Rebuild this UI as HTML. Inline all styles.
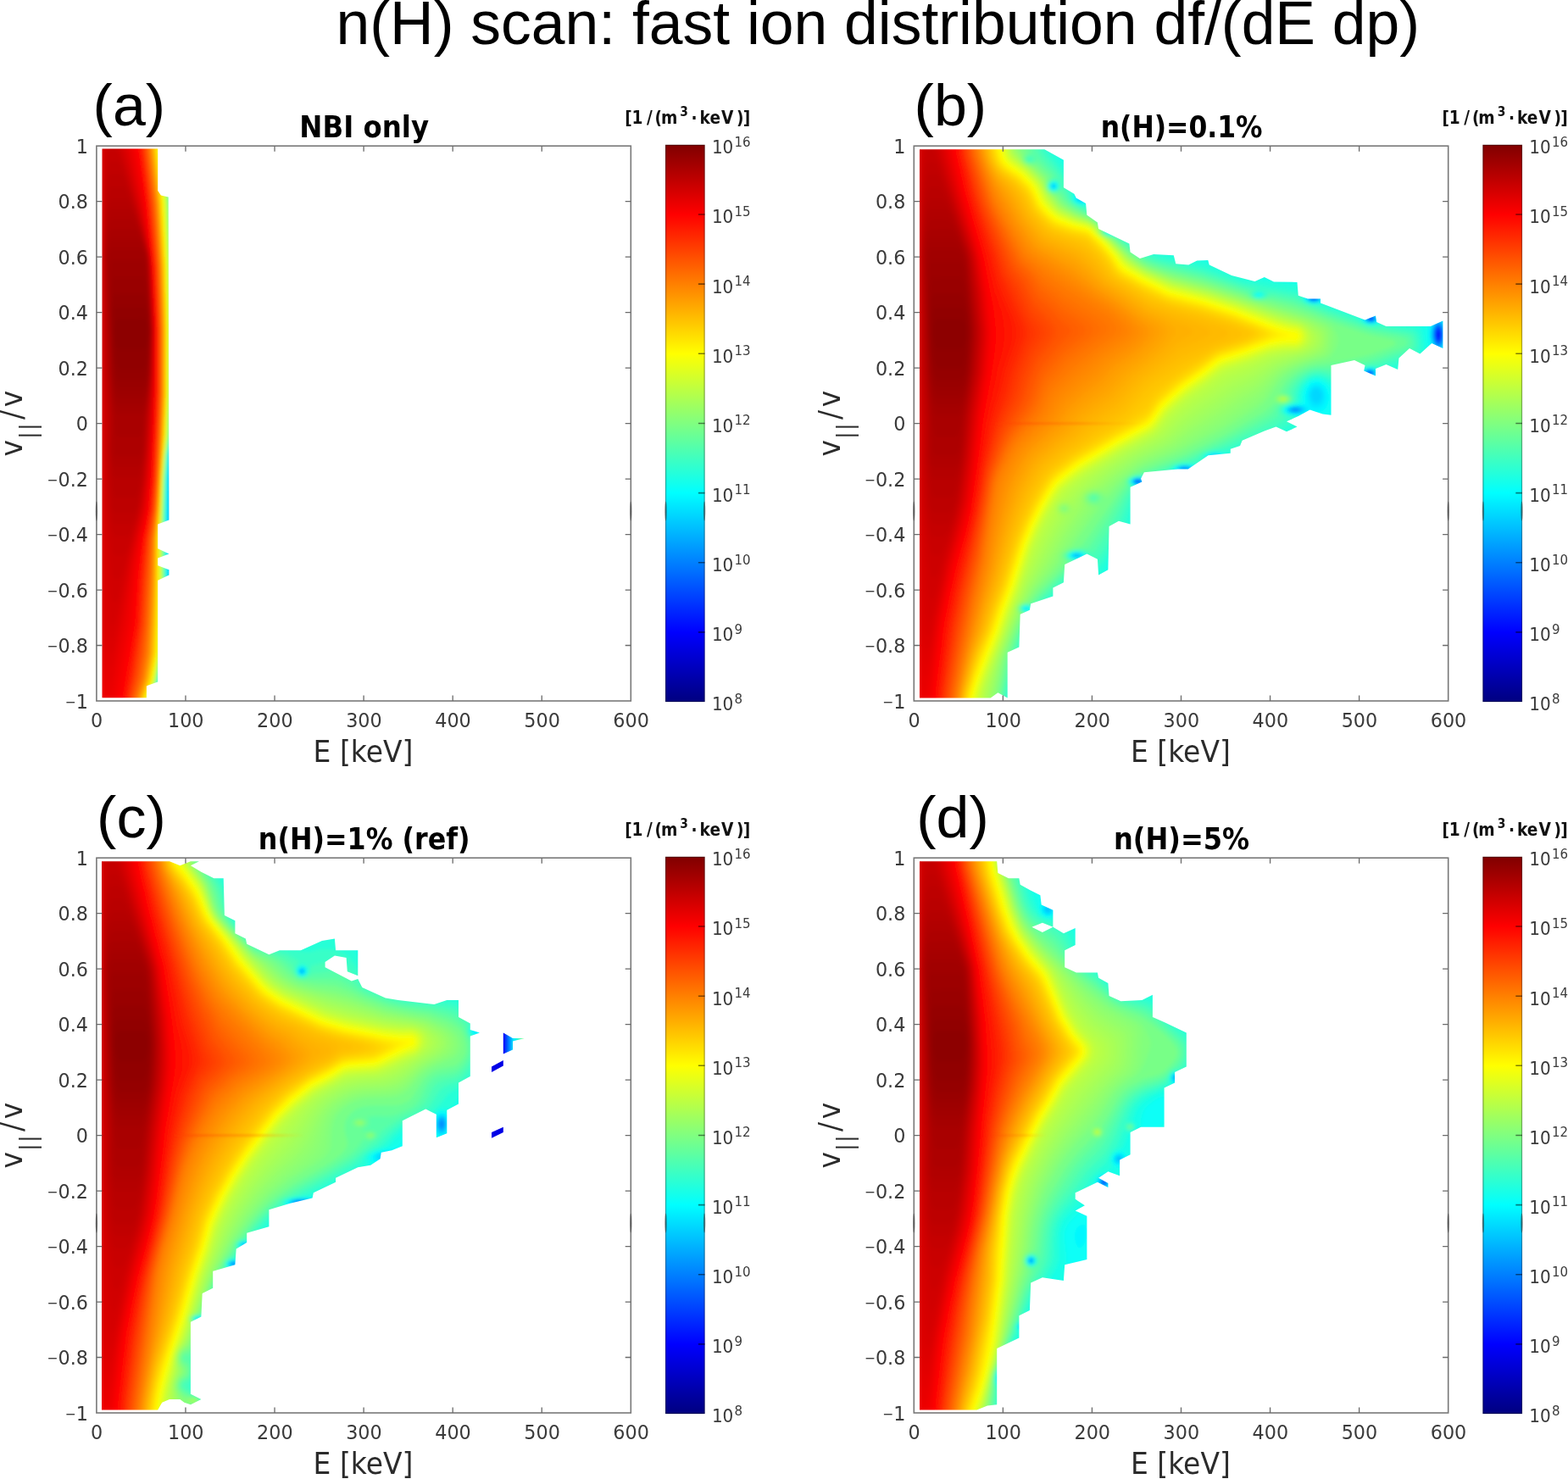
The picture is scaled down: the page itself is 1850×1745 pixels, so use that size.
<!DOCTYPE html>
<html lang="en"><head><meta charset="utf-8"><title>n(H) scan: fast ion distribution df/(dE dp)</title>
<style>
html,body{margin:0;padding:0;background:#fff}
svg{display:block}
.t{font-family:"Liberation Sans",sans-serif;fill:#000}
.d{font-family:"DejaVu Sans","Liberation Sans",sans-serif;fill:#3a3a3a}
.tk{font-size:22.3px}
.mn{font-size:15.5px}
.cb{font-size:20px}
.ex{font-size:15px}
.lb{font-size:33px;fill:#2b2b2b}
.sb{font-size:24.5px}
.ti{font-size:32.4px;font-weight:bold;fill:#000}
.cu{font-size:18.6px;font-weight:bold;fill:#111}
.su{font-size:13.8px}
.ax{fill:none;stroke:#787878;stroke-width:1.6}
.tc{fill:none;stroke:#6a6a6a;stroke-width:1.3}
</style></head><body>
<svg width="1850" height="1745" viewBox="0 0 1850 1745">
<defs>
<filter id="bl" x="-5%" y="-5%" width="110%" height="110%"><feGaussianBlur stdDeviation="2"/></filter>
<filter id="b1" x="-5%" y="-200%" width="110%" height="500%"><feGaussianBlur stdDeviation="1.2"/></filter>
<linearGradient id="rg" x1="0" y1="0" x2="1" y2="0"><stop offset="0" stop-color="#ff3000" stop-opacity="0"/><stop offset="0.12" stop-color="#ff4800"/><stop offset="0.6" stop-color="#ff8a00"/><stop offset="1" stop-color="#ffc000" stop-opacity="0"/></linearGradient>
<linearGradient id="jet" x1="0" y1="1" x2="0" y2="0">
<stop offset="0" stop-color="#000080"/><stop offset="0.03125" stop-color="#00009f"/><stop offset="0.0625" stop-color="#0000bf"/><stop offset="0.09375" stop-color="#0000df"/><stop offset="0.125" stop-color="#0000ff"/><stop offset="0.15625" stop-color="#0020ff"/><stop offset="0.1875" stop-color="#0040ff"/><stop offset="0.21875" stop-color="#0060ff"/><stop offset="0.25" stop-color="#0080ff"/><stop offset="0.28125" stop-color="#009fff"/><stop offset="0.3125" stop-color="#00bfff"/><stop offset="0.34375" stop-color="#00dfff"/><stop offset="0.375" stop-color="#00ffff"/><stop offset="0.40625" stop-color="#20ffdf"/><stop offset="0.4375" stop-color="#40ffbf"/><stop offset="0.46875" stop-color="#60ff9f"/><stop offset="0.5" stop-color="#80ff80"/><stop offset="0.53125" stop-color="#9fff60"/><stop offset="0.5625" stop-color="#bfff40"/><stop offset="0.59375" stop-color="#dfff20"/><stop offset="0.625" stop-color="#ffff00"/><stop offset="0.65625" stop-color="#ffdf00"/><stop offset="0.6875" stop-color="#ffbf00"/><stop offset="0.71875" stop-color="#ff9f00"/><stop offset="0.75" stop-color="#ff8000"/><stop offset="0.78125" stop-color="#ff6000"/><stop offset="0.8125" stop-color="#ff4000"/><stop offset="0.84375" stop-color="#ff2000"/><stop offset="0.875" stop-color="#ff0000"/><stop offset="0.90625" stop-color="#df0000"/><stop offset="0.9375" stop-color="#bf0000"/><stop offset="0.96875" stop-color="#9f0000"/><stop offset="1" stop-color="#800000"/></linearGradient>
</defs>
<rect width="1850" height="1745" fill="#fff"/>
<text class="t" x="396.6" y="51.9" font-size="71.45">n(H) scan: fast ion distribution df/(dE dp)</text>
<g id="panel-a">
<clipPath id="ca"><path clip-rule="evenodd" d="M120.5 175.5l65.7 0 0 49.4 3.7 5.5 8.8 2 0.7 381.2-13.2 4.9 0 28.8 13.2 6.2-13.2 5 0 8.7 13.2 5 0 6.3-13.2 6.2 0 119.9-11.3 3.8-2 1.2 0 13.7-52.4 0z"/></clipPath>
<g clip-path="url(#ca)"><g filter="url(#bl)">
<rect x="110.5" y="165.5" width="99.9" height="669.3" fill="#00b7ff"/>
<path fill="#00c7ff" d="M201.3 165.5l0.3 14 5.9 61.9 1.8 121.9-0.4 99.9-2.2 46-1.2 9.9-3.4 14-1.7 27.2-1.4 72.7 1.4 22-0.3 30-0.7 49.9-1.8 36-6.1 32-7.1 19.9-0.5 12-73.4 0 0-669.3z"/>
<path fill="#00d7ff" d="M200 165.5l0.4 16 5.7 59.9 1.6 75.9 0.3 72-0.4 75.9-2.3 48-4.9 23.6-1.3 28.3-1.4 67.9 1.5 22-0.3 28-1 55.9-1.8 34-6.4 32-5.3 14.2-1.5 5.7-0.2 10-72.2 0 0-669.3z"/>
<path fill="#00e7ff" d="M199.1 165.5l0.4 14 5.9 61.9 1.3 73.9 0.5 68-0.5 79.9-2.4 50-4.3 21.9-1.7 28-1.5 69.9 1.4 22-0.2 30-0.8 49.9-1.7 36-6.1 32-7 19.9-0.5 12-71.4 0 0-669.3z"/>
<path fill="#00f7ff" d="M198.3 165.5l0.3 12 6.1 65.9 1.4 95.9 0.3 52-0.4 73.9-2.3 48-4.3 21.9-1.8 30-0.5 36-1 31.9 1.4 22-0.1 30-0.9 47.9-1.7 38-6.1 32-6.9 19.9-0.4 12-70.9 0 0-669.3z"/>
<path fill="#08fff7" d="M197.8 165.5l0.3 14 5.9 61.9 1.4 72 0.3 51.9-0.3 99.9-2.3 48-4.5 23.9-1.6 28-1.5 69.9 1.3 20-0.1 30-0.8 49.9-1.7 36-6.6 34-6.3 17.9-0.5 12-70.3 0 0-669.3z"/>
<path fill="#18ffe7" d="M197.2 165.5l0.2 12 6.1 65.9 1.3 71.9 0.5 70-0.5 79.9-2.2 48-4.2 21.9-2 30-1.5 69.9 1.2 20 0 32-0.8 47.9-1.6 36-6.1 32-6.9 19.9-0.4 12-69.8 0 0-669.3z"/>
<path fill="#28ffd7" d="M196.6 165.5l0.2 12 6.1 65.9 1.4 71.9 0.5 72-0.6 77.9-2.1 48-4.1 21.9-2 30-1.6 69.9 1.1 20 0.1 32-0.8 47.9-1.6 36-6.1 32-6.9 19.9-0.4 12-69.3 0 0-669.3z"/>
<path fill="#38ffc7" d="M196.1 165.5l0.2 12 6.1 65.9 1.3 71.9 0.6 72-0.6 77.9-2.1 48-4 21.9-2.1 30-1.6 69.9 1 20 0.2 32-0.9 47.9-1.5 36-6.1 32-6.8 19.9-0.5 12-68.8 0 0-669.3z"/>
<path fill="#48ffb7" d="M195.5 165.5l0.2 12 6.1 65.9 1.4 71.9 0.6 72-0.6 77.9-2.1 48-4.1 23.9-1.9 28-1.7 69.9 0.9 20 0.3 32-0.9 47.9-1.5 36-6 32-6.9 19.9-0.4 12-68.4 0 0-669.3z"/>
<path fill="#58ffa7" d="M194.9 165.5l0.3 12 6 65.9 1.5 71.9 0.6 72-0.5 77.9-2.2 48-4.2 25.5-1.8 26.4-1.7 69.9 0.8 20 0.4 32-0.9 47.9-1.5 36-6 32-6.8 19.9-0.5 12-67.9 0 0-669.3z"/>
<path fill="#68ff97" d="M194.4 165.5l0.2 12 6.1 65.9 1.5 71.9 0.6 72-0.5 77.9-2.2 48-3.9 23.9-2 28-1.8 69.9 1.2 52-0.9 47.9-1.5 36-5.9 32-6.9 19.9-0.5 12-67.4 0 0-669.3z"/>
<path fill="#78ff87" d="M193.7 165.5l0.3 12 6.1 67.9 1.5 69.9 0.7 72-0.5 77.9-2.1 48-3.8 23.9-2 28-2 69.9 1.2 54-0.9 45.9-1.4 36-6 32-6.9 19.9-0.4 12-67 0 0-669.3z"/>
<path fill="#82ff7d" d="M193.1 165.5l0.2 12 6.1 65.9 1.7 71.9 0.7 72-0.5 77.9-2.1 48-3.7 23.9-2 28-2.1 69.9 1.2 52-0.9 47.9-1.4 36-6 32-6.9 19.9-0.4 12-66.5 0 0-669.3z"/>
<path fill="#87ff78" d="M192.9 165.5l0.2 12 6.1 65.9 1.7 71.9 0.7 72-0.5 77.9-2.1 48-3.8 25.9-1.9 28-2.1 67.9 1.2 52-0.9 47.9-1.4 36-5.9 32-7 19.9-0.4 12-66.3 0 0-669.3z"/>
<path fill="#8cff73" d="M192.7 165.5l0.2 12 6 65.9 1.8 71.9 0.8 72-0.5 77.9-2.2 48-3.7 25.9-1.9 28-2.1 67.9 1.1 52-0.8 47.9-1.5 36-5.9 32-6.9 19.9-0.4 12-66.2 0 0-669.3z"/>
<path fill="#91ff6e" d="M192.5 165.5l0.2 12 6 65.9 1.8 71.9 0.8 72-0.5 77.9-2.1 48-3.7 25.9-1.9 28-2.2 67.9 1.2 52-0.9 47.9-1.4 36-6 32-6.9 19.9-0.4 12-66 0 0-669.3z"/>
<path fill="#96ff69" d="M192.2 165.5l0.3 12 6 65.9 1.9 71.9 0.8 72-0.5 77.9-2.2 48-3.6 25.9-1.9 28-2.2 67.9 1.1 52-0.9 47.9-1.4 36-5.9 32-7 19.9-0.4 12-65.8 0 0-669.3z"/>
<path fill="#9cff63" d="M192 165.5l0.2 12 5.7 59.9 0.5 10.9 1.8 67 0.8 72-0.5 77.9-2.1 48-3.6 25.9-2 28-2.2 67.9 1.1 52-0.9 47.9-1.4 36-5.9 32-6.9 19.9-0.4 12-65.7 0 0-669.3z"/>
<path fill="#a1ff5e" d="M191.7 165.5l0.3 12 5.8 61.9 0.6 17.5 1.6 58.4 0.8 72-0.5 77.9-2.1 48-3.6 25.9-1.9 28-2.3 67.9 1.1 52-0.8 47.9-1.4 36-6 32-6.9 19.9-0.4 12-65.5 0 0-669.3z"/>
<path fill="#a6ff59" d="M191.5 165.5l0.2 12 5.8 61.9 0.9 25.7 1.4 50.2 0.9 72-0.5 77.9-2.2 48-3.5 25.9-1.9 28-2.3 67.9 1 52-0.8 47.9-1.4 36-5.9 32-7 19.9-0.4 12-65.3 0 0-669.3z"/>
<path fill="#abff54" d="M191.3 165.5l0.2 12 5.8 61.9 1.1 34.1 1.2 41.8 0.9 72-0.5 77.9-2.1 48-3.5 25.9-1.9 28-2.4 67.9 1 52-0.7 45.9-1.5 38-5.9 32-7 19.9-0.4 12-65.1 0 0-669.3z"/>
<path fill="#b0ff4f" d="M191 165.5l0.2 12 5.8 61.9 1.4 42 1 33.9 1 74-0.6 75.9-2.1 48-3.4 25.9-1.9 28-2.5 67.9 1 52-0.7 45.9-1.4 38-6 32-7 19.9-0.4 12-64.9 0 0-669.3z"/>
<path fill="#b5ff4a" d="M190.8 165.5l0.1 12 5.9 63.9 2.3 70 1.1 77.9-0.5 75.9-2.2 48-3.3 25.9-1.8 24.9-2.6 69 1 54-0.9 47.9-1.3 36-5.9 32-7.1 19.9-0.4 12-64.7 0 0-669.3z"/>
<path fill="#baff45" d="M190.5 165.5l0.2 12 5.8 61.9 2.4 72 1.1 77.9-0.5 75.9-2.1 48-3.3 25.9-1.8 24-2.6 69.9 0.9 54-0.9 47.9-1.3 36-5.9 32-7.1 19.9-0.4 12-64.5 0 0-669.3z"/>
<path fill="#bfff40" d="M190.2 165.5l0.2 12 5.9 63.9 2.4 72 1.2 75.9-0.6 75.9-2.1 48-3.2 25.9-1.8 24-2.7 69.9 0.9 54-2 81.9-0.7 6-5.4 28-7 19.9-0.4 12-64.4 0 0-669.3z"/>
<path fill="#c4ff3b" d="M190 165.5l0.2 12 5.8 63.9 2.5 72 1.2 75.9-0.5 75.9-2.2 48-3.2 25.9-1.7 24-2.8 69.9 0.9 54-0.8 47.9-1.4 36-5.9 32-7 19.9-0.4 12-64.2 0 0-669.3z"/>
<path fill="#c9ff36" d="M189.7 165.5l0.2 12 5.8 63.9 2.6 72 1.2 75.9-0.5 75.9-2.2 48-3.1 25.9-1.7 24-2.8 69.9 0.7 54-0.7 47.9-1.4 36-5.9 32-7 19.9-0.4 12-64 0 0-669.3z"/>
<path fill="#cfff30" d="M189.4 165.5l0.2 12 5.8 63.9 2.7 72 1.2 75.9-0.5 75.9-2.1 48-3.1 25.9-1.7 24-2.9 69.9 0.7 54-0.7 47.9-1.4 36-5.9 32-7 19.9-0.4 12-63.8 0 0-669.3z"/>
<path fill="#d4ff2b" d="M189.1 165.5l0.2 12 5.8 63.9 2.8 72 1.3 75.9-0.5 75.9-2.2 48-3 25.9-1.7 24-3 69.9 0.7 54-0.7 47.9-1.4 36-5.9 32-7 19.9-0.5 12-63.5 0 0-669.3z"/>
<path fill="#d9ff26" d="M188.8 165.5l0.2 12 5.8 63.9 2.9 72 1.3 75.9-0.5 75.9-2.2 48-2.9 25.9-1.7 24-3 69.9 0.6 54-0.7 47.9-1.4 36-5.9 32-7.1 19.9-0.4 12-63.3 0 0-669.3z"/>
<path fill="#deff21" d="M188.6 165.5l0.1 12 5.8 63.9 3 72 1.3 75.9-0.4 73.9-2.3 50-2.8 25.9-1.7 24-3.1 69.9 0.6 54-0.7 46.4-1.4 37.5-5.9 32-7.1 19.9-0.4 12-63.1 0 0-669.3z"/>
<path fill="#e3ff1c" d="M188.3 165.5l0.2 12 5.8 63.9 2.9 72 1.4 75.9-0.4 73.9-2.2 50-2.8 25.9-1.7 24-3.2 71.9 0.6 52-0.7 45.9-1.4 38-5.9 32-7.1 19.9-0.4 12-62.9 0 0-669.3z"/>
<path fill="#e8ff17" d="M188 165.5l0.2 12 5.8 63.9 3 72 1.5 75.9-0.5 73.9-2.2 50-2.8 25.9-1.7 24-3.2 71.9 0.6 52-0.8 45.9-1.3 38-5.9 32-7.2 19.9-0.4 12-62.6 0 0-669.3z"/>
<path fill="#edff12" d="M187.7 165.5l0.2 12 5.8 63.9 3.1 72 1.5 75.9-0.5 73.9-2.2 50-2.7 25.9-1.7 24-3.3 71.9 0.5 52-0.8 47.9-1.2 35.9-6 32.1-7.1 19.9-0.4 12-62.4 0 0-669.3z"/>
<path fill="#f2ff0d" d="M187.4 165.5l0.1 12 5.9 63.9 3.2 72 1.5 75.9-0.5 73.9-2.2 50-2.6 25.9-1.7 24-3.4 71.9 0.5 52-1.9 81.9-5.9 33-7.4 20.9-0.3 12-62.2 0 0-669.3z"/>
<path fill="#f7ff08" d="M187 165.5l0.2 12 5.9 63.9 3.3 73.6 1.5 74.3-0.5 73.9-2.2 50-4.2 49.9-3.5 71.9 0.4 52-0.8 47.9-1.1 34-1.6 11.1-4 20.9-7.6 21.9-0.4 12-61.9 0 0-669.3z"/>
<path fill="#fcff03" d="M186.7 165.5l0.2 12 5.9 63.9 3.4 73.9 1.5 74-0.5 75.9-2.2 48-4 47.9-3.7 73.9 0.4 52-0.8 47.9-1.2 34-1.3 9.7-4.8 24.3-7.1 19.9-0.4 12-61.6 0 0-669.3z"/>
<path fill="#fffc00" d="M186.4 165.5l0.2 12 5.9 63.9 3.4 73.9 1.6 74-0.5 75.9-2.2 48-3.9 47.9-1.8 42-2 31.9 0.3 52-0.7 47.9-1.4 36-6 32-7.1 19.9-0.4 12-61.3 0 0-669.3z"/>
<path fill="#fff700" d="M186.1 165.5l0.2 12 5.9 63.9 3.5 73.9 1.5 74-0.4 75.9-2.1 48-3.9 47.9-1.8 42-2.1 31.9 0.3 52-0.8 47.8-1.4 36.1-6 32-7.1 19.9-0.4 12-61 0 0-669.3z"/>
<path fill="#fff200" d="M185.8 165.5l0.2 12 5.9 63.9 3.5 73.9 1.6 74-0.4 75.9-2.1 48-3.8 47.9-1.9 42-2.1 31.9 0.2 52-0.8 45.9-1.4 38-5.9 32-7.2 19.9-0.4 12-60.7 0 0-669.3z"/>
<path fill="#ffed00" d="M185.4 165.5l0.2 12 6 63.9 3.6 73.9 1.6 74-0.4 75.9-2.1 48-3.7 47.9-1.9 42-2.1 31.9 0.1 52-0.9 45.9-1.4 38-5.9 32-7.2 19.9-0.4 12-60.4 0 0-669.3z"/>
<path fill="#ffe800" d="M185.1 165.5l0.2 12 6 63.9 3.6 73.9 1.7 74-0.3 73.9-2.2 50-3.8 49.9-1.7 40-2.2 31.9 0 52-2.2 81.9-5.8 32.8-7.4 21.1-0.4 12-60.1 0 0-669.3z"/>
<path fill="#ffe300" d="M184.7 165.5l0.2 12 6.1 63.9 3.7 73.9 1.7 74-0.3 73.9-2.2 50-3.7 49.9-1.8 39.9-2.3 32 0 52-1 47.9-1.3 34-1.4 10.2-4.1 21.8-7.6 21.9-0.4 12-59.8 0 0-669.3z"/>
<path fill="#ffde00" d="M184.4 165.5l0.2 12 6.1 63.9 3.8 73.9 1.7 74-0.4 73.9-2.1 50-3.6 49.9-1.7 38-2.5 33.9-0.1 52-1 47.9-1.5 36-5.9 32-7.1 19.9-0.4 12-59.4 0 0-669.3z"/>
<path fill="#ffd900" d="M184 165.5l0.3 12 6.1 63.9 3.8 73.9 1.8 74-0.4 75.9-2.2 49.9-3.5 48-1.7 38-2.5 33.9-0.2 52-1 47.9-1.6 36-5.9 32-7.1 19.9-0.4 12-59 0 0-669.3z"/>
<path fill="#ffd400" d="M183.7 165.5l0.2 12 6.2 63.9 3.8 73.9 1.8 74-0.3 75.9-2.2 49.9-3.4 48-1.8 38-2.5 33.9-0.3 52-1 45.9-1.7 38-5.8 32-7.1 19.9-0.4 12-58.7 0 0-669.3z"/>
<path fill="#ffcf00" d="M183.3 165.5l0.2 12 6.1 61.9 4.1 75.9 1.7 70-0.3 81.9-2.1 47.9-3.3 48-1.8 38-2.6 33.9-0.4 54-1.2 45.9-1.6 36-5.8 32-7.1 19.9-0.4 12-58.3 0 0-669.3z"/>
<path fill="#ffc900" d="M182.9 165.5l0.3 12 6.1 61.9 4 74 1.1 39.9 0.9 38-0.4 75.9-2.1 47.9-3.3 48-1.8 38-2.6 33.9-0.7 60.1-1.1 39.8-1.6 36-5.8 32-7.1 19.9-0.4 12-57.9 0 0-669.3z"/>
<path fill="#ffc400" d="M182.6 165.5l0.2 12 6.2 61.9 4.1 74 1.3 49.8 0.6 28.1-0.3 75.9-2.2 49.9-3.1 46-1.9 38-2.7 33.9-0.5 52-1.3 47.9-1.8 36-5.8 32-7 19.9-0.4 12-57.5 0 0-669.3z"/>
<path fill="#ffbf00" d="M182.2 165.5l0.2 12 6.3 61.9 4.1 74 1.6 59.5 0.4 18.4-0.3 75.9-2.1 47.7-3.2 48.2-1.8 38-2.8 33.9-0.6 52-1.4 47.9-1.8 36-5.8 32-7 19.9-0.4 12-57.1 0 0-669.3z"/>
<path fill="#ffba00" d="M181.8 165.5l0.3 12 6.3 61.9 4.2 75.9 1.8 67.1-0.2 84.8-1.9 46-5.1 87.9-2.8 33.9-0.8 54-1.4 45.9-1.8 36-5.8 32-7 19.9-0.4 12-56.7 0 0-669.3z"/>
<path fill="#ffb500" d="M181.5 165.5l0.2 12 6.4 61.9 4.2 75.9 2 72-0.3 79.9-1.9 46-5 87.9-3 33.9-1.6 80-2.6 55.9-5.5 31-7.2 20.9-0.4 12-56.3 0 0-669.3z"/>
<path fill="#ffb000" d="M181.1 165.5l0.2 12 6.5 61.9 4.3 75.9 1.9 70-0.2 81.9-2 46-4.9 87.9-3 33.9-1.5 69.9-2.9 66-5.3 30-7.4 21.9-0.4 12-55.9 0 0-669.3z"/>
<path fill="#ffab00" d="M180.7 165.5l0.3 12 6.5 61.9 4.3 75.9 1.9 70-0.2 81.9-2 47.9-4.8 86-3.1 33.9-1.2 59.5-1.4 40.4-2 36-5.2 30-7.4 21.9-0.4 12-55.5 0 0-669.3z"/>
<path fill="#ffa600" d="M180.3 165.5l0.3 12 6.6 61.9 4.3 75.9 2 70-0.2 81.9-2 47.9-4.7 86-3.2 33.9-1.1 52-1.7 47.9-2.1 36-5.1 30-7.4 21.9-0.4 12-55.1 0 0-669.3z"/>
<path fill="#ffa100" d="M180 165.5l0.2 12 6.6 61.9 4.3 74 1.3 43.1 0.9 34.8-0.3 75.9-1.9 47.9-4.7 85.6-3.3 34.3-2.2 80-2.8 55.9-5.2 30-7.3 21.9-0.4 12-54.7 0 0-669.3z"/>
<path fill="#ff9c00" d="M179.6 165.5l0.2 12 6.7 61.9 4.4 75.9 2 70-0.1 81.9-1.9 47.9-4.5 82.6-3.6 37.3-2.2 80-3 55.9-5.1 30-7.4 21.9-0.3 12-54.3 0 0-669.3z"/>
<path fill="#ff9600" d="M179.2 165.5l0.2 12 6.9 63.9 4.3 73.9 2.1 70-0.2 83.9-1.9 47.9-4.2 77.4-3.8 40.5-2.2 73.2-3.3 62.7-5.1 30-7.3 21.9-0.3 12-53.9 0 0-669.3z"/>
<path fill="#ff9100" d="M178.8 165.5l0.2 12 7 63.9 4.3 73.9 2.1 70-0.1 81.9-1.9 48.7-4 75.4-4.2 45.7-1.8 61-3.8 72.9-5.1 30-7.2 21.9-0.4 12-53.4 0 0-669.3z"/>
<path fill="#ff8c00" d="M178.4 165.5l0.2 12 7 63.9 4.4 73.9 2.2 72-0.2 79.9-1.7 46-3.9 74.5-4.5 49.3-1.5 51.5-2 46-2.1 34.4-5.3 32-7.2 21.9-0.4 12-52.9 0 0-669.3z"/>
<path fill="#ff8700" d="M177.9 165.5l0.3 12 7.1 63.9 4.4 73.9 2.3 74-0.1 73.9-1.5 41.4-4.3 84.5-1.7 21.6-2.9 26.3-3.1 87.5-2.9 46.4-5 30-7.2 21.9-0.3 12-52.5 0 0-669.3z"/>
<path fill="#ff8200" d="M177.5 165.5l0.2 12 7.1 61.9 4.6 75.9 2.3 74-0.1 73.9-1.2 34.9-5.2 101-4 37.9-2.8 77.6-3.4 56.3-5.1 30-7.1 21.9-0.3 12-52 0 0-669.3z"/>
<path fill="#ff7d00" d="M177 165.5l0.3 12 7.1 62.1 4.7 75.7 2.2 72 0 75.9-0.9 27.6-2 46.5-3.6 63.8-3.9 35.9-2.9 76-3.6 57.7-5.1 30.2-7 21.9-0.3 12-51.5 0 0-669.3z"/>
<path fill="#ff7800" d="M176.6 165.5l0.2 12 7.3 63.9 4.7 73.9 2.3 74 0 73.9-1.3 36-5.2 101.9-4 33.9-4.2 98.7-2.5 35.2-5.2 32-7 21.9-0.3 12-50.9 0 0-669.3z"/>
<path fill="#ff7300" d="M176.1 165.5l0.3 12 7.3 63.9 4.7 73.1 2.4 74.8 0 73.9-1.3 38-5.1 99.4-4.3 36.4-4.2 95.9-2.9 38-4.6 28.1-7.3 23.8-0.3 12-50.3 0 0-669.3z"/>
<path fill="#ff6e00" d="M175.6 165.5l0.3 12 7.4 63.9 4.8 73.9 2.4 74 0 73.9-1.8 50-4.3 83.5-4.7 40.3-4.5 95.9-2.8 36-5.2 32-6.7 21.9-0.3 12-49.7 0 0-669.3z"/>
<path fill="#ff6900" d="M175.1 165.5l0.3 12 7.5 63.9 4.9 73.9 2.4 74 0 73.9-1.8 51.9-4 77.6-0.8 10.4-4.3 33.9-4.8 97.9-2.9 34-5.2 32-6.5 21.9-0.3 12-49.1 0 0-669.3z"/>
<path fill="#ff6300" d="M174.6 165.5l0.3 12 7.5 63.9 5 73.9 2.5 74 0 73.9-1.5 44.7-4 81.2-1.1 14-4.5 33.9-5.3 101.9-3.2 34-4.7 28-6.4 21.9-0.3 12-48.4 0 0-669.3z"/>
<path fill="#ff5e00" d="M174.1 165.5l0.3 12 7.6 63.9 4.4 63.8 3.2 84.1 0 69.9-3.4 93.9-3 48-4.8 35.9-5.2 97.9-3.3 34-4.8 30-6.6 23.9-0.3 12-47.7 0 0-669.3z"/>
<path fill="#ff5900" d="M173.6 165.5l0.2 12 7.7 63.9 4.9 69.2 2.9 78.7 0 71.9-4 101.9-2.6 40-4.8 33.9-5.8 101.9-3.3 32-4.2 26-6.8 25.9-0.3 12-47 0 0-669.3z"/>
<path fill="#ff5400" d="M173 165.5l0.3 12 7.7 63.9 5.2 72 2.8 75.9 0 73.9-4.1 101.9-2.5 37.3-5 34.6-6 101.9-3.5 32-4.2 26-6.6 25.9-0.3 12-46.3 0 0-669.3z"/>
<path fill="#ff4f00" d="M172.5 165.5l0.2 12 7.8 63.9 5.4 72 2.8 75.9 0 73.9-4.2 103.9-2.3 34-5.3 35.9-3.4 50-2.6 49.9-3.9 34-4.1 26-6.5 25.9-0.3 12-45.6 0 0-669.3z"/>
<path fill="#ff4a00" d="M171.9 165.5l0.3 12 7.8 63.9 5.5 72 2.9 75.9 0 71.9-4 103.3-2.6 36.6-5.4 35.9-3.4 48-2.8 51.9-4.1 34-4.1 26-6.3 25.9-0.3 12-44.9 0 0-669.3z"/>
<path fill="#ff4500" d="M171.4 165.5l0.3 12 7.8 63.9 5.6 72 3 75.9 0 71.9-3.9 101.9-2.7 38-5.7 35.9-3.5 48-2.8 51.9-4.2 34-4.2 26-6.2 25.9-0.2 12-44.2 0 0-669.3z"/>
<path fill="#ff4000" d="M170.8 165.5l0.3 12 7.9 63.9 5.7 72 3.1 75.9 0 71.9-4.1 103.9-2.8 38-5.6 33.9-3.7 48-2.8 51.9-4.4 34-4.2 26-5.8 24.6-0.4 13.3-43.5 0 0-669.3z"/>
<path fill="#ff3b00" d="M170.3 165.5l0.3 12 7.9 63.9 6 73.9 3 74 0 71.9-4.1 103.9-2.9 38-5.7 33.9-3.9 48-2.8 51.9-4.6 34-4.2 26-5.5 23.9-0.5 14-42.8 0 0-669.3z"/>
<path fill="#ff3600" d="M169.7 165.5l0.3 12 8 63.9 6.1 73.9 3 74 0 71.9-4.1 103.9-2.6 36-6.3 37.9-3.9 46-2.9 51.9-8.8 60-5.4 23.9-0.5 14-42.1 0 0-669.3z"/>
<path fill="#ff3000" d="M169.2 165.5l0.3 12 8 63.9 6.2 73.9 3.1 74 0 71.9-4.1 103.9-2.7 36-6.5 37.9-4 46-2.9 51.9-9 60-5.2 23.9-0.5 14-41.4 0 0-669.3z"/>
<path fill="#ff2b00" d="M168.6 165.5l0.3 12 8.1 63.9 6.4 73.9 3.1 74 0 71.9-4.1 103-2.8 36.9-6.6 37.9-4.2 46-2.9 51.9-9.2 60-5 23.9-0.5 14-40.7 0 0-669.3z"/>
<path fill="#ff2600" d="M168.1 165.5l0.3 12 8.1 63.9 6.5 73.9 3.2 74 0 71.9-1.8 52.9-2.4 51-2.8 36-6 31.9-0.9 8-4.2 44-2.7 49.9-9.6 62-4.8 23.9-0.5 14-40 0 0-669.3z"/>
<path fill="#ff2100" d="M167.5 165.5l0.3 12 8 61.9 6.8 75.9 3.3 74-0.1 71.9-1.7 52-2.5 51.9-2.8 36-6.4 33.9-4.5 44-3.2 55.9-9.7 62-4.7 23.9-0.5 14-39.3 0 0-669.3z"/>
<path fill="#ff1c00" d="M166.9 165.5l0.3 12 8.1 61.9 7 75.9 3.2 74 0 71.9-1.8 52-2.5 51.9-2.8 36-6.6 33.9-4.6 44-3.2 55.9-9.9 62-4.6 23.9-0.4 14-38.6 0 0-669.3z"/>
<path fill="#ff1700" d="M166.3 165.5l0.3 12 8.2 61.9 7.1 75.9 3.3 74-0.1 71.9-1.8 52-2.5 51.9-2.9 36-6.6 33.9-5.2 48-2.8 51.9-14.5 85.9-0.4 14-37.9 0 0-669.3z"/>
<path fill="#ff1200" d="M165.7 165.5l0.3 12 8.4 63.7 7.3 76.1 3.2 72-0.1 71.9-1.9 53.9-2.5 50-2.9 36-6.8 33.9-5.1 46-3.1 53.9-14.5 85.9-0.4 14-37.1 0 0-669.3z"/>
<path fill="#ff0d00" d="M165 165.5l0.3 12 8.5 63.9 7.5 75.9 3.3 72-0.1 51.9-0.2 26-4.2 95.9-3.1 38-6.9 33.9-5.1 44-3.3 55.9-14.5 85.9-0.4 14-36.3 0 0-669.3z"/>
<path fill="#ff0800" d="M164.3 165.5l0.3 12 8.4 61.9 8 77.9 3.3 72-0.1 49.9-0.3 26-1.5 42.4-2.9 57.5-3 36-7.1 33.9-5.4 46-3.2 53.9-7.2 40-7 43.9-0.6 6-0.1 10-35.4 0 0-669.3z"/>
<path fill="#ff0300" d="M163.4 165.5l0.3 12 8.7 62.3 7.1 63.6 1.2 15.9 3.3 70-0.2 51.9-1.5 58-3.9 74-2.5 27.9-7.2 33.9-5.4 44-3.5 55.9-6.4 34-7.9 49.9-0.6 16-34.4 0 0-669.3z"/>
<path fill="#fd0000" d="M162.4 165.5l0.3 12 9.1 63.9 7.6 64 4.1 79.9-0.5 81.9-3.3 75.9-3.3 45.9-1.5 14.1-6.2 27.9-1.6 10-5.5 44-3.1 49.9-7.2 38-7.6 47.9-0.3 14-32.9 0 0-669.3z"/>
<path fill="#f90000" d="M161.2 165.5l0.4 12 9.3 61.9 8 64 1.1 13.9 3.3 70-0.6 79.9-3.4 75.9-2.9 40.2-2 19.6-6.8 30.1-2.1 14-4.7 36-3.8 51.9-7.7 40-7.3 45.9-0.5 14-31 0 0-669.3z"/>
<path fill="#f50000" d="M159.9 165.5l0.2 10 10.3 65 8.3 62.9 1.1 13.9 3.3 70-0.7 79.5-4 84.3-4 47.8-7.6 34.1-1.6 10-6 42-4.2 49.9-7.5 38-8.2 47.9-0.5 14-28.3 0 0-669.3z"/>
<path fill="#f10000" d="M158.2 165.5l0.5 12 11.1 63.9 8.6 62 1.1 13.9 3.4 72-0.8 75.9-3.7 78.2-4.3 51.7-1.7 10.8-6.8 29.1-4.3 26-3.7 26-4.6 45.9-16.7 87.9-0.6 14-25.2 0 0-669.3z"/>
<path fill="#ed0000" d="M156.4 165.5l0.2 10 12 63.9 9.6 64 1.1 13.9 3.4 72-1.1 77.9-3.3 69.9-1.9 27.5-3.2 32.5-0.9 6-7.3 29.9-5 28-3.7 24-5.7 47.9-17.4 87.9-0.5 4-0.1 10-13.1 0-0.2-10-0.8-3-2-1.8-6-0.3 0-654.2z"/>
<path fill="#e90000" d="M154.6 165.5l0.2 10 13.3 65.9 9.6 60 1.3 15.9 3.4 72-0.4 49.9-0.8 28-3.9 75.9-1.6 22-3.3 32-1.4 8-7.4 29.9-5 26-3.9 24-6.8 49.9-13.4 66.7-4 15.4-2 3.9-2-1-6-16.2-2-3.9-2-1.6-6-0.4 0-632.3z"/>
<path fill="#e50000" d="M152.7 165.5l0.3 10 14.2 65.9 10.3 60 1.3 15.9 3.4 72-0.7 59.9-3.1 66.1-3.2 47.8-3.6 34-1.2 6.6-7.4 29.3-5.8 28-11.3 71.9-9.4 46.2-4 17.6-2 6.1-2 1.8-2-3.2-6-19-2-4.2-2-1.8-6-0.4 0-610.5z"/>
<path fill="#e10000" d="M150.9 165.5l0.1 8 0.6 4 14.8 64.7 10.8 59.2 1.3 15.9 3.4 72-0.5 49.9-0.9 28-4.1 72.7-2 24.8-3.4 30.4-1.3 8-7.7 29.9-6.1 28-11.2 65.9-6.2 30.6-4 18.3-2 7.3-2 4-2-0.4-2-4.7-6-20.9-2-4.5-2-1.9-6-0.5 0-588.7z"/>
<path fill="#dd0000" d="M149.1 165.5l0.1 8 0.6 4 16.4 67.9 10.8 56 1.3 15.9 3.4 72-0.5 49.9-1 26-4.1 71.9-2.2 26-3.7 32-1.4 8-7.8 29.9-6.5 28-10.9 59.9-7.1 34-4 13.8-2 2.1-2-2.5-2-5.9-6-23.5-4-72.7-2-9-2-1-2 0 0-490.7z"/>
<path fill="#d90000" d="M147.2 165.5l0.2 8 0.6 4 7.5 28 9.9 39.9 11.3 56 1.2 13.9 3.5 74-0.5 49.9-1.1 26-4.3 71.9-2.5 28-3.6 30-1.5 8-14.8 57.9-14.6 73.1-4 15.7-2 3.8-2-0.1-2-4-2.4-8.6-1.2-8-2-35.9-3.4-103.9-0.8-54-1.5-237.7 1.6-135.9z"/>
<path fill="#d50000" d="M145.4 165.5l0.1 8 0.7 4 7.9 28 10.3 39.6 6 26.1 6.1 30.2 1.2 13.9 3.5 74-0.8 53.9-5.1 87.9-2.8 32-3.9 32-1.6 8-15.4 57.9-9.1 44.7-4 16.6-4 12.6-2 2.4-2-1.9-1.4-6.5-2.7-29.9-4.6-99.9-0.9-48-2-249.7 2.1-135.9z"/>
<path fill="#d10000" d="M143.6 165.5l0.1 8 0.7 4 8 26.9 12 44.2 6 24.9 5.8 27.9 1.2 13.9 3.5 74-0.8 53.9-5.4 87.9-2.9 32-4.1 32-1.6 8-16 57.9-9.6 41-2 5.6-2 3.4-2 0.8-2-2-2-8.1-2-20.2-5-82.4-1.4-60 0.1-47.9-1-50-1.4-139.8 2.8-135.9z"/>
<path fill="#cd0000" d="M141.7 165.5l0.1 8 0.7 4 9.9 31.8 14 50 6 25.2 4 20.2 4.3 84.6-0.8 51.9-5.7 89.9-3.2 32-4.1 32-4.5 17.8-17.9 61.7-2 5.5-2 2.4-2 0.7-2 0-2-0.8-2-4.2-2-13.7-5-59.4-1.8-54-0.3-59.9-1.2-52-1.6-137.8 1.6-80 1.9-55.9z"/>
<path fill="#c90000" d="M139.6 165.5l0.2 8 1.3 6 11.3 34.3 11.2 37.6 6.8 26.3 4 17.3 2 12.4 4 81.9-0.9 51.9-3.7 50-2.2 39.9-3.2 31-4 30.1-1.7 8.9-4.3 14.9-10 30.2-1.9 4.6-2 3.1-2 1.3-2 0.2-6-0.1-2-1.1-2.1-5.2-1.9-12.6-3.4-31.3-2.2-54-0.5-20 0.3-39.9-1.5-50-2-139.8 2.3-87.9 2.2-38 0.1-10z"/>
<path fill="#c50000" d="M135.2 165.5l0.3 8 7 15.6 7.9 22.7 14 45.4 10 39.2 2.1 15 3.6 75.9-1.4 61.9-3.5 42-2.4 41.9-3.8 34-4.3 30-4.3 14.6-6 15.8-2 3.1-2 1.6-1.9 0.3-12-0.2-2-1.1-2-3.8-2-9-2.2-19.3-2.1-48-0.6-20 0.3-39.9-1.9-52-2.2-137.8 1.2-50 1.9-43.9 1.6-20.4 3.2-13.6 0-8z"/>
<path fill="#c10000" d="M130.5 190.5l6-0.4 2 0.6 2 1.8 2 3.3 4 9.4 13.9 41.6 8 27.1 6.3 25.5 1.7 15.9 3.5 80-1 45.9-4.2 50-2.3 39.9-4 34.4-5 31.6-3 9.8-4 8.8-2 1.9-2 0.4-15.9 0-2-0.8-2-3.8-2-10.4-1.5-19.9-2.2-50 0.3-41.9-2.2-52-2.5-137.8 1.4-50 2.3-41.9 0.4-5.2 2-11.1z"/>
<path fill="#bd0000" d="M132.5 205.1l8 0.1 2 0.7 2 2 4 8.1 11.9 33.6 8 26.3 6.1 23.5 1.7 17.9 3.5 74-1 45.9-1.1 18-3.5 36-2.6 41.9-5.1 38.8-4 22.8-2 5.7-2 3.1-2 1.1-2 0.2-17.9-0.1-2-0.9-2-4.4-0.9-6.3-2.9-42-0.8-20 0.4-39.9-2.5-52-2.9-137.8 1.6-48.7 2-31.1 2-12.8 2-3.2z"/>
<path fill="#b90000" d="M130.5 220.7l2-0.5 12 0 2 0.9 2 2.3 1.9 3.8 8 19.7 8 24.1 8 29.6 0.8 6.8 4.2 81.9-1.2 51.9-1.8 22.8-2.9 27.2-3.1 45.9-4 27-4 18.2-2 3.9-2 1.1-19.9 0.1-2-0.2-2-1.9-2-9-2.2-21.2-1.2-22 0.4-41.9-2.9-52-3.1-135.8 1-33.5 2-32.2 2-13.4z"/>
<path fill="#b50000" d="M130.5 235.2l4-0.5 14 0.1 1.9 0.9 2 2.3 6 12.3 6 16.8 8 26.9 2.4 11.4 4.3 83.9-1.2 49.9-1.5 19.9-3.6 32.1-2.4 37.4-2 16.6-2 9.8-2 6.5-2 2.1-2 0.3-21.9 0-2-0.1-2-1.3-2-5.7-1.4-11.7-0.8-14 0.4-39.9-3.2-52-3.5-135.8 2.5-52.3 2-12.6z"/>
<path fill="#b10000" d="M130.5 247.1l2-0.5 17.9 0 2 0.2 2 1.2 4 6.5 6 15.2 6 18.9 4 15.9 4.4 84.8-1.2 49.9-3.2 34.3-2.3 17.7-3.7 46.3-2 8.8-2 3.8-2 1-25.9 0-2-1.5-2-8.2-0.8-10.3 0.2-39.9-3.5-52-3.8-135.8 1.9-38.8 2-14z"/>
<path fill="#ad0000" d="M130.5 258.9l2-0.6 21.9 0 2 0.4 2 1.7 4 7.5 6 16.3 4 13.1 2 11.3 4.2 80.7-1.4 49.9-2.8 29.2-3.3 22.8-2.7 33.2-2 11.8-2 2.4-2 0.2-25.9-0.4-2-2.7-0.5-2.6-0.7-41.9-2.4-26-1.7-28-3.9-133.8 1.2-25.4 2-15.3z"/>
<path fill="#a90000" d="M130.5 270.6l2-0.6 23.9 0 4 0.8 2 2.2 4 8.5 6 17.9 1 6 1 9.7 3.8 74.2-1.3 47.9-2.5 26.1-2 15-2.9 14.9-1.1 12.6-2 7.5-2 2.1-23.9 0.2-2-0.3-2-3.3-1.3-20.8-2.7-20.2-2.3-29.8-4.2-135.8 0.5-14 1.6-14 0.4-2.6z"/>
<path fill="#a50000" d="M130.5 282.4l4-0.7 27.9 0.2 2 1.2 2 2.9 4 9.6 2 6.4 2 23.2 3.5 64.1-1.4 47.9-2.1 21.2-2 14.2-2 9-2 4.9-2 1.5-23.9 0.2-4-0.6-2-2.9-2-8.5-2-17.3-1.6-21.7-4.1-133.8 1.7-16.5z"/>
<path fill="#a10000" d="M130.5 294.2l4-0.8 31.9 0.4 2 1.9 2 3.7 2 7.6 5 80.3-1 40.6-1.9 25.3-2.1 12.7-2 8.7-2 3-2 0.5-23.9 0-4-0.6-2-3-2-9.1-2-18.5-0.9-15.7-3.4-107.9 0-21.9 0.3-2.4z"/>
<path fill="#9d0000" d="M132.5 307.3l33.9-0.3 2 0.2 2 1.7 2 10.9 4 54 0.7 17.5-0.7 24.5-2 32.5-2 11-2 6.6-2 2.1-27.9 0.2-2-0.6-2-3.2-2-9.7-1.6-15.5-2.3-51.9-0.9-66 0.8-11.3z"/>
<path fill="#990000" d="M134.5 327.6l33.9-0.1 2 1 2 8.3 2 19.1 2 24.7 0.3 12.7-2.3 48.4-2 11.2-2 4.2-2 1.1-27.9 0.1-2-0.7-2-3.4-2-10.3-0.6-6.7-2-37.9-0.8-30 0.1-24 0.6-10 0.7-5.8z"/>
<path fill="#950000" d="M136.5 347.2l31.9-0.1 2 0.5 2 4.1 2 13.5 1.9 26.1-2.7 45.9-1.2 7.7-2 3.2-29.9 0.3-2-0.7-2-3.6-2-16.1-1.5-24.7-0.9-34 0.4-11.6 1-6.4 1-3.4z"/>
<path fill="#910000" d="M136.5 362l31.9-0.3 2 0.3 2 2.6 2 10 1 18.7-1 19.8-2 17.8-2 5.2-2 0.5-25.9 0.1-2-0.2-2-1.5-2-7.4-2-18.2-1-18.1 0.6-24 0.4-2.8z"/>
<path fill="#8d0000" d="M138.5 376.4l29.9-0.1 2 0.1 2 1.2 2 7.7 0 12-2 12.1-2 2.7-27.9 0.3-2-0.1-2-0.8-2-4.9-1.8-17.3 1.8-11.6z"/>
</g></g>
<rect class="ax" x="113.9" y="172.2" width="630.4" height="654.8"/>
<path class="tc" d="M218.97 827v-6.6M218.97 172.2v6.6M324.03 827v-6.6M324.03 172.2v6.6M429.1 827v-6.6M429.1 172.2v6.6M534.17 827v-6.6M534.17 172.2v6.6M639.23 827v-6.6M639.23 172.2v6.6M113.9 237.68h6.6M744.3 237.68h-6.6M113.9 303.16h6.6M744.3 303.16h-6.6M113.9 368.64h6.6M744.3 368.64h-6.6M113.9 434.12h6.6M744.3 434.12h-6.6M113.9 499.6h6.6M744.3 499.6h-6.6M113.9 565.08h6.6M744.3 565.08h-6.6M113.9 630.56h6.6M744.3 630.56h-6.6M113.9 696.04h6.6M744.3 696.04h-6.6M113.9 761.52h6.6M744.3 761.52h-6.6"/>
<text class="d tk" text-anchor="middle" transform="translate(114.2 857.9) scale(1 1.05)">0</text>
<text class="d tk" text-anchor="middle" transform="translate(219.27 857.9) scale(1 1.05)">100</text>
<text class="d tk" text-anchor="middle" transform="translate(324.33 857.9) scale(1 1.05)">200</text>
<text class="d tk" text-anchor="middle" transform="translate(429.4 857.9) scale(1 1.05)">300</text>
<text class="d tk" text-anchor="middle" transform="translate(534.47 857.9) scale(1 1.05)">400</text>
<text class="d tk" text-anchor="middle" transform="translate(639.53 857.9) scale(1 1.05)">500</text>
<text class="d tk" text-anchor="middle" transform="translate(744.6 857.9) scale(1 1.05)">600</text>
<text class="d tk" text-anchor="end" transform="translate(104 180.7) scale(1 1.05)">1</text>
<text class="d tk" text-anchor="end" transform="translate(104 246.18) scale(1 1.05)">0.8</text>
<text class="d tk" text-anchor="end" transform="translate(104 311.66) scale(1 1.05)">0.6</text>
<text class="d tk" text-anchor="end" transform="translate(104 377.14) scale(1 1.05)">0.4</text>
<text class="d tk" text-anchor="end" transform="translate(104 442.62) scale(1 1.05)">0.2</text>
<text class="d tk" text-anchor="end" transform="translate(104 508.1) scale(1 1.05)">0</text>
<text class="d tk" text-anchor="end" transform="translate(104 573.58) scale(1 1.05)"><tspan class="mn" dy="-1.7">−</tspan><tspan dy="1.7">0.2</tspan></text>
<text class="d tk" text-anchor="end" transform="translate(104 639.06) scale(1 1.05)"><tspan class="mn" dy="-1.7">−</tspan><tspan dy="1.7">0.4</tspan></text>
<text class="d tk" text-anchor="end" transform="translate(104 704.54) scale(1 1.05)"><tspan class="mn" dy="-1.7">−</tspan><tspan dy="1.7">0.6</tspan></text>
<text class="d tk" text-anchor="end" transform="translate(104 770.02) scale(1 1.05)"><tspan class="mn" dy="-1.7">−</tspan><tspan dy="1.7">0.8</tspan></text>
<text class="d tk" text-anchor="end" transform="translate(104 835.5) scale(1 1.05)"><tspan class="mn" dy="-1.7">−</tspan><tspan dy="1.7">1</tspan></text>
<text class="d lb" text-anchor="middle" transform="translate(428.5 898.8) scale(1 1.1)">E [keV]</text>
<text class="d lb" transform="translate(26.1 538.4) rotate(-90) scale(1 1.1)">v<tspan class="sb" dx="1.2 1.7" dy="14.2">||</tspan><tspan dx="4.5 3.6" dy="-14.2">/v</tspan></text>
<text class="d ti" text-anchor="middle" transform="translate(429.7 161.8) scale(1 1.1)">NBI only</text>
<text class="t" transform="translate(109.6 148.1) scale(1 0.98)" font-size="70">(a)</text>
<rect x="785.1" y="170.9" width="46.4" height="657.1" fill="url(#jet)"/>
<rect x="785.5" y="171.3" width="45.6" height="656.3" fill="none" stroke="#000" stroke-opacity=".32" stroke-width="1.3"/>
<path d="M831.5 253.04h-7.6M831.5 335.17h-7.6M831.5 417.31h-7.6M831.5 499.45h-7.6M831.5 581.59h-7.6M831.5 663.73h-7.6M831.5 745.86h-7.6" fill="none" stroke="#000" stroke-opacity=".5" stroke-width="1.6"/>
<text class="d cb" transform="translate(839.9 181.3) scale(1 1.07)">10<tspan class="ex" dx="1.2" dy="-8">16</tspan></text>
<text class="d cb" transform="translate(839.9 263.44) scale(1 1.07)">10<tspan class="ex" dx="1.2" dy="-8">15</tspan></text>
<text class="d cb" transform="translate(839.9 345.57) scale(1 1.07)">10<tspan class="ex" dx="1.2" dy="-8">14</tspan></text>
<text class="d cb" transform="translate(839.9 427.71) scale(1 1.07)">10<tspan class="ex" dx="1.2" dy="-8">13</tspan></text>
<text class="d cb" transform="translate(839.9 509.85) scale(1 1.07)">10<tspan class="ex" dx="1.2" dy="-8">12</tspan></text>
<text class="d cb" transform="translate(839.9 591.99) scale(1 1.07)">10<tspan class="ex" dx="1.2" dy="-8">11</tspan></text>
<text class="d cb" transform="translate(839.9 674.12) scale(1 1.07)">10<tspan class="ex" dx="1.2" dy="-8">10</tspan></text>
<text class="d cb" transform="translate(839.9 756.26) scale(1 1.07)">10<tspan class="ex" dx="1.2" dy="-8">9</tspan></text>
<text class="d cb" transform="translate(839.9 838.4) scale(1 1.07)">10<tspan class="ex" dx="1.2" dy="-8">8</tspan></text>
<text class="d cu" transform="translate(737.2 146.2) scale(1 1.1)" dx="0 -0.3 4.6 2.8 -1.1">[1/(m<tspan class="su" dx="3" dy="-8.2">3</tspan><tspan dx="3.6 3 0 1 3.6 -0.8" dy="8.2">·keV)]</tspan></text>
<ellipse cx="113.9" cy="603" rx="1.2" ry="11.5" fill="#333" fill-opacity=".5"/>
<ellipse cx="744.3" cy="603" rx="1.2" ry="11.5" fill="#333" fill-opacity=".5"/>
<ellipse cx="785.5" cy="603" rx="1.2" ry="11.5" fill="#333" fill-opacity=".5"/>
<ellipse cx="831.1" cy="603" rx="1.2" ry="11.5" fill="#333" fill-opacity=".5"/>
</g>
<g id="panel-b">
<clipPath id="cb"><path clip-rule="evenodd" d="M1085 176.2l147.4 0 22.5 12.5 0 32.5 12.5 7.5 2.5 5 11.2 6.3 1.3 13.7 12.5 8.8 1.2 7.4 36.3 17.5 1.2 10 11.3 7.5 16.2-5 23.7 1.3 2.5 10 15 1.2 10-5 13-0.5 1.5 5.5 26.3 12.5 27.4 7 11.3-5 11.2 5.5 27.5 0.5 1.3 15.8 11.2 3.7 15 0 0 5 52.5 20 12.5-5 1.2 7.5 11.3 5 52.4 0 14.5-6.3 0 32.5-13.2-6.2-13.8 12.5-12.4-6.3-12.5 11.3-1.3 13.7-13.7-6.2-12.5 5 0 8.7-13.8-6.2 1.3-6.3-12.5-6.2-27.5 6.2 0 58.7-10-1.2-15-5-13.7 7.5-13.8 6.2 12.5 6.3-12.5 5.7-12.5-5.7-13.7 5-26.2 11.2-2.5 6.3-11.3 3.7 0 5-26.2 2.5-23.8 16.3-12 0-39.9 3.7-3.8 7.5 1.3 3.7-13.8 6.3 0 43.7-13.7-3.7-11.3 6.2-1.2 51.2-11.3 6.3-1.2-18.7-12.5-6.3-26.2 12.5-1.3 21.2-12.5 6.3 0 10-26.2 8.7-1.3 7.5-11.2 5-1.3 38.8-13.7 6.2 0 53.7-11.3-6.2-8.7 6.2-83.7 0z"/></clipPath>
<g clip-path="url(#cb)"><g filter="url(#bl)">
<rect x="1075" y="166.2" width="637.7" height="667.7" fill="#0000f7"/>
<path fill="#0008ff" d="M1712.7 166.2l0 667.7-637.7 0 0-667.7zM1696.3 394.1l0.4 3.2 1-1.2 0.2-2-1.2-1.7z"/>
<path fill="#0018ff" d="M1712.7 166.2l0 667.7-637.7 0 0-667.7zM1695.8 392.1l-0.4 4 1.3 3.2 2-1.3 0.4-3.9-0.4-2.3-2-1.3z"/>
<path fill="#0028ff" d="M1712.7 166.2l0 667.7-637.7 0 0-667.7zM1615.7 376.1l1 0.7 2.3-0.7-2.3-0.7zM1694.7 393l-0.1 3.1 0.5 2 1.6 2.6 2-0.9 1-5.7-1-4.1-2-0.9z"/>
<path fill="#0038ff" d="M1712.7 166.2l0 667.7-637.7 0 0-667.7zM1614.8 376.1l1.9 1.3 2-0.4 1-0.9-1-1-2-0.4zM1696.4 388.1l-1.7 2.4-0.6 5.6 0.6 3.1 2 2.7 2-0.8 0.5-1 1.1-6-1.6-5.4zM1614.3 440.1l2.4 0.6 1-0.6-1-0.8zM1340.8 568l2.1 0.5 1.5-0.5-1.5-0.6z"/>
<path fill="#0048ff" d="M1712.7 166.2l0 667.7-637.7 0 0-667.7zM1547.7 352.2l1.1 0.7 2 0.1 1.4-0.8-1.4-0.7-2 0.1zM1616.5 374.1l-2.2 2 2.4 1.8 2-0.3 1.6-1.5-1.6-1.7zM1695.3 388.1l-1.5 4-0.2 4 1.1 4.7 2 2.2 2-0.7 1.2-2.2 0.9-6-0.7-4-1.4-2.6-2-0.7zM1613.7 440.1l1 0.9 2 0.3 1.8-1.2-1.8-1.5-2 0.3zM1340.2 568l2.7 1 2.4-1-2.4-1.1z"/>
<path fill="#0058ff" d="M1712.7 166.2l0 667.7-637.7 0 0-667.7zM1546.7 352.2l2.1 1.4 2 0.1 2.3-1.5-2.3-1.2-2 0zM1615.4 374.1l-1.6 2 2.3 2 2.7 0 2.1-2-2.2-2.2zM1694.7 387.6l-1 2.5-0.6 6 1.6 6 2 1.9 2-0.6 1.8-3.3 0.8-6-0.6-4-0.8-2-1.2-1.8-2-0.5zM1615.2 438.1l-2.1 2 1.6 1.5 2 0.3 2.4-1.8-2-2zM1339.6 568l1.3 1 2 0.4 3-1.4-1-0.9-2-0.7-2 0.5z"/>
<path fill="#0068ff" d="M1712.7 166.2l0 667.7-637.7 0 0-667.7zM1546.2 352.2l2.4 2 2.2 0 2-0.9 0.9-1.1-2.9-1.7-2 0zM1614.5 374.1l-1.2 2 1.7 2 3.7 0.4 2.6-2.4-1.3-2-1.3-0.5-2-0.2zM1695 386.1l-1.8 4-0.5 6 1.4 6 0.6 1.3 2 1.6 2-0.5 2-3.1 1-5.3-0.1-4-0.9-3.7-2-3.1-2-0.5zM1614.1 438.1l-1.6 2 2.2 2.1 2.7-0.1 2.2-2-1.5-2-1.4-0.4zM1340.9 566.3l-2 1.7 2 1.5 2 0.4 2-0.5 1.6-1.4-1.6-1.5z"/>
<path fill="#0078ff" d="M1712.7 166.2l0 667.7-637.7 0 0-667.7zM1548.5 350.2l-2.9 2 1.9 2 3.3 0.3 1.8-0.3 1.8-2-3.1-2zM1613.9 374.1l-1.1 2 1.5 2 2.4 0.8 3.7-0.8 1.4-2-1-2-2.1-0.8-2-0.2zM1694.7 385.3l-1.4 2.8-1 4-0.1 4 1.3 6 1.2 2.4 2 1.5 2-0.5 2-2.7 1.3-4.7 0.2-4-1.5-7.1-2-2.7-2-0.5zM1613.3 438.1l-1.2 2 2.6 2.4 3.8-0.4 1.6-2-1.4-2.1-2-0.6zM1340.5 566l-2 2 2.4 1.9 4 0 2.2-1.9-2.2-2z"/>
<path fill="#0087ff" d="M1712.7 166.2l0 667.7-637.7 0 0-667.7zM1547.2 350.2l-2.2 2 1.5 2 2.3 0.6 4.6-0.6 1.6-2-2.2-2.1-2-0.4zM1613.3 374.1l-0.9 2 0.3 0.7 1 1.3 3 1.1 4-0.9 1.6-2.2-1-2-2.6-1.2-2-0.1zM1694.7 384.1l-2.5 6-0.3 8 1.8 6 1 1.5 2 1.3 2-0.4 2-2.4 0.8-2 0.9-4 0.1-6-1.6-6-2.2-2.9-2-0.4zM1612.6 438.1l-1 2 1.4 2 1.7 0.7 4-0.4 1.9-2.3-1.1-2-2.8-1-2 0.1zM1394.7 552.1l1 2 1.1 0.1 2.8-0.1 1-2zM1339.8 566l-1.8 2 2.9 2.3 4 0 2.7-2.3-1.8-2-0.9-0.3-2-0.2z"/>
<path fill="#0097ff" d="M1712.7 166.2l0 667.7-637.7 0 0-667.7zM1546.2 350.2l-1.8 2 1.5 2 2.9 0.9 2 0 3.4-0.9 1.4-2-2.8-2.4-4-0.4zM1612.7 374.1l-0.8 2 1.2 2 3.6 1.4 4-0.8 2-2.6-0.8-2-3.2-1.5-4 0.3zM1696.1 382.1l-1.4 0.9-2 3.5-1 3.6-0.4 6 0.5 4 1.3 4 1.6 2.7 2 1.1 2-0.3 2.6-3.5 1.3-4 0.5-6-0.9-6-1.5-3.7-2-2.2zM1612.1 438.1l-0.9 2 1.1 2 2.4 1.1 4-0.4 1.2-0.7 1.2-2-1-2-3.4-1.3-2 0.1zM1527.2 482.1l-2.6 2 4.2 0.8 2.9-0.8-2.4-2zM1393.5 552.1l0.5 2 2.8 0.5 4.6-0.5 0.6-2-5.2-0.7zM1339 566l-1.4 2 1.3 1.6 2 0.9 4 0.1 2-1 1.2-1.6-1.5-2-1.7-0.6-4 0z"/>
<path fill="#00a7ff" d="M1712.7 166.2l0 667.7-637.7 0 0-667.7zM1545.5 350.2l-1.6 2 0.9 1.4 2 1.3 2 0.5 4-0.3 2-0.8 1.4-2.1-1.6-2-1.8-0.8-4-0.3zM1612.2 374.1l-0.7 2 1 2 4.2 1.7 4-0.7 1.5-1 1-2-0.7-2-3.8-1.8-4 0.2zM1694.5 382.1l-1.8 2.8-1.1 3.2-0.7 4 0.1 6 1.7 6.8 2 3 2 1.1 2.6-0.9 1.4-1.4 1.3-2.6 1.4-6 0.1-6-1.3-6-1.5-3-2-2-2-0.3zM1611.6 438.1l-0.9 2 1 2 3 1.4 4-0.3 1.8-1.1 1.1-2-0.9-2-4-1.6-2 0.1zM1524.4 482.1l-1.3 2 3.7 1.5 4-0.2 2.7-1.3-1.2-2-1.5-0.4-4-0.1zM1392.4 552.1l0.3 2 4.1 0.8 5.9-0.8 0.4-2-2.3-0.8-4-0.3zM1338.4 566l-1.3 2 1.6 2 2.2 0.8 4 0.1 2-0.7 1.8-2.2-1.4-2-2.4-0.8-4 0z"/>
<path fill="#00b7ff" d="M1712.7 166.2l0 667.7-637.7 0 0-667.7zM1544.7 350.2l-1.4 2 1.2 2 4.3 1.4 4-0.2 2-0.7 0.9-0.5 1.1-2-1.4-2-2.6-1.2-4-0.2zM1614.9 372.1l-3.3 2-0.6 2 1.7 2.6 2 1 4 0.3 4.1-1.9 0.9-2-1-2.3-4-1.9zM1693.5 382.1l-1.9 4-1.2 6-0.1 4 0.8 6 1.5 4 2.1 3 2 1 2-0.3 2-1.8 1.1-1.9 1.9-6 0.4-6-0.7-6-2.5-6-2.2-2.1-2-0.3zM1611.1 438.1l-0.9 2 1 2 3.5 1.7 4-0.3 2.5-1.4 0.9-2-1.4-2.4-4-1.5-4 0.7zM1522.9 482.1l-1 2 2.9 1.8 2 0.4 4.4-0.2 3.8-2-0.8-2-3.4-1-4-0.1zM1391.5 552.1l0.2 2 5.1 1.2 4-0.2 3.1-1 0.3-2-3.4-1.2-4-0.2zM1337.9 566l-1.2 2 1.4 2 2.8 1.1 4 0.1 2-0.6 2.3-2.6-1.3-2-3-1.1-4 0zM1268.3 656l4.3 0-1.7-1.4-2 0.5z"/>
<path fill="#00c7ff" d="M1712.7 166.2l0 667.7-637.7 0 0-667.7zM1242 220.2l0.9 0.6 0.8-0.6-0.8-1.4zM1273.7 234.2l1.2 1.5 2-0.7 0.4-0.8-2.4-0.6zM1543.9 350.2l-1.1 2 1 2 5 1.7 6-0.8 1.6-0.9 1.1-2-1.3-2-3.4-1.5-6 0.1zM1613.7 372.1l-2.7 2-0.5 2 0.9 2 1.3 1 2 0.9 4 0.3 2-0.5 2.7-1.7 0.9-2-0.6-2-1-0.9-4-1.8-2-0.1zM1694 380.1l-2.4 4-1.2 4-0.6 4 0.1 6 1.2 6 1.6 3.8 2 2.5 2 0.9 2-0.3 2-1.6 2-3.6 1.5-5.7 0.3-8-1-6-2.8-5.7-2-1.6-2-0.3zM1614.3 436.1l-3.8 2-0.8 2 1 2.2 2 1.3 4 0.7 2-0.4 3.1-1.8 0.8-2-0.8-2-1.1-0.9-4-1.3zM1521.6 482.1l-0.8 2 2.5 2 3.5 0.7 6-0.4 3.7-2.3-0.6-2-5.1-1.7-4 0zM1430.3 538.1l2.5 0.5 2.7-0.5-2.7-0.6zM1390.5 552.1l0.3 2 2 0.9 4 0.7 4-0.2 4-1.4 0.4-2-2.4-1.1-4-0.7-4 0.2zM1337.4 566l-1.2 2 0.7 1.2 2 1.6 2 0.6 4 0.1 2-0.5 1.7-1 1.2-2-1.3-2-3.6-1.4-4 0.1zM1267.9 654l-1.2 2 2.2 0.8 2 0.1 3.3-0.9-1.3-2.1z"/>
<path fill="#00d7ff" d="M1712.7 166.2l0 667.7-637.7 0 0-667.7zM1241.6 218.2l-0.7 2.4 2 1.2 2-1.4-0.8-2.2-1.2-0.5zM1274.2 232.2l-1.3 0.7-1 1.3 0.8 2 2.2 0.8 2-0.1 1.6-0.7 0.7-2-0.3-0.4-2-1.6zM1548.6 348.2l-3.8 0.9-1.6 1.1-1 2 1 2 3.6 1.7 4 0.4 4-0.7 2.4-1.4 1-2-1.4-2.3-4-1.6zM1612.7 372.1l-2.3 2-0.5 2 1 2 1.8 1.5 2 0.8 4 0.3 2.2-0.6 3.1-2 0.8-2-0.5-2-2.3-2-3.3-1.1-2-0.1zM1694.6 378.1l-3 4-1.4 4-1 6 0.1 6 1 6 1.6 4 2.8 3.7 2 0.8 2-0.3 2-1.4 2.7-4.8 1.7-8 0-6-1.5-8-2.9-5.2-2-1.5-2-0.3zM1613.1 436.1l-3.1 2-0.7 2 1.4 2.8 2 1.1 4 0.8 4-1.2 1.7-1.5 0.8-2-0.8-2-1.7-1.4-4-1.2zM1525.5 480.1l-5 2-0.8 2 2.1 2 5 1.3 4-0.1 4.9-1.2 2.4-2-0.4-2-2.9-1.5-4-0.8zM1428.3 538.1l2.5 1.1 2 0.3 2-0.2 2.9-1.2-2.9-1.4-2-0.2-2 0.3zM1395.9 550.1l-3.1 0.5-3.1 1.5 0 2 3.1 1.4 6 0.5 4-0.5 3.3-1.4 0.2-2-1.5-0.8-4-1.2zM1336.8 566l-1 2 1.1 1.9 4 1.8 6-0.3 2.4-1.4 1.1-2-1.2-2-4.3-1.6-4 0zM1266.4 654l-0.8 2 3.3 1.4 4-0.2 2.6-1.2-0.8-2-1.8-0.6-4-0.1z"/>
<path fill="#00e7ff" d="M1712.7 166.2l0 667.7-637.7 0 0-667.7zM1240.5 218.2l-0.3 2 0.7 1.4 2 1 2-1 0.8-1.4-0.8-2.4-2-0.8zM1271.8 232.2l-1.2 2 0.7 2 1.6 1.1 4 0.7 3.3-1.8 0.5-2-1.8-2.3-4-0.9zM1546.3 348.2l-3.5 1.7-1.3 2.3 1.3 2.1 4 1.9 4 0.5 4-0.7 3.3-1.8 0.8-2-0.9-2-3.2-1.9-4-0.8zM1611.7 372.1l-2 2-0.3 2 1.3 2.5 4 2.2 4 0.3 2-0.4 3.9-2.6 0.9-2-0.8-2.3-1.7-1.7-2.3-1.1-6-0.2zM1692.7 378.4l-2.8 5.7-1.1 6-0.3 6 0.6 6 1.8 6 2.5 4 1.3 1.3 2 0.7 2-0.2 2-1.4 2.8-4.4 1.8-6 0.6-8-1-8-2.2-6.1-2-2.8-2-1.3-2-0.3zM1612.1 436.1l-2.7 2-0.6 2 0.6 2 3.3 2.5 2 0.5 4-0.2 2-0.8 2.5-2 0.6-2-0.7-2-2.4-1.8-4-1.1zM1551.6 458.1l-2.8 1.7-1.5 2.3-0.7 2-0.1 4 1.3 4 1.6 2 3.4 1.6 2-0.3 2-1.1 2-2.7 0.9-3.5-0.3-4-0.7-2-1.9-2.6-2-1.3zM1523.2 480.1l-3.8 2-0.7 2 1.7 2 4.4 1.5 6 0.3 4-0.7 3-1.1 2.3-2-0.1-2-5.2-2.4-6-0.5zM1430.2 536.1l-3.5 2 2.1 1.4 4 0.8 4-0.6 2.7-1.6-3.5-2zM1393.5 550.1l-4.7 2 0 2 4 1.8 6 0.7 6-1.2 2.5-1.3 0.1-2-4.6-2-4-0.5zM1342.2 564.1l-3.3 0.5-2.6 1.4-1 2 1.1 2 2.5 1.5 4 0.8 4-0.5 3.2-1.8 0.9-2-1.1-2-3-1.5zM1265.2 654l-0.7 2 4.4 2 4-0.1 3.7-1.9-0.7-2-3-1.1-4-0.1zM1208.9 718l2 0.5 1.2-0.5-1.2-0.7z"/>
<path fill="#00f7ff" d="M1712.7 166.2l0 667.7-637.7 0 0-667.7zM1239.9 218.2l-0.3 2 1 2 2.3 0.9 2.4-0.9 1-2-0.3-2-1.1-1.2-2-0.7-2 0.7zM1273.8 230.2l-3.5 2-0.8 2 1.4 2.8 2 1.3 4 0.5 2.5-0.6 2.4-2 0.4-2-1.3-2.3-4-1.8zM1544.6 348.2l-3 2-0.7 2 0.9 2 1 0.7 4 1.8 4 0.4 4-0.6 4.3-2.3 0.9-2-1.2-2.3-4-2.2-6-0.7zM1616.2 370.1l-3.5 0.7-2.1 1.3-1.6 2-0.2 2 0.8 2 1.1 1.1 4 2 4 0.3 4-1.2 2.8-2.2 0.8-2-0.4-2-1.7-2-3.5-1.7zM1695.7 374.1l-3 2.2-3.2 5.8-1.7 8-0.2 6 0.6 6 2.4 8 2.1 3.4 2 1.8 2 0.7 2-0.2 2-1.3 3.1-4.4 2.4-8 0.5-8-0.8-8-2.9-8-2.3-2.9-2-1.2zM1608.9 438.1l-0.8 2 0.6 2 2 2 2 1.1 6 0.3 3.2-1.4 2.1-2 0.5-2-0.7-2-3.1-2.4-4-0.9-4 0.6zM1552.4 454.1l-3.6 1.2-2.9 2.8-2 4-0.8 6 0.7 4 3 7.1 2 1.3 4 0.6 4-0.8 4-3.4 2-4.1 0.7-4.7-0.9-6-2.2-4-3.6-3.1zM1521.4 480.1l-3.2 2-0.6 2 1.5 2 1.7 0.9 6 1.5 6-0.2 6-1.5 4.3-2.7 0.8-2-2.9-2-6.2-1.3-8 0zM1427.9 536.1l-2.5 2 2.4 2 3 0.7 6-0.2 2-0.5 2.4-2-2.5-2-1.9-0.5-4-0.3zM1391.8 550.1l-4 2-0.1 2 5.1 2.4 4 0.6 6-0.5 4-1.3 1.9-1.2-0.1-2-5.8-2.5-6-0.4zM1340.1 564.1l-4.3 1.9-0.9 2 0.9 2 1.1 0.9 4 1.6 4 0.2 4-1.1 2-1.6 0.9-2-1.2-2-1.7-1.1-4-1.1zM1264.2 654l-0.6 2 3.1 2 2.2 0.5 5.8-0.5 3-2-0.6-2-4.2-1.6-4 0zM1318.9 660l-2.3 4 0.2 4 2.1 2.7 2 0.2 2-1.7 0.6-1.2 0.5-4-0.5-2-1.5-2-1.1-0.6zM1208 718l0.9 0.8 2 0.5 2.6-1.3-2.6-1.6-2 0.5z"/>
<path fill="#08fff7" d="M1712.7 166.2l0 667.7-637.7 0 0-667.7zM1241 216.2l-1.7 2-0.3 2 1 2 2.9 1.5 2-0.5 1.2-1 0.9-2-0.2-2-1.9-2.1-2-0.5zM1270.7 230.2l-1.8 2-0.5 2 0.6 2 1.9 1.9 2 1 2 0.5 4-0.2 3-1.2 1.8-2 0.3-2-0.8-2-2.2-2-2.1-1-4-0.5-2 0.4zM1308.3 274.2l2.6 0.8 3.5-0.8-3.5-0.9zM1483.7 348.2l1.1 0.4 2.1-0.4-2.1-0.5zM1543.1 348.2l-2.4 2-0.7 2 1 2 1.8 1.3 4 1.6 6 0.3 4-1 3.6-2.2 0.8-2-0.8-2-1.6-1.6-4-1.8-8-0.1zM1610.7 371l-2.6 3.1-0.2 2 1 2 2.2 2 3.6 1.5 6 0 3.6-1.5 2.2-2 0.8-2-0.3-2-2.3-2.7-6-2.2-4 0.2zM1692.7 373.5l-1.9 2.6-2.6 6-1.2 6-0.4 8 0.7 8 2.6 8 2.8 4.2 2 1.5 2 0.7 2-0.3 2-1 2.7-3.1 2-4 2-8 0.5-10-1.7-10-2.5-6-3-3.5-2-1.1-2-0.3zM1610.3 436.1l-2.2 2-0.6 2 0.4 2 2.8 2.9 4 1.1 4-0.1 4-1.4 2.3-2.5 0.4-2-0.8-2-3.9-2.9-6-0.7zM1548.5 452.1l-4.6 4-2.9 6-0.8 6 0.6 8-2 1.4-12 0.8-6 1.4-3.7 2.4-0.6 2 1.3 2 3 1.7 4 1.1 8 0.3 14-2.8 10-0.3 4-1.7 2.6-2.3 2.4-4 1.6-6-0.1-6-1.8-6-2.7-4.3-4.8-3.7-5.2-1.1zM1426.1 536.1l-2.1 2 0.8 1.1 2 1.4 4 0.9 8-0.4 2.7-1 1.7-2-2.2-2-4.2-1.1-6-0.1zM1390.3 550.1l-3.5 2-0.1 2 2.1 1.6 4 1.5 10 0.1 4-1 3.6-2.2-0.2-2-5.4-2.6-8-0.6zM1338.8 564.1l-3.6 1.9-0.9 2 0.9 2 3.7 2.3 4 1 4-0.3 4-1.8 1.2-1.2 0.5-2-1.1-2-2.6-1.6-6-1.1zM1268.3 652l-5.1 2-0.5 2 2.5 2 5.7 1.1 5.6-1.1 2.3-2-0.5-2-3.4-1.6zM1320.8 654l-1.9 0.7-3.4 3.3-1.8 4-0.8 4 0.2 4 1.6 4 2.2 2.2 2 0.8 2 0 2-0.7 2-1.7 2.5-4.6 0.8-4-0.2-4-1.2-4-1.9-2.6-2-1.2zM1208.9 716l-1.8 2 1.8 1.6 2.8 0.4 1.2-0.4 1.6-1.6-2.2-2z"/>
<path fill="#18ffe7" d="M1712.7 166.2l0 667.7-637.7 0 0-667.7zM1240.1 216.2l-1.4 2-0.2 2 0.9 2 1.5 1.4 2 0.6 2-0.4 2-1.6 0.9-2-0.2-2-1.4-2-1.3-0.8-2-0.4zM1268.6 230.2l-1.1 2-0.2 2 0.6 2 3 2.9 4 1.3 4 0.1 4-1.1 2-1.2 1.6-2 0.2-2-0.4-2-3.4-3.5-4-1.7-2-0.2-4 0.4zM1308.8 272.2l-2.5 2 3.6 2 4.3 0 4.3-2-1.6-1.8-2-0.7-4 0zM1542.8 347l-2 1.6-1.3 1.6-0.4 2 0.9 2 4.8 2.9 6 0.8 6-0.6 2.7-1.1 2.8-2 0.9-2-0.5-2-3.9-3.4-6-1.5-4 0zM1481.6 348.2l3.2 1.9 2-0.3 2.2-1.6-2.2-1.7-2-0.2-2 0.7zM1616.5 368.1l-3.8 0.5-2 0.8-3 2.7-0.7 2 0 2 0.9 2 2.1 2 2.7 1.5 6 0.8 6-1.6 3.2-2.7 0.8-2-0.1-2-1.9-3-4-2.4zM1693.6 368.1l-3.8 4-2.1 4-1.9 6-1 8 0.1 10 1.2 8 2.9 8 3.7 5 4 1.8 2-0.2 2-0.9 2-1.8 3.7-5.9 1.5-4 1.6-8 0.4-10-1.9-12-3.5-8-1.8-2.4-4-2.7-2-0.1zM1616.5 434.1l-3.8 0.4-3.4 1.6-1.9 2-0.6 2 0.2 2 1.7 2.4 4 2.3 4 0.6 4-0.6 4.4-2.7 1.3-2 0.2-2-0.7-2-3.2-2.6-2-0.9zM1546.6 450.1l-4.5 4-3.3 6-1.4 6-0.1 8-1.6 2-14.9 2.9-4 2.2-0.9 0.9-0.6 2 1.5 2.3 6 2.9 6 0.7 14.8 0.1 7.2 3.7 4 1.2 6 0 4-1.1 4-2.6 2.8-3.2 2.4-4 1.4-4 0.5-6-2.5-8-3.1-6-2.8-4-4-4-2.7-1.9-4-1.6-4-0.4-4 0.8zM1424.5 536.1l-1.9 2 1.2 2 3 1.4 6 1.1 4-0.1 6-1.3 1.9-1.1 1.1-2-2.1-2-6.9-1.7-8 0.3zM1388.9 550.1l-3.2 2-0.3 2 3.4 2.6 4 1.1 6 0.5 8-0.7 3.8-1.5 2.2-2-0.4-2-1.6-1.1-6-2.1-10-0.3zM1337.9 564.1l-3.3 1.9-0.9 2 1.2 2.4 4 2.5 4 0.9 6-0.5 2.4-1.3 2.1-2 0.4-2-1.3-2-3.6-2-6-1zM1318.8 650l-3.9 3.5-2.8 4.5-2 6-0.7 8 0.6 4 2.9 5 4 2.7 4 0.4 4-1.4 2-1.5 2.6-3.2 2.6-6 0.9-8-1.4-8-2.7-5-2-1.7-2-0.7-4 0.4zM1266.1 652l-3.8 2-0.5 2 2.1 2 3 1.1 4 0.4 4-0.3 3.2-1.2 2-2-0.6-2-3.9-2-4.7-0.7zM1207.9 716l-1.5 2 2.5 2.3 4 0.1 1.1-0.4 1.5-2-2.6-2.4-2-0.3z"/>
<path fill="#28ffd7" d="M1238.7 166.2l0.5 4 1.7 5.3 2 3.4 14.6 19.3 3.9 8 6.4 16 0.7 2-0.1 2-2.4 6 0 2 0.7 2 2.2 2.6 4 2 4 0.8 8 0 4 1 4 3 14 13.9 7.7 6.7 0.9 2-8.6 3.7-2 2.3 2.2 2 5.8 0.8 12-1 4 0.9 14.8 9.3 12 6 9.7 4 14.7 4 40.7 9.1 48 17.7 58 9.6 4 1 8 3.6 3.4 3-3.4 4.5-0.8 1.5-0.1 2 1.1 2 3.8 2.7 4 1.1 6 0.6 14-2 31.9 10.7 4 1.6 1.6 1.2 1.2 6 3.2 3.9 2 1.4 4 1.4 4 0.3 4-0.6 4-1.5 6-4 2-0.3 34 4.6 4 1.9 2.7 2.9 1.9 4 1.8 8 1.1 10-0.2 8-2.2 6-3.1 3.2-8 3.9-34 13.3-2-0.1-2.9-4.3-5.1-3.5-6-1.2-6 1.2-2.4 1.5-1.8 2-0.8 2 0.1 2 2.9 4.2 4.9 3.8-4.9 2.9-14 4.5-6 0.8-6 0-4-0.5-4-1.6-9.9-7.1-6-2.9-4-0.7-4 0.2-6 2.5-4.4 3.9-3.8 6-2.1 6-1.2 10-3.6 2-10.9 2.9-4.2 3.1-0.6 2 0.9 2 3.9 2.8 8 2.2 8.7 1 2.8 2 0.4 4-1.9 4.4-4 4-8 5-12 5.4-56 20.2-4 0.4-8-2.6-8-1.3-6 0.2-6 1.3-2 1-1.7 2 0.7 2 5 3 5.4 1 2.9 2-6.3 3.1-8 2.7-4-0.4-6-2.1-6-1.1-10-0.1-6 1.2-4.4 2.7-0.5 2 2.9 3 6 2.5 3.9 0.5 0.2 2-34 11.2-8 2-4 1.5-4 2.8-2 2.3-2 4.2-9.3 35.9-3.7 10-3.8 6-9.2 8-5.1 6-3.1 6-4.6 12-3.2 5.6-4 3.5-4 2.1-24.3 8.8-9.7 4.7-4.1 3.3-21.9 20.9-8 8.5-4 5.2-6 13.4-12 34.3-10 38-1.6 15.6-116.3 0 0-667.7zM1239.3 216.2l-1.1 2-0.1 2 0.6 2 2.2 2 2 0.6 2-0.3 2.9-2.3 0.7-2-0.1-2-1.5-2.3-2-1.3-2-0.2-2 0.5zM1481.7 346.2l-1.6 2 2.7 2.2 2 0.4 3.9-0.6 1.9-2-1.4-2-2.4-0.9-2-0.1zM1336.9 564.1l-2.9 1.9-0.8 2 0.6 2 3.1 2.6 6 2.2 4 0.7 4 0.1 4-3.4 0.9-2.2-0.3-2-1.5-2-5.1-2.7-6-0.7zM1264.5 652l-3.1 2-0.5 2 2 2.1 4 1.5 6 0.4 4-0.6 2.9-1.4 1.6-2-0.6-2-3.2-2-2.7-0.8-6-0.2zM1206.9 716l-1.1 2 1.4 2 1.7 0.8 4 0.2 2-0.6 0.8-0.4 0.9-2-1.5-2-2.2-0.9-4 0z"/>
<path fill="#38ffc7" d="M1232.3 166.2l1.4 8 2.6 6 15.6 20 4.6 8 7.3 18 0.8 8 0.7 2 1.6 2.1 4 2.8 11.6 3.1 2.4 1.2 6 4.3 6 5.5 11 11 1 2-1.3 2-2.7 1.9-1.1 2.1 1.8 2 5.3 1.3 8 0.5 4 0.8 4 2.2 12 8.8 7.4 4.4 12 6 10.6 3.9 49.9 11.7 45.3 16.4 6.7 2 52 9.2 8 2 4 2.3 2.6 6.5 2.4 2 3 1.5 6 1.6 11.5 0.9 10.4 4.3 28 9.4 4 2.1 6 5.3 4 1.8 6 0.8 10-1.3 4 0.1 32 4.9 4 1.6 3 2.9 1.9 4 1 4 0.7 8-0.6 4.7-2 4-4 3.3-6 2.8-32 12.3-2 0.1-10-2.5-4 0-4 1.1-3.7 2.2-1.8 2-2.2 8-2.3 1.2-10 2.9-8 0.9-8-1.3-11.9-5.3-6-1.6-6 0.2-4 1.2-3.4 1.8-6.5 6-3.8 6-2.1 6-0.8 8-1 2-4 2-8.4 2.9-3.7 3.1-0.6 2 0.7 2 1.6 1.7 2 1.5 7 2.8 3.3 2-0.1 2-3.8 4-10.4 6.5-63.1 25.5-4.9 0.7-14 0.2-8 2-1.9 1.1-1.7 2 0.1 2 1.4 2 0.4 2-2.3 1.5-6 1.8-16 0-10 2-3.9 2.7-0.8 2 1.4 4-0.7 0.8-2 1.2-13.9 4.8-6 1.8-2 0-8-3.4-4-0.9-4-0.1-6 1.2-3.6 2.5-0.8 2 0.6 2 3.8 3.5 4.4 2.5-0.3 2-4.2 10-9 28-4 10-4.3 8-10.1 14-8.5 15-4 4.3-4 3-25.2 11.7-10.8 6.3-22.9 21.7-9.7 10-3.4 4.2-4 6.8-8 19.3-10 28.9-10 40.4-1.1 14.3-112.8 0 0-667.7zM1241 214.2l-2.1 1.6-1.2 2.4-0.1 2 0.6 2 2.7 2.6 2 0.5 2-0.2 2-1 1.7-1.9 0.8-2 0-2-0.9-2-2.5-2-3.1-0.6zM1479.7 346.2l-0.9 2 1.5 2 2.5 0.9 6-0.2 1.8-0.7 1.7-2-0.6-2-2.9-1.7-6 0zM1263.1 652l-2.7 2-0.5 2 3 2.9 6 1.8 6 0 4-1.1 3.1-1.6 1.2-2-0.7-2-2.8-2-2.8-1-8-0.5zM1206.1 716l-0.9 2 1.1 2 2.6 1.3 6 0.1 2.9-1.4 0.5-2-1.8-2-1.6-0.8-4-0.8-2 0.2z"/>
<path fill="#48ffb7" d="M1226.4 166.2l1.5 8 3.8 8 16.5 20 3.9 6 8.8 20.4 2.7 7.6 1.5 2 3.8 3.1 11.8 4.9 6.2 3.8 4 2.9 6 5.5 7.8 7.8 1.2 2-0.5 2-1.8 2-0.8 2 1.5 2 4.6 1.5 8 1.3 4 1.2 16 12.1 6 3.9 10.5 6 9.7 4 13.4 4 40.3 9.5 48 16.7 15 3.8 2.9 2-1.9 0.8-2 1.8-1 1.4-0.3 2 1.4 2 1.9 1 4 0.8 6-1 1.8-0.8 1.8-2 0.5-2 1.9-2.1 8 0.9 22 4.4 4 1.4 6.6 5.4 5.4 2.7 12.9 3.3 14 5.9 31 10.5 10 5 6 1.5 14 1.2 24 3.7 8 1.7 4 2.1 2 2.3 2.1 6 0.3 4-0.7 4-2.5 4-3.2 2.4-38 15-10 0.2-6 1-5.8 3.4-4.2 4.4-4 1.8-8 2-8 0.7-6-0.6-11.9-3.3-6-1.1-6 0.4-6 1.9-4 2.3-4.2 3.5-6.4 8-3.5 8 0.7 6-0.2 2-1.3 2-11.1 4.8-3.6 3.2-0.5 2 0.3 2 1.8 2.7 3.3 3.3 0.1 2-1.7 2-5.6 4-14.1 6.8-52 22.9-16 2.9-6 2-2.2 1.4-1.9 2-2.2 4-3.7 2-6.8 2-11.2 0.9-8 2.3-4.1 2.8-3 4-4.1 2-14.7 4.9-4 0.1-10-1.4-6 0.7-4 1.7-2 1.6-1.2 2.3 0.5 2 5.3 6-0.5 2-5 10-9.1 22.7-6 13.1-16 27.2-4 5.4-8.8 7.6-21.2 12.3-10 6.7-34 33.1-2 0.8-6-2.5-4-0.4-4 0.9-1.5 1.1-0.9 2 1 2 1.4 1.1 4 1.3 4 0.5 2 1.1-12 29.1-9.2 26.8-8.8 37.2-1.1 8.8-0.3 8-110.5 0 0-667.7zM1212.8 188.2l2.1 1.2 2.2-1.2-2.2-1.5zM1237.9 216.2l-0.7 2 0.5 4 1.2 1.7 2 1.5 2 0.5 2-0.1 3.3-1.6 1.8-2 0.7-2-0.3-4-1.9-2-3.6-1.5-4 0.6zM1269.9 650l-5 0.7-4 1.8-1.6 1.5-0.4 2 1.3 2 2.7 1.7 4 1.4 6 0.6 8-0.9 4.5-2.8 0.7-2-1.1-2-2.8-2-5.3-1.7z"/>
<path fill="#58ffa7" d="M1220.2 166.2l1.7 8 3.8 8 4.6 6 14.5 16 2.4 4 0.1 2-6.4 2.1-2 1.4-1.7 2.5-0.7 4 2 4 2.4 1.7 4 0.6 4-1.5 4-2.5 2 1.8 6.5 11.9 3.6 4 3.9 2.7 12 6.1 8 4.8 4 3.2 9.4 9.2 1.4 2-0.1 2-1.8 4 1.5 2 3.6 1.6 10 2.3 2 0.9 18 14.4 14 8.9 8 3.7 10 3.4 49.9 12.7 54.4 18.1 2.6 2 0.1 4 1.5 2 3.4 1.7 4 0.8 4-0.2 4-1.1 4-2.1 4-0.8 24 4.9 6 2 8 3.8 28 11.3 43.9 15.1 10 2.5 38 6.7 3.3 1.3 2.4 2 1.9 4 0.1 4-1.7 4-2.1 2-3.4 2-36.3 14-12.2 2.8-12 4.9-10 2.4-8 1-8-0.3-11.9-1.7-6-0.2-6 0.9-6 2.3-6 3.7-5 4.2-3.6 4-4.1 6-1.8 4-0.2 2 3.1 6-0.4 2.3-2 2.1-9.4 3.6-3.2 2-2.2 4 0.1 6-1.3 2.2-5.3 3.8-15.4 8-43.3 20.9-11.8 5.1-12.2 3.9-9.3 6.1-8.7 3.9-14 3.2-6 2.5-8 4.5-16.1 5.9-3.8 0.7-12 0.5-4 1.1-4 2.4-1.3 1.2-0.7 2 0.3 2 2.4 4 0.3 2-6.9 12-17.4 34-16.7 26.8-2 1.8-2 0.8-16-2.4-6 0.6-4 1.1-2.7 1.3-2.1 2-0.4 2 1.2 2 4 2.8 9.7 3.2-0.5 2-17.2 13.8-34 34.1-2 0.4-8-1-4 1-2.3 1.7-0.7 2 0.8 2 4.2 2.6 4.3 1.4 0.5 2-11 26-9.8 27.9-7.9 36-1.2 8-0.4 10-108.4 0 0-667.7zM1211.9 186.2l-0.8 2 1.8 2.3 4 0.3 1.3-0.6 1.8-2-0.5-2-2.6-1.4-2-0.1z"/>
<path fill="#68ff97" d="M1214 166.2l1.1 6 2.7 8-1.7 2-3.2 1.2-2 1.6-0.8 1.2-0.3 2 1.1 2.2 4 1.7 4-0.5 4-1.4 2 0 4 3 12 12.6 1.2 2.4-0.9 2-3.8 4-1.5 4 0.6 4 1.2 2 3.2 2.5 2 0.6 8-0.5 2 1.5 5.2 7.9 4.8 4.6 6 4.2 18 9.6 8 6.3 6.9 7.3 0.3 2-1.2 4 1.3 2 4.7 2.1 7.2 1.9 3.9 2 18.9 16 14 9.2 6 2.8 12 4.2 15.9 4.6 34 8.5 50.3 16.7 3.7 2.1 2.8 3.9 5.2 2.6 6 0.7 10-1.5 4 0 24 5.7 8 2.7 43.9 17.3 36 11.7 8 2.2 25.8 4.5 7.8 2 4.4 2.3 1.4 1.7 0.5 2-0.5 2-1.5 2-5.9 3.5-28 10.7-12 3.8-26 6.5-10 1-21.9 0.2-8 1.5-6 2.4-7.4 4.4-7.4 6-5.2 6-3.5 6-0.7 2 0.6 2 3.6 2.4 2.8 3.6-0.2 2-0.6 0.8-1.2 1.2-2.8 1.4-10.2 2.6-2.5 2-5.3 7.7-6 4.4-47.8 25.9-46.8 22-48.2 18-13.1 2.8-6.5 3.2-1.9 1.9-0.9 2 0.9 6-0.8 2-5.7 8-21.1 34.9-16.4 25.1-1.8 2-3.8 1.6-14 1.1-6 1.9-2.3 1.4-1.8 2-0.5 2 0.9 2 1.7 1.7 5.3 4.3-0.7 2-35.5 36-8.7 10-2.4 0.7-8 0.3-2 0.7-3.1 2.3-0.6 2 0.6 2 3.1 2.6 3.2 1.4 1 2-11 26-9.9 27.9-7.4 36-1.1 8-0.4 10-106.3 0 0-667.7zM1286.8 586l-0.5 2 1.5 2 1.1 0.6 4-0.1 2.2-2.5-0.7-2-3.5-1.5-2 0.3z"/>
<path fill="#78ff87" d="M1207.8 166.2l0.5 4 3.5 10-3.2 6-0.1 2 1 2 3.4 2.4 8 0.8 2.9 0.8 3.1 2.5 9.5 9.5 1.4 2 0.2 2-2.4 6-0.3 4 1.6 3.9 2 2.1 2 1.3 8 1.9 7.2 8.8 4.9 4 9.9 6.4 18 9.1 6 5.1 5.1 5.4 0.6 2-0.7 4 1.4 2 3.6 2 6.5 2 4.1 2 19.4 17.1 16 10.8 10 4.3 17.9 6 40 10.4 47.3 15.4 4.7 2 4 2.9 4 2.1 6 1.1 10 0.3 4 0.5 28 7.5 22 7.9 19.2 7.6 10.7 4.9 38 12 23.9 5.1 4.9 2 1.9 2-0.6 2-2.4 2-3.9 2-21.3 8-30.5 7.3-37.9 5.4-8 2.3-6.7 3-7.3 4.2-8 6.1-5.2 5.7-4.8 8-0.8 2 0.4 2 8.4 2.7 2 1.4 1.4 1.9-0.2 2-2.2 2-5 1.6-10 0.1-2 0.5-8 7.4-6.2 4.4-44.8 26-47 22.6-45.9 17.7-16 6.9-4.2 2.8-2.8 3.9-0.8 4-1.2 2-7.8 10-35.2 51.2-5.2 6.8-1.9 2-3.2 2-9.7 2.6-6.3 3.4-1.6 2-0.4 2 0.6 2 2.7 4 0.2 2-2.9 4-10.3 12-20 20.5-7.2 9.5-2.8 1.4-8 1.6-3.8 3-0.7 2 0.6 2 4.5 4 1 2-10.3 24-10.2 27.9-2.4 10-5.2 28-1 8-0.4 10-104 0 0-667.7zM1286.2 584l-1.9 2-0.4 2 0.7 2 2.3 2 2 0.8 4 0.2 2.6-1 2.3-2 0.5-2-0.6-2-2.8-2.4-4-0.9z"/>
<path fill="#82ff7d" d="M1201.8 166.2l1.1 6 4.2 8 0.4 2-0.2 6 0.9 2 2.1 2 2.6 1.4 8.4 2.6 12.4 12 1.2 2 0.3 2-0.6 8 1.5 4 1.7 2 9.1 5.2 6 7.7 6.8 5.1 9.7 6 15.5 6.9 6 3.9 7.4 7.2 0.9 2-0.2 4 1.3 2 4.6 2.6 8.4 3.4 19.6 18 14 10.1 10 5.1 23.9 8.5 42 11.2 42 13.6 16 6.3 16 3.2 30 8.7 20 6.9 16 6.5 6.9 3.8 3.9 4 2.5 4 1.9 4 0.9 4-0.8 6-2.5 6-2.4 4-3.5 4-4.9 2.8-16 4.2-12 4.2-10 4.7-8 5-6 5-3.6 4.1-5.4 8-5.7 10-7.3 8-8 6.1-28.4 17.9-13.6 8-47.1 24-42.8 17.4-8 3.9-15.4 10.7-16.6 19.3-4 3.7-2 0.5-6-4.6-6-2-6 0.7-3.6 2.3-1.3 2-0.4 2 1.3 3.5 4 3.2 10 2.6 0.6 0.7-1.8 4-30.2 42-2.4 2-6.2 3.4-3.2 2.6-1.4 2-0.5 2 0.5 6-2.4 4-6 8-21 23.1-9.3 12.9-8.7 3.2-2.8 2.8-0.6 2 0.4 2 3.1 4 0.5 2-9.4 22-11 29.9-7.3 36-1.2 10-0.4 10-101.2 0 0-667.7zM1510.8 466.5l6 0.6 2.1 1 1.9 1.8 0 2.2-2 1.6-4 1.2-4 0-3.4-0.8-3.3-2-0.8-2 1.8-2z"/>
<path fill="#87ff78" d="M1200.3 166.2l0.9 6 5.2 10 0.1 4 1.3 4 3.1 2.8 10 4.1 11.5 11.1 1.4 2 0.7 2-0.2 8 1.5 4 1.6 2 9.1 6 4.4 6.1 6 5 12 7.4 16 6.9 6 4 6.9 6.6 0.9 2 0 4 1.3 2 2.9 1.8 9.7 4.2 20.3 18.9 15.7 11.1 8.3 4 25.9 9.3 40 10.6 42 13.5 14 5.4 14 3.2 34 10 17.4 5.9 18.6 7.8 3.9 2.2 3.9 4 1 2 0.9 4-0.1 8-1 8-1.1 4-2.4 4-2.5 2-2.6 1.3-20 6.2-10 3.8-8 3.9-8.1 4.8-5 4-3.7 4-16.1 22-5.1 4.8-7.2 5.2-37.9 24-45.1 24-12.6 6-33.1 13.4-8 3.9-17.2 12.7-18.8 19.2-2 0.6-2-0.3-6-2.6-6-0.7-4 0.8-4.5 2.9-1.2 2 0 4 1.7 2.9 2 1.8 6.4 3.3 1.1 2-0.8 2-29.6 42-9.6 8-1.8 4-0.8 6-6.9 10.2-20.9 23.8-7.9 12-2 2-7.2 2.9-3.2 3.1-0.5 2 0.3 2 2.7 4 0.3 2-8.6 20-11.8 31.9-7.7 38-1 8-0.3 10-100.1 0 0-667.7zM1253.5 600l1.4 1.5 2-0.5 0.6-1-0.6-0.9-2-0.5zM1508.8 467.3l4-0.5 4 0.6 2 1 1.7 1.7-0.1 2-3.1 2-2.5 0.6-6.1-0.6-3.4-2-0.4-2 1.9-1.9z"/>
<path fill="#8cff73" d="M1199 166.2l1.4 8 4.8 8 1.2 6 1 2 3.5 3.2 7.3 2.8 2.7 1.9 10.3 10.1 2.5 4 0.3 8 1.5 4 1.6 2 8.3 6 5.5 7.4 4 3.3 14 8.5 16 6.8 6 3.9 6.3 6.1 1 2 0.2 4 1.3 2 3.2 2 9 4 21 19.7 14.4 10.3 9.6 4.7 25.9 9.5 40 10.6 40 12.8 14 5.2 12.3 3.2 35.7 10.7 18 6.1 16.6 7.1 5.4 3 3 3 1.1 2 0.9 4 0 8-1.1 8-1.4 4-2.5 3.4-4.4 2.6-29.6 10.4-7.6 3.6-8.4 4.9-4.2 3.1-4 4-17.8 21.8-10 7.8-37.8 24.4-50.1 28-12.7 6-31.3 13-6 3.3-16 12.1-8.6 7.5-7.8 8-3.6 2.7-2 0.4-8-1.4-4-0.1-6 1.7-3.4 2.7-1.1 2-0.2 4 2.7 4.5 3.9 3.5 0.8 2-0.6 2-28.7 42-7.5 8-1.3 2-2.6 8-6.7 10-19.3 23-8.2 13-2 2-5.8 2.5-3.5 3.5-0.5 2 0.3 2 2.1 4 0.1 2-7.7 18-9.3 23.9-3.3 10-7.6 36-1.4 10-0.3 10-98.8 0 0-667.7zM1253.7 598l-1.3 2 1.2 2 1.3 0.6 2.8-0.6 1.1-2-1.3-2-2.6-0.5zM1508.8 467.9l4-0.8 4 0.6 3.3 2.4-0.1 2-3.2 1.9-2 0.5-4-0.2-2-0.6-2.5-1.6-0.4-2z"/>
<path fill="#91ff6e" d="M1197.9 166.2l1.2 8 1.8 3.9 3.1 4.1 2.9 8 4 3.5 5.9 2.5 3 2 10.2 10 2.9 4.2 0.8 7.8 1.5 4 3.7 4.1 5.5 3.9 6.5 8.5 4.5 3.5 13.5 7.9 14 5.7 6 3.3 7.8 7.1 1.1 2 0.3 4 1.2 2 3.6 2.3 8.3 3.7 4.8 4 16.9 16.5 14 9.9 10 5 25.9 9.7 42 11.3 52 17.1 62 19.1 8.4 3.3 15.6 7.9 3.5 4.1 1.1 4 0 8-1.2 8-1.9 4-3.5 3.3-5.9 2.7-26.1 9.4-14 7-5.4 3.6-4.4 4-14.2 16.1-6.2 5.9-43.8 28.7-32 18.5-23.9 14.8-38 16.6-6 3.1-21.8 16.3-15.7 13.9-2.5 0.8-12 0.3-4 1.4-4 3.1-1.5 2.4-0.3 4 0.6 2 3.4 6 0.1 2-1 2-15.3 22.3-13.9 21.7-4.6 6-4.9 10-6.5 10-18.1 23-7.6 13-2 2-6.4 3.6-1.8 2.4-0.7 2 0.3 2 1.7 4-0.1 2-6.1 14-10.8 27.9-4.9 16-7.1 34-1 16-97.4 0 0-667.7zM1252.4 598l-0.8 2 1.3 2.6 2 0.8 2 0 2.3-1.4 0.7-2-1-2-2-1.1-2-0.1zM1510.8 467.7l4-0.1 2.1 0.5 2.9 2-0.2 2-2.8 1.7-2 0.4-3.4-0.1-2.6-0.9-1.7-1.1-0.3-2 2-1.7z"/>
<path fill="#96ff69" d="M1196.8 166.2l0.6 6 1.2 4 5.3 8 2.5 6 2.5 2.6 9.7 5.4 12 12 2.1 4 0.7 6 1.6 4 1.9 2.8 6.4 5.2 7.6 9.7 4 2.9 14 8 14 5.5 6 3.3 7.2 6.6 1.2 2 0.5 4 1.2 2 3.9 2.5 7.7 3.5 6.8 6 15.5 15.4 14 9.8 10 5 25.9 9.9 42 11.2 54 17.6 56 17.5 12 4.9 12.5 6.6 4.2 4 1.5 4 0.3 6-1.1 8-1.6 4-4.3 4-8.4 4-25.1 9.2-13.8 6.8-7.7 6-14.5 14.7-6 5.2-20 12.2-24 16.2-32 19.2-24.4 16.5-37.5 17-6 3.2-21.7 15.8-16.3 13.9-4 1.1-10 1.7-4 1.9-2 1.7-1.5 1.6-1.5 4 0.3 4 1.2 4 0 2-0.7 2-21.2 32-22.4 38-18.2 25.1-7.1 12.9-1.9 2-5 3.1-2.3 2.9-0.6 2 1.4 6-0.3 2-5.2 12-11.5 29.9-5 16-7.6 34-0.7 6-0.2 10-95.9 0 0-667.7zM1251.5 598l-0.7 2 0.6 2 1.5 1.5 2 0.8 2 0 2-0.7 1.7-1.6 0.5-2-0.9-2-1.3-1-2-0.8-2-0.1-2 0.7zM1510.8 468.1l4-0.2 2 0.5 2.6 1.7-0.2 2-4.4 1.9-4-0.3-2-0.9-1.1-0.7-0.3-2z"/>
<path fill="#9cff63" d="M1195.8 166.2l0.6 6 1 4 1.5 3 4 5.2 3 5.8 3 3.1 8.6 4.9 12 12 2.4 4 1.7 8 2.2 4 6.5 6 7.8 10 4.8 3.5 14 7.8 14 5.4 6 3.3 6.7 6 1.2 2 0.7 4 1.2 2 4.2 2.7 7 3.3 2.6 2 20.4 20.2 14 9.7 8 4.2 27.9 10.9 42 11.2 76 24.9 34 10.5 10.2 4.3 13.5 8 3.3 4 1.1 4 0 6-1.2 6-2.4 4-2.5 2.2-10 5.2-22 7.7-16 7.4-7.4 5.5-14.6 13.2-6 4.7-20 11.6-24.3 16.5-31.7 19.7-21.9 16.3-10.1 5.5-33.9 15.7-24 16.9-16.7 13.8-4.7 2-8.6 2.6-5.1 3.4-1.6 2-1.6 4-0.3 6-1.1 4-20.3 31.3-20.7 36.7-17.3 25.9-8.6 16.1-1.7 2-3.7 2.6-2.8 3.4-0.5 2 0.7 6-0.5 2-17.2 43.9-4.8 16-7.6 32-0.7 6-0.1 10-94.4 0 0-667.7zM1253 596l-2.4 2-0.6 2 0.5 2 2.4 2.5 2 0.7 4-0.2 1.7-1 1.7-2 0.2-2-0.9-2-2.6-2-2.1-0.6zM1512.8 468.1l4 0.6 2 1.2 0 2.2-2 1.1-4 0.6-4.4-1.7-0.3-2 2.7-1.6z"/>
<path fill="#a1ff5e" d="M1194.9 166.2l0.5 6 1.5 5.6 6 8.2 2.5 4.2 3.5 3.5 7.5 4.5 12 12 2.8 4 2.1 8 2.1 4 5.9 6 7.7 10 5.3 4 14.6 8 14 5.2 6 3.3 6.1 5.5 1.4 2 0.7 4 1.3 2 4.5 2.9 6.4 3.1 2.5 2 19.9 20 15.2 10.7 10 4.9 25.9 10.3 42 11.2 76 25.1 34 10.6 11 5.1 9 6 4.1 4 1.5 4 0.2 6-1.7 6-2.1 3-3.9 3-8.1 4.2-22.9 7.8-15.1 6.7-5 3.3-23 18-20 10.8-24 16.5-32 20.5-24 18.9-9.5 5.3-28.4 13.2-8 4.7-22.8 16.1-14.5 11.9-3.1 2-7.6 3.2-6 4.1-3.4 4.7-2.5 8-1.2 2-2.9 3.7-2 1.6-2-1.1-1.3-2.2-2.5-2-2.2-1-4-0.3-2 0.6-2 1.4-1.1 1.3-0.5 2 0.3 2 1.3 1.9 2 1.6 2 0.7 6 0.4 2 1.4-1.8 4-14.2 23.8-16.1 30.2-15.9 25.7-8.1 16.3-7.2 8-0.5 2-0.2 6.9-17.3 45-6.1 20-7 28-0.7 6 0.1 10-92.9 0 0-667.7zM1508.8 470.1l2-1.3 4-0.4 3.7 1.7-0.1 2-1.6 0.9-4 0.5-3.8-1.4z"/>
<path fill="#a6ff59" d="M1194 166.2l0.8 8 2.3 6 9.5 12 8.7 6 12.1 12 3.5 5.1 2.1 6.9 2 4 13.9 17 4 3.1 14.7 7.9 15.3 5.7 6 3.3 6 5.5 3.1 7.5 2.9 2.1 7.7 3.9 2.6 2 19.7 20.1 14 10 10 5.4 27.9 11.2 42 11.3 34 10.9 44 15.2 30 9.1 10.2 4.7 8.4 6 4.4 4 1.3 2 1.1 4-0.5 6-1.9 4-3 3.2-4 2.8-8.6 4-29.7 10-7.7 3.8-24 16.9-22 11.5-24 16.5-20 12.9-16 11.3-14.7 13.1-7.3 5.5-8.1 4.5-29.8 14.4-23.5 15.6-23.2 17.9-12.2 8-3.5 4-5.6 9.3-2 1.9-2 0.5-8-1.8-4 0.7-2.3 1.4-1.6 2-0.5 2 0.2 2 2.2 3.3 4.4 2.7 1.6 2-0.5 2-11.5 20-17.4 34-14.6 25.7-7.6 16.3-6.2 8-1.1 8-18.2 47.9-8.4 28-4.8 20-0.2 14-91.4 0 0-667.7zM1512.8 468.7l4 0.6 1.3 0.8-0.2 2-3.1 1.1-4-0.5-1.2-0.6-0.2-2z"/>
<path fill="#abff54" d="M1193.1 166.2l1.2 10 2.6 5.5 9 10.5 10.7 8 10.3 10.6 3.6 5.4 2 6 2 4 14.4 18 4 2.9 16 8.4 14 4.9 6 3.3 6 5.8 1.6 4.7 1.2 2 3.2 2.3 7.1 3.7 2.5 2 20.4 21 14 9.9 10 5.3 27.9 11.4 42 11.2 34 11 46.3 16.1 27.7 8.3 7.6 3.7 5.9 4 6.3 6 2.2 3.5 0.7 2.5-0.1 4-1.5 4-3.1 3.7-3 2.3-5 2.9-6 2.5-18 5.2-15.2 5.4-26.8 16.8-24 11.9-20 14.2-20 13-16 11.6-6 5-11.7 11.5-6.3 5-8.5 5-29.4 14.5-29.5 19.5-28.5 22.1-12.5 13.8-1.5 0.6-8 0.4-4 1.8-1.4 1.2-1.4 2-0.3 4 1.1 2.7 2.7 3.3 0.8 2-0.4 2-15.1 27.8-12.6 26.2-12.5 24-8 18-5.3 8-1.7 8-18.7 49.9-9.9 32-3.3 14 0.1 14-90 0 0-667.7zM1512.8 469l4 0.6 0.8 0.5-0.2 2-2.6 0.9-4-0.6-0.6-0.3-0.2-2z"/>
<path fill="#b0ff4f" d="M1192.3 166.2l1.1 10 2.7 6 9.2 10 10.3 8 11.3 11.8 2.8 4.2 4.2 10 10.4 14 3.5 4 5.1 3.8 14 7.2 16 5.8 6 3.3 6 5.9 1.2 4 1.3 2 12.5 8 21 21.9 12 8.4 10 5.7 29.9 12.5 42 11.2 34 11 48.9 17.2 25.1 7.4 8.6 4.6 4.8 4 4.9 6 1.6 4-0.1 4-1.9 4-3.9 4-4 2.8-10 4.3-14 3.2-16 5-28 15.6-18 7.9-8 4.5-17.6 12.7-20.4 13.6-16 12-7.2 6.4-12.8 13.2-5.9 4.8-8 4.7-26.4 13.3-25.3 16-14.3 10-14 10.7-10.4 9.2-9.5 10-8.1 2.6-4 2.8-1.7 2.6-0.5 2 0.5 4 1.4 4-0.1 2-0.8 2-14.8 28.2-22 47.4-8.5 20.4-4.7 8-2.2 8-19.8 53.9-10.2 32-2.4 12 0.4 12-88.5 0 0-667.7zM1510.8 470l2-0.7 4 0.6 0.1 2.2-2.1 0.6-3.9-0.6z"/>
<path fill="#b5ff4a" d="M1191.4 166.2l1.1 10 2.5 6 9.6 10 10 8 11.6 12 2.8 4 3.3 8 2.6 4.5 12 15.6 5 3.9 15 7.7 16 5.6 6 3.3 5.4 5.4 1.4 4 1.3 2 12.3 8 20.7 22 11.2 8 11.7 6.7 29.9 12.7 42 11.1 34 11 45.6 16.4 14.4 4.7 14 3.7 6.5 3.6 4.9 4 4.2 6 1.4 4-0.2 4-2.1 4-4 4-4.7 2.9-8 3.2-12 2.1-18 5-28 13.9-20 8.3-8 4.6-16 11.8-20.8 14.2-15.2 11.9-6.8 6.1-12.5 14-6.7 6-7.9 5-29 15-31.4 20-19.6 13.9-12 10.5-8.9 9.5-9.1 6-1.7 2-1.7 4 0 6-1 4-9.6 18.1-8 17.2-16 37.8-9 22.9-5.7 12-10.3 30-11.3 29.9-10.6 32-1.6 6-0.8 6 0.5 12-87.1 0 0-667.7zM1512.8 469.6l3.7 0.5-0.3 2-1.4 0.4-3.1-0.4-0.3-2z"/>
<path fill="#baff45" d="M1190.6 166.2l1 10 1.3 4 2 3.5 8.9 8.5 9.8 8 11.6 12 3.7 5.4 2.8 6.6 3.2 5.7 5.9 8.3 6.1 7.2 4 3.1 16 8.1 16 5.4 6 3.4 4.9 4.8 2.9 6 11.9 8 11.7 12 8.6 9.8 8 6.2 14 8.4 31.9 13.8 42 11.2 34 11 48.4 17.5 12.6 4 13 3.3 4.7 2.7 4.8 4 3.1 4 2 6-0.5 4-2.1 4-4 3.8-6 3.4-4 1.5-14 2.1-18 4.6-26 11.8-22 8.3-8 4.3-18 13.5-18.3 12.7-15.7 12.6-8 7.4-13.2 16-4.7 4.5-6 4-33 17.5-43.7 28-17.5 13.9-17.5 18-2.4 4-2.3 8-11.6 22.8-10 23.2-18.8 50-6.1 14-11.7 34-11.4 29.7-7.9 22.8-4.1 13.4-0.8 8 0.7 10-85.8 0 0-667.7zM1515.6 470.1l-0.4 2-2.6 0-0.4-2z"/>
<path fill="#bfff40" d="M1189.8 166.2l0.9 10 1.2 4 2.3 4 4 4 14.4 12 11.7 12 4.1 6 3.7 8 4.8 8 9.9 12 4.1 3.1 16 7.9 16 5.4 6 3.3 4.4 4.3 3 6 11.7 8 11.6 12 9.3 10.7 6.8 5.3 15.2 9.1 31.9 14 42 11.1 34 11.1 45.3 16.6 14.7 4.8 14 3.5 5.7 3.7 3.9 4 2.2 4 0.9 4-0.7 4-2.2 4-3.8 3.4-6 3.3-4 1.1-14 1.6-16 3.7-28 11.8-20.3 7.1-8.4 4-17.3 13.2-21 14.8-14.4 12-10.4 10-10.6 14-6.1 6-5.4 3.4-31.2 16.6-41.7 26-13.8 9.9-9.5 8-6 6-10.6 14-15.2 30.7-10 23.8-16.5 47.5-8.1 20-10.3 30-13.1 34.4-9.6 27.5-2.5 10 0.6 14-84.4 0 0-667.7z"/>
<path fill="#c4ff3b" d="M1189 166.2l0.9 10 1.1 4 2.1 4 3.8 4 14.8 12 11.7 12 4.2 6 4.8 10 3.5 6 9.8 12 5.2 4 16 7.7 16 5.2 6 3.4 3.8 3.7 3.2 6 11.4 8 11.6 12 10 11.6 6 4.6 16 9.6 31.9 14.1 42 11.1 34 11.2 48.2 17.7 12.8 4 11 2.4 4 1.9 4.4 3.7 3 4 1.5 4 0 4-1.6 4-3.8 4-5.5 3.5-4 1.1-15.1 1.4-16.9 3.9-26 10.6-22.2 7.5-7.8 3.7-18 13.9-20.3 14.4-14.2 12-10.4 10-11.8 16-5.2 5-6 3.7-32.3 17.3-42.1 26-13.5 9.9-14.1 12.6-9.3 13.4-8.7 16-10 20.7-8 20-15 45.3-11 28.3-8.5 25.7-21.4 57.1-3.4 12.8-0.2 4 0.7 10-83.1 0 0-667.7z"/>
<path fill="#c9ff36" d="M1188.2 166.2l0.3 6 1 6 1.4 4 2 3.3 2.6 2.7 15.2 12 11.7 12 4.4 6 8.1 16.1 10 12.1 4 3.4 4 2.2 16 7.4 14 4.2 6 3.5 3.2 3.1 3.4 6 11.2 8 11.5 12 10.1 12 6.6 5.1 16 9.5 31.9 14.2 42 11.1 34 11.1 46 17.2 14 4.4 12 2.5 4 2.1 3.1 2.7 3 4 1.4 4-0.1 4-1.8 4-3.6 3.7-4 2.6-4 1.2-14 0.9-17.4 3.6-26.6 10.6-22.5 7.4-8.6 4-16.9 13.3-23.3 16.7-13.8 12-8.9 8.6-11 15.4-6.1 6-36.5 20-45.6 28-15.7 11.9-10.9 10-10.1 15.7-8 14.8-8 16.4-8 19.6-16.7 51.5-9.3 23.6-9.4 28.4-16.5 42.9-6 16.9-2 7.1-0.8 5 0.6 12-81.8 0 0-667.7z"/>
<path fill="#cfff30" d="M1187.4 166.2l1.3 12 1.3 4 2.4 4 2.5 2.6 14.8 11.4 11.8 12 4.4 6 9 17.5 8.8 10.5 3.2 3 4.8 3 17.2 7.8 14 4.2 6 3.5 2.6 2.5 3.6 6 10.9 8 11.4 12 9.5 11.5 6 5.1 18 10.7 29.9 13.6 44 11.8 34 11.2 48.3 18 11.7 3.7 12 2.4 4 2.3 3.5 3.6 1.4 2 1.3 4-0.2 4-2 4-4 3.8-4 2.2-4 0.6-10 0.3-18 3.3-28 10.8-26 8.6-5 2.4-17 13.4-23.3 16.6-13.8 12-8.9 8.4-12.6 17.6-5.3 5-38.2 21-42.6 26-13.5 9.9-13.7 12-8 11.8-10 17.8-10 20.8-8 20.1-15 47.5-11 28.6-9 27.4-16.9 43.6-5.7 16.3-2.2 10 0.4 12-80.5 0 0-667.7z"/>
<path fill="#d4ff2b" d="M1186.6 166.2l1.3 12 1.3 4 2.1 4 3.6 3.7 13.7 10.3 12.3 12.4 5.3 7.6 8.1 16 8.6 10.2 4 3.7 4 2.6 18 8 14 4 5.9 3.5 2.1 2 3.8 6 10.7 8 11.3 12 10.2 12.5 6 4.9 16 9.6 31.9 14.7 44 11.8 34 11.2 46 17.4 14 4.4 12 2.4 4 2.4 2.4 2.6 2.2 4 0.5 2-0.3 4-2.3 4-2.5 2.6-4 2.3-16 1.1-18 3.5-24 9.3-28 9.2-4.4 2-19.6 15.2-20.8 14.8-13.9 12-11.3 10.9-10.5 15.1-5.4 5.6-6 3.7-31.1 16.7-42.9 26-11.3 8-16.7 14-6 8.3-12 20.8-10 20.5-8 19.8-16.7 52.5-9.3 24.1-9.1 27.9-16.8 43.1-6.1 16.8-2.8 12 0.2 12-79.3 0 0-667.7z"/>
<path fill="#d9ff26" d="M1185.9 166.2l1.2 12 1.2 4 2 4 3.7 4 13.6 10 13.3 13.5 4.5 6.5 7.9 16 9.6 11.3 4 3.6 4 2.4 18 7.8 14 4 5.1 2.9 2.9 2.7 3.4 5.3 10.4 8 11.3 12 10.9 13.5 6 4.8 18 10.4 29.9 13.9 42.8 11.4 35.2 11.6 48 18.1 12 3.7 12 2.4 3.5 2.1 1.8 2 1.3 2 1.3 4-0.4 4-0.9 2-3.4 4-3.2 1.9-4 0.6-12 0.4-18 3.4-28 10.6-24 7.8-6 2.8-18 14.2-22 15.7-16.6 14.6-8 8-9.7 14-5.6 6.2-6 3.8-33.2 18-43 26-15.9 11.9-11.3 10-6.6 9.6-10 17.4-10 20.3-8 19.5-16.8 53.2-10 26-9.1 28-16 40.8-6.9 19.1-3 12 0 12-78.1 0 0-667.7z"/>
<path fill="#deff21" d="M1185.1 166.2l1.2 12 3.1 8 3.5 4.3 14 10.1 13.5 13.6 4.2 6 7.8 16 2.9 4 7.3 8 4.3 3.8 4 2.3 16 6.9 16 4.7 4.3 2.3 3.7 3.5 2.9 4.5 8 6 8 8 7.1 8 10 12.5 6 4.6 16 9.4 31.9 14.9 44 11.8 34 11.3 48 18.2 12 3.6 12 2.4 2 1.1 2.3 2.1 1.3 2 1.3 4-0.5 4-1 2-3.4 3.8-2 1.1-4 0.6-8 0-5.7 0.5-16.3 3.2-26 9.8-26 8.4-6 2.8-18 14.2-22 15.6-16 14-8.3 8-11.6 16.6-5.5 5.4-36.4 20-46.1 27.8-18.3 14.1-7.7 7.2-6 8.6-12 21.1-10 20.7-8 20.1-15.7 50.3-9.9 26-9.1 28-17.2 43.7-6 16.9-2.8 11.3-0.2 12-77 0 0-667.7z"/>
<path fill="#e3ff1c" d="M1184.3 166.2l1.2 12 1.9 6 2.3 4 4.2 4 13 9.4 12.6 12.6 4.2 6 7.8 16 3.4 4.8 6.7 7.2 5.3 4.7 4 2.2 16 6.8 15.3 4.3 4.7 2.4 2 1.6 6 7.5 6.2 4.5 6.1 6 9 10 8.7 11.4 6 5.3 18 10.5 31.9 15.1 43.8 11.7 34.2 11.3 46 17.6 14 4.3 12 2.4 2 1.2 2 2.2 1.9 4.9-0.6 4-1 2-2.3 2.6-2 1.3-4 0.6-8 0-6 0.6-16 3.1-28 10.4-24 7.7-6 2.7-18 14.1-23.6 16.9-15.9 14-8 8-11.1 16-5.3 5.2-37.8 20.8-43.1 26-11 8-16.1 13.6-6 8.4-12 20.9-10 20.5-8 19.8-16.5 52.7-9.5 24.7-9.5 29.3-16.4 41.5-6.6 18.4-3.1 12-0.4 12-75.9 0 0-667.7z"/>
<path fill="#e8ff17" d="M1183.6 166.2l1.1 12 1.9 6 2.1 4 4.2 4.4 13.7 9.6 11.9 12 4.4 6.1 8.9 17.9 8.7 10 4.4 4.1 6 3.7 16 6.6 14 3.8 6 2.9 3 2.9 3 4 7.5 6 6.1 6 8.9 10 9.5 12.5 6 5.1 18 10.4 31.9 15.1 42 11.1 35.4 11.8 48.6 18.5 14 4.1 8.2 1.3 3.8 2 2 2.8 0.9 3.2-0.9 4.6-2 2.8-2 1.4-2 0.6-16 0.6-16 3.2-26 9.6-28 9.1-4 1.9-20 15.6-20.6 14.6-16 14-9.4 9.1-10.2 14.9-5.7 6-6 3.7-30.3 16.3-45.7 27.5-11.4 8.5-14.6 12.2-6 8.2-12 20.7-10 20.2-8 19.6-4 11.5-12.7 41.5-9.8 26-8.4 26-18.1 45.9-6.9 19.8-2.6 10.2-0.5 12-74.9 0 0-667.7z"/>
<path fill="#edff12" d="M1182.8 166.2l1.1 12 1.8 6 2 4 3.5 4 14.2 10 12.1 12 5.4 7.6 8 16.4 8.5 10 5.5 5.1 6 3.5 18 7.2 14 3.7 4 2.2 6 6.9 6.8 5.4 6.1 6 8.8 10 10.3 13.7 6 4.8 18 10.3 31.9 15.2 44 11.7 34 11.3 46 17.8 14 4.2 10 1.9 2 0.7 2 1.7 1.5 2.6 0.4 2-0.7 4-1.2 2-3.1 2-16.9 1-16 3.2-28 10.3-24 7.6-6 2.6-18 14-24 17.2-16 14.1-8.2 8-11.1 16-4.6 4.8-6 3.8-32 17.3-44 26.5-12.9 9.6-14 11.9-5.8 8-11.6 20-9.9 20-8.2 20-4.2 12-12.2 40-10.5 28-8.4 26-18.1 45.9-6.4 18-3.1 12-0.7 12-73.9 0 0-667.7z"/>
<path fill="#f2ff0d" d="M1182 166.2l1.1 12 1.8 6 2 4.3 4 4.6 14 9.7 12 11.9 5.4 7.5 7.6 16 3 4.1 5.5 5.9 6.4 6 4.1 2.6 20 7.9 13.6 3.5 4.4 2.5 6 6.7 6.1 4.8 6 6 8.8 10 10.3 14 6.8 5.4 18 10.2 31.9 15.3 42.1 11.1 35.9 11.9 48 18.6 14 4.1 8 1.4 3.2 1.9 1.3 2 0.4 2-0.9 4.3-2 2.1-2 0.7-18 1.2-14 2.9-28 10.3-26 8.3-4.7 2.2-19.3 15.1-22 15.6-17.3 15.3-8 8-10.6 15.5-4.4 4.5-5.6 3.6-32 17.3-45 27.1-18.3 14-8.7 7.8-6.9 10.1-11.4 20-9.7 20-8 19.8-15.6 50.2-10.5 28-7.9 24.4-17.9 45.8-7 19.7-3.2 12-0.8 12-73 0 0-667.7z"/>
<path fill="#f7ff08" d="M1181.2 166.2l0.5 8 1.1 6 2 6 2.1 3.8 4.1 4.2 13.9 9.7 12 12 4.5 6.3 7.6 16 2.8 4 5.5 6 6.2 6 5.4 3.5 18 7.1 14 3.5 6 3.1 6 6.5 7.5 6.3 5.6 6 8.6 10 8.5 12 5.8 5.1 20 11.4 29.9 14.5 6 2 36 9.2 34 11.2 50 19.4 16 4.8 8 1.7 2 1 1.9 3.6-0.2 2-1 2-2.7 1.8-18 1.4-14 3.1-28 10.2-26 8.3-6 3-18 14.2-22.5 16-17.5 15.4-8 8.1-9.9 14.6-5.9 5.9-36.1 19.8-44 26.4-12 8.7-12 9.8-4 3.8-6 8.4-12.1 21-9.9 20-8.1 20-4.2 12-12.1 40-10.6 28-8.3 26-17.4 43.9-7 20-3.2 12-0.9 12-72.1 0 0-667.7z"/>
<path fill="#fcff03" d="M1180.3 166.2l0.5 8 1.1 6 2 6 2.2 4 4.8 5.1 14 9.6 11.3 11.3 4.7 6.8 8 16.6 7.2 8.6 6.8 6.6 6 3.8 18 7 16 4.1 4 2.5 18.3 18 8.5 10 9.2 12.9 6 5.1 20 11.4 31.9 15.3 40 10.4 33 10.8 53 20.6 22 6.4 1.5 1 0.9 2-0.4 2.5-2 1.7-20 2.2-12 2.9-28 10.2-26 8.3-6 2.9-18 14.1-22 15.7-18 15.7-8 7.9-11 15.9-4.9 4.9-36 19.9-46 27.6-18 13.8-8.6 7.7-5.8 8-12.6 22-9.8 20-8.2 20-16.3 52-10.5 28-8.2 25.5-16.8 42.4-7.1 20.3-3.8 13.7-0.9 12-71.3 0 0-667.7z"/>
<path fill="#fffc00" d="M1179.5 166.2l0.5 8 1.1 6 1.9 6 2.1 4 3.8 4.5 16 11.3 10.2 10.2 5.6 8 7.6 16 6.7 8 7.9 7.6 6 3.7 18 6.9 14 3.4 4.9 2.4 17.1 16.4 10 11.6 9.8 14 6.2 5 18 10.2 31.9 15.6 6 2 35.9 9.2 34.1 11.2 50 19.7 14.9 5 8.5 4-2.1 2-8.7 2-8.6 1.2-14 3.7-26 9.7-26 8.2-6 2.8-18 14.1-24 17.2-16 14.1-8.9 9-11 15.9-4 3.9-38 21.1-44 26.5-20 15.3-7.7 7.2-5.6 8-11.6 20-9.9 20-8.2 20-4.3 12-12.7 41.6-10.6 28.4-7.7 24-16.6 41.9-7.7 22-3.9 14-0.9 12-70.5 0 0-667.7z"/>
<path fill="#fff700" d="M1178.6 166.2l0.5 8 1 6 1.9 6 2.9 5.4 4.5 4.6 14.5 10 11 11.1 4.9 6.9 7.6 16 7.5 9.2 8 7.6 6 3.5 18 6.7 12.9 3 5.1 2.2 12.9 11.8 7.1 7.6 8 9.6 8.7 12.8 5.3 4.8 22 12.4 29.9 14.6 40 10.5 36 11.9 52 20.8 8.5 2.9 4 2 1.3 2-2.5 2-11.3 2.4-12 3.6-26 9.6-26 8.2-6 2.8-19.9 15.4-22.1 15.7-16 14.1-8.4 8.2-11.2 16-4.3 4.6-5.2 3.4-30.8 16.6-46 27.7-20 15.2-8 7.4-6.3 9-12.6 22-9.7 20-8.1 20-17.3 55-8.7 23-9.3 28.4-15 37.5-8.4 24-3.8 14-1 12-69.7 0 0-667.7z"/>
<path fill="#fff200" d="M1177.6 166.2l0.5 8 1.6 8 2.2 6 2.4 4 4.6 4.8 14 9.5 11.7 11.7 4.3 6.2 7.4 15.8 2.8 4 5.4 6 6.4 6.2 6 4.2 20 7.5 14 3.3 4 1.9 11.9 10.9 6.1 6.4 8.2 9.6 9.8 14.5 6 5.3 20 11.4 31.9 15.6 42 11.1 36.3 12 44.4 18 12.2 6 0.6 2-45.5 16.6-26 8.2-6.8 3.2-18 14-23.2 16.5-16 14-9.6 9.5-10.3 15-4.8 5-5.2 3.3-32 17.4-44 26.4-18 13.6-10.4 9.2-6.9 10-11.5 20-9.8 20-8.2 20-4.2 12-12.8 42-9.8 26-8.3 26-15.2 37.9-8.4 24-4.4 15.9-1 12.1-69 0 0-667.7z"/>
<path fill="#ffed00" d="M1176.6 166.2l0.5 8 1.1 6 1.8 6 3.2 6 5.7 5.9 14 9.6 10.5 10.5 5.5 8 5.3 12 2.4 4 6.7 8 7.6 7.5 6 3.9 20 7.4 13.9 3.2 4.1 2.1 10.8 9.9 9.2 9.8 6.7 8.2 7.8 12 6 6 19.5 11.2 31.9 15.8 6 2.2 36 9.1 36 11.8 25.2 9.8 18.6 8 7.1 4 2 2-0.3 2-2.9 2-4.6 2-32.3 12-26.8 8.5-6 3.1-18 14.1-22 15.6-18 15.7-7.9 8-10.5 15-5.5 5.7-36 19.8-46 27.7-20 15.5-7.6 7.2-9.1 14-10.1 18-9.6 20-8.1 20-16.9 54-9.1 24-9.5 29.1-12.5 30.8-9.4 26.9-4.4 15.1-0.9 6-0.5 8-68.2 0 0-667.7z"/>
<path fill="#ffe800" d="M1175.6 166.2l0.5 8 1.1 6 1.8 6 3 6 5.5 6 14.6 10 10.8 10.9 5 7.1 7.6 16 6.4 8 9 8.7 6 3.8 20 7.3 14 3.2 4 2.2 9.7 8.8 10.3 11.1 6 7.4 8.8 13.5 5.2 4.8 22 12.5 31.9 15.6 41.9 11.1 36.2 11.9 25.3 10 13.5 6 6.6 4 1.4 2-0.5 2-2.6 2-4.5 2-27.3 10.5-28 9-6 3-17.4 13.5-24.6 17.5-16 14.1-8.4 8.4-11.2 16-4.3 4.3-38 21.1-44 26.6-22 17.1-6.8 6.8-7.8 12-10.2 18-9.7 20-8.1 20-17.4 55.1-9.4 24.9-8.6 26.6-12.7 31.3-8.5 24-5.8 20-1 6-0.3 8-67.6 0 0-667.7z"/>
<path fill="#ffe300" d="M1174.6 166.2l0.5 8 1.1 6 1.8 6 2.9 6.2 3 3.8 3 2.8 11 7.2 5 4 9.7 10 4.3 6.2 7.4 15.8 2.8 4 5.4 6 8.4 8 6 3.7 20 7.1 14 3.3 4 2.2 8.5 7.7 9.5 10.2 8 9.8 8 12.5 6 5.6 22 12.4 29.9 14.8 6 2 36 9.3 40 13.2 20.6 8.1 13.3 6 6.3 4 1.2 2-0.6 2-2.7 2-4.2 2-25.5 10-26.4 8.4-6 2.8-19.2 14.8-20.8 14.6-14 12-12.1 11.4-4.7 6-7.1 10.7-4 4.1-4.9 3.2-31.1 16.9-46 27.8-20 15.4-8.5 7.8-6.9 10-11.4 20-9.9 20-8.2 20-4.2 12-12.9 42.3-10.3 27.7-9.6 29.5-11.8 28.4-7.6 22-6.4 22-1.3 14-66.9 0 0-667.7z"/>
<path fill="#ffde00" d="M1173.5 166.2l0.5 8 1.6 8 2.1 6 3.2 5.9 6 6.2 14 9.6 10.3 10.3 5.5 8 5.3 12 2.4 4 6.5 7.9 10 9.6 6 3.5 18 6.4 16 3.9 4 2.3 8 7.3 10 10.8 6.7 8.3 9.1 14 6.2 5.4 24 13.5 27.9 13.6 8 2.6 34.6 8.9 36.5 11.9 29.7 12 7.5 4 2.5 2 1 2-0.7 2-6.5 4-19.8 8-28.8 9.2-8 4.1-16.4 12.7-23.6 16.6-14 12.1-11.7 11.3-10.2 14.7-5.1 5.3-36.9 20.7-44 26.6-8 5.7-14 11.2-7.9 7.7-9.1 14-10 18-9.7 20-8 20-17.3 55.2-8.6 22.8-9.3 28.8-12.1 29.1-6.9 20-7.1 24-1.3 8-0.4 8-66.2 0 0-667.7z"/>
<path fill="#ffd900" d="M1172.4 166.2l0.5 8 1.6 8 2.1 6 3.2 6 5.4 6 15.7 11.2 10 10.2 4 5.6 8.2 17 6.3 8 9.5 9.4 6 4 20 7.3 14.1 3.3 5.9 3 8 7.4 10 11 6 7.5 8.3 13.1 5.7 5.5 24 13.7 27.9 13.8 10 3.4 36.8 9.6 36.2 11.9 24.7 10 7.3 4 2.3 2 1 2-0.9 2-2.5 2-13.2 6-10.5 4-27.2 8.7-6 3.2-16 12.2-24 16.7-12 10.3-13.9 13.1-12 16.9-4 3.7-36 20.3-46 28-22 17.1-7.5 7.7-11.2 18-6.6 12-9.7 20-8.1 20-4.1 12-12.8 42.2-9.7 25.8-9.7 30-11.6 27.9-6.1 18-7.6 26-1.3 8-0.4 8-65.5 0 0-667.7z"/>
<path fill="#ffd400" d="M1171.3 166.2l0.6 8 1.6 8 2 6 3.1 6 5 6 15.3 11.1 10.9 10.9 5.1 7.6 6.7 14.4 2.7 4 4.6 5.3 10 9.8 6 3.9 18 6.5 17.4 4.5 4.6 2.7 8 7.6 10 11 6 7.8 8 12.5 6 5.4 28 15.9 25.9 12.5 6 1.9 34 8.8 36.9 11.8 25.4 10 7.1 4 2.2 2 0.9 2-1 2-2.8 2-7.8 4-10 4-28.9 9.3-6 3.1-18 13.4-22 15.1-12 10-14.1 13.1-4.8 6-7 10.4-4 4.1-36 20.7-46 28.1-22 17.1-7.6 7.6-9.1 13.9-10 18-10.5 22-7.8 20-17 54.6-8.8 23.4-9.1 28.6-11.3 27.3-6.1 18-8.1 28-1.3 8-0.3 8-64.9 0 0-667.7z"/>
<path fill="#ffcf00" d="M1170.2 166.2l0.6 8 1.1 6 2.5 8 2.9 6 5.6 6.9 15.1 11.1 10.9 11.2 4 5.7 8.4 17.1 6.4 8 9.2 9.3 6 4.4 20 7.4 16 4.3 6 3.4 8 7.7 10 11.2 6 8 6.5 10.3 5.5 5.4 30 17.3 23.9 11.5 8 2.8 34.6 8.9 37.2 12 24.6 10 3.2 2 1.9 2 0.6 2-1 2-2.5 2-7.6 4-10.7 4-24.3 7.8-8 4.2-16 11.7-20 13.3-12 9.5-17.2 15.5-10.7 14.8-5 5.2-19 12-32 18.6-32 20-22 17.3-7.6 8.1-11.2 17.9-6.5 12-9.6 20-8.1 20-4.1 12-12.9 43-9.3 25-10.3 32-10.3 25.1-5.1 14.8-8.9 31.2-1.4 8.8-0.4 8-64.2 0 0-667.7z"/>
<path fill="#ffc900" d="M1169.1 166.2l0.6 8 1.6 8 2.8 8 2.8 5.4 6 7.1 15.2 11.5 9.4 10 5.3 8 6.7 14 3.4 5 4.5 5 9.5 9.6 6 4.1 20 7.4 16 4.7 4.1 2.2 5.9 5.2 10 10.6 8 10.2 8 11.9 6 5.5 34 19.7 17.9 8.3 10 3.6 34.5 8.9 37.4 12 19.7 8 4.4 2.8 1.3 1.2 0.5 2-1 2-2.4 2-8.3 4-28.1 9.2-8 3.5-19.4 13.3-20.6 13.2-10 7.7-17.7 15.1-3.6 4-8.6 11.4-4.9 4.6-19.1 14-32 18.9-32 20.6-22 17.5-6.6 7-10.1 15.9-8.6 16-9.4 20-8.6 22-16.7 54.8-9.2 25.2-8.7 27.8-10.7 26.1-4.6 14-9.2 32-1.4 8-0.6 10-63.5 0 0-667.7z"/>
<path fill="#ffc400" d="M1168 166.2l0.6 8 1.6 8 2.7 8 4 7.3 6 6.8 12.8 9.9 7.8 8 6 8 6.8 14 3.7 6 10.9 12.5 8 7.2 6 3.2 6 2.3 26 8.8 6 3.3 6 5.4 10 10.8 13.4 18.5 4.6 4.6 6 4.2 34 20 23.9 9.9 41.4 11.2 31 10 10.1 4 8.3 4 2.6 2 0.8 2-1.1 2-6.8 4-28.3 9.7-6 2.6-44 27-25.9 19.3-30.6 31.4-4.5 4-30.9 18.9-34 22.9-20 15.9-8.1 8.3-9 13.9-9.8 18-10 22-8.3 22-14.8 50.2-10.6 29.8-9.3 29.9-9.7 24-4.3 13.3-9.2 32.7-1.4 8-0.5 10-62.9 0 0-667.7z"/>
<path fill="#ffbf00" d="M1166.9 166.2l0.9 10 1.9 8 3 8 3.4 6 6.8 7.9 10.2 8.1 7.8 8 6 8 8.1 16 3.9 6 12 13.7 6 5.5 8 4.3 28.3 10.5 7.7 4 6 5.1 10 10.5 12.4 16.4 5.8 6 5.8 4 36 22 23.9 9.6 37.4 10.3 30.9 10 12.7 6 2.5 2 0.9 2-1 2-2.9 2-9.2 4-19.3 6.9-20 11.1-18 8.7-31.9 21.3-6 4.7-6 5.9-20.5 23.4-5.5 5.5-32 20.7-18.2 13.8-15.8 10.6-20 16.5-8 8.8-10.9 18-6.1 12-9.6 22-8.1 22-15.3 53-9.4 27-8.5 28.2-10 25.7-4 12.1-9.9 35.9-1.3 8-0.6 10-62.2 0 0-667.7z"/>
<path fill="#ffba00" d="M1165.8 166.2l0.6 8 1.6 8 2.9 8.7 4 7.5 6 7.6 11.6 10.2 7.3 8 5.6 8 7 14 3.6 6 10.9 13.1 8 8.1 8 4.5 26 10.3 10 5.2 5.8 4.8 8.2 8.3 14.4 17.7 5.6 5.4 42 27.2 6 2.9 23.9 9 32.8 9.4 17.8 6 8.9 4 2.9 2 1.7 2 0.3 2-1.1 2-6.7 4-48.6 21.4-34.7 24.6-5.2 4.2-6 5.8-20.7 24-5.3 5.3-30 19.9-17.8 14.8-18.2 12.9-20 17-7 8.1-9.6 15.9-6.1 12-10 24-7.1 20-16.2 57.5-9 26.5-8.9 30-9.8 25.9-3.7 12-9.1 34-1.3 8-0.5 10-61.6 0 0-667.7z"/>
<path fill="#ffb500" d="M1164.7 166.2l0.6 8 1.6 8 2.7 8 3.9 8 7.4 9.9 10.8 10.1 6.7 8 5.2 8 7.1 14 3.7 6 12.5 15.2 6 6.2 8 4.8 27.9 11.8 8.1 4.5 6 5 8 7.8 14.2 16.7 4.2 4 5.4 4 22.3 14 17.9 12.4 29.9 12.6 22.2 6.9 10.9 4 7.5 4 2.1 2 0.8 2-0.6 2-1.8 2-3.1 2.2-7.5 3.8-20.5 8.8-4 2.2-17.5 15-24 18-8.3 8-22.1 25.2-34 23.8-16 14.7-16 11.7-17.1 14.6-6.2 6-4.7 6-10 16.9-5.4 11-9.5 24-6.1 18-4.2 14-12.2 46-9.2 28-8.1 28-9.4 25.9-3.8 12.5-9.3 35.5-1.3 8-0.5 10-60.9 0 0-667.7z"/>
<path fill="#ffb000" d="M1163.6 166.2l0.6 8 1.6 8 3.4 10 3.7 7.2 6 8.6 11.7 12.2 4.8 6 5.3 8 10.7 20 13.5 17.2 6 6.5 8 5.1 28 12.5 8 4.6 14 12.6 13.9 15.5 4.4 4 27.5 18 18.2 13.1 4 2.3 15.5 6.5 12.4 6.4 14.4 5.6 6.5 4 1.4 2 0.2 2-1.2 2-2.3 2-15 8.3-17.6 17.7-30.2 24-5.9 6-15.5 18-4.7 4.8-32 22.9-16.5 16.3-15.7 12-17.8 15.4-6.6 6.6-5.7 8-9.1 15.9-4.6 9.5-8.5 22.5-5.5 16.5-5.1 17.5-11.7 46-8.9 28-8.4 30-9.7 27.9-3.5 12-8.6 34-1.2 8-0.5 10-60.3 0 0-667.7z"/>
<path fill="#ffab00" d="M1162.5 166.2l0.6 8 1.7 8 3.3 10 4 8 6.8 10.2 10.5 11.8 5.8 8 4.8 8 6.9 13.5 4 6.3 12 15.5 5.9 6.7 4.1 3.2 4 2.2 30 14.2 6 3.6 14 12.3 13.7 14.5 4.5 4 19.8 12.7 28 20.3 17.9 8.6 7.1 4.3 6.9 6 1.6 2 0.7 2-1 4-5.1 8-4.5 6-7.4 8-13.6 12-20.4 16-23.7 26-16.5 11.7-16 12.3-17 18-15 11.9-18 15.9-7.4 8.2-6.6 10.5-7.3 13.4-3.7 8-8.6 24-4.9 16-4.5 16-6.4 28-4.8 18-9.2 30-8.1 30-9.4 27.9-3 11-8.7 35-1.2 8-0.5 10-59.6 0 0-667.7z"/>
<path fill="#ffa600" d="M1161.4 166.2l0.6 8 1.7 8 3.3 10 3.9 8.3 6 9.7 11.2 14 5.5 8 10.8 20 4.5 7.4 17.6 22.6 4.4 3.7 4 2.4 30 14.8 6 3.7 14 12 11.3 11.4 6.7 5.9 20 12.9 28 20.8 19.1 10.3 4.8 4.1 1.5 1.9 1.6 4-0.3 4-2.7 6-4.4 6-5.6 6.3-16 14.6-19.7 15.1-18 20-4.2 4-14.1 10-17.6 14-17.8 20-12.6 10.3-19.6 17.7-4.4 4.7-3.9 5.3-8.1 14-5.2 9.9-3.4 8-7.4 22.1-4.6 15.9-4.3 16-6.1 28-4.1 16-9.9 34-8 30-8.9 27.9-4 15.2-7.4 30.8-1.2 8-0.4 10-59 0 0-667.7z"/>
<path fill="#ffa100" d="M1160.3 166.2l0.9 10 1.9 8 3.5 10 4.3 8.8 6 10 8.4 11.2 6.6 10 14.4 26 17.9 24 4.5 4 4.2 2.7 30 15.5 6 3.7 14 11.7 18 16.4 20 12.9 28 21.3 16.2 9.7 4.1 4 1.8 4-0.2 4-2.9 6-4.7 6-7.6 8-10.7 9.6-20 15-20 21.4-16 11.9-16 13-4.9 5.1-9.4 12-5.5 6-12.2 10.4-19 17.6-7.9 10-9.1 16-5 9.9-3 7.5-10.3 34.5-5 20-8.7 40-10.2 36-8.2 32-8.5 27.9-4.1 16-7.3 32-1.3 16-58.3 0 0-667.7z"/>
<path fill="#ff9c00" d="M1159.2 166.2l0.6 8 1.7 8 3.5 10.6 4 9 6.8 12.4 14.3 22 13.2 24 13.6 19.7 5 6.3 4.2 4 4.8 3.3 36 19.9 14 11.4 16 13.9 20.7 13.5 27.3 21.4 15.3 10.5 2.7 3.1 1.3 2.9-0.2 4-1.7 4-4.4 6-5.6 6-11 10-20.4 14.9-5.5 5.1-14.5 15.7-16 12.1-16 13.5-4.3 4.7-13.8 18-31.9 29.5-4 4.6-4 5.8-10 18.1-3.9 7.9-3.1 8-9 31.8-5.3 22.2-8.2 40-10.4 38-8.5 34-8.1 27.9-4.4 18-6.1 28-1.3 16-57.6 0 0-667.7z"/>
<path fill="#ff9600" d="M1158.1 166.2l0.9 10 1.9 8 4.3 12 5.7 12.2 4 7.7 14.7 24.1 11.3 20.9 12 18.1 6.7 9 4 4 5.3 3.8 36 20.7 30 24.2 22 14.3 36.2 28.9 3.4 4 1.1 4-1 4-2.3 4-9.4 10.3-8 6.8-20.9 14.9-6.4 6-11.2 12-17.5 13.7-16.2 14.3-3.8 4.3-14.3 19.7-25.7 24.1-7.5 7.9-6.5 9.5-9.9 18.5-5.9 13.9-8.2 30.5-5.7 25.5-6.8 36-10.5 40-9.3 38-7.2 25.9-7.4 32-3.2 16-0.9 14-56.9 0 0-667.7z"/>
<path fill="#ff9100" d="M1157 166.2l0.9 10 2.6 10 4.5 12.4 7.9 17.2 26 46.8 12 18.7 6.4 8.9 3.6 3.8 4 3.2 36 21.5 32 24.4 22 14.1 13.5 10.9 18.2 16 3.3 4 1.1 4-0.2 2-1.9 4.2-3 3.8-6 6-7 5.7-22 15.6-16.9 16.7-15.2 12-17.9 16.2-4.7 5.8-9.3 14.2-4.4 5.8-25.6 24.6-6.7 7.4-6.5 10-10.6 20-4.9 11.9-5.3 20.3-7.3 33.7-7.2 40-27.9 111.9-7.7 36-1.1 8-0.5 10-56.2 0 0-667.7z"/>
<path fill="#ff8c00" d="M1156 166.2l0.8 10 2.6 10 5 14 8.5 19.3 24 44.5 12 19.4 6.2 8.8 3.8 4.1 6 4.7 34.3 21.2 31.7 23.1 23 14.9 14.2 11.9 10.7 10 4.7 6 1 4-0.3 2-2 4-5.4 6-5.9 4.9-24.4 17.1-15.6 14.9-16 13-17.3 16.1-6.1 8-8.6 14-4.5 6-25.5 25.2-5.9 6.8-6.3 10-10.5 20-5.3 13.1-5.8 24.8-6.2 31.1-6.1 36.9-25.5 105.9-7.8 36-2.4 14-0.6 12-55.5 0 0-667.7z"/>
<path fill="#ff8700" d="M1154.9 166.2l0.8 10 2.5 10 4.8 13.4 9.9 23.9 8 16.3 14 25.5 13.8 22.9 4.2 6 5.8 6 5.3 4 32.9 21.2 30 21 24.7 15.8 19.9 17.9 4.9 6 1.6 4 0.1 2-1.5 4-5.3 6-30.7 22-13.7 12.7-16.2 13.3-16.6 16-7.2 9.8-8.1 14.2-3.9 5.5-24.1 24.5-6.8 8-7.1 11.4-10 19.5-4.4 11-3.6 14.8-8 42.5-5.6 36.7-25 107.9-8 38-1.9 12-0.6 12-54.8 0 0-667.7z"/>
<path fill="#ff8200" d="M1153.8 166.2l0.8 10 3.2 12 5.2 14.6 11.9 29.5 4 8.4 14 25.7 14 24.2 4 5.8 8 7.8 14 10.1 52 34.9 24 15.1 17.1 15.8 4.6 6 1.1 4-0.9 4-3.9 4.8-32 23.1-28 24-16 15.9-8 10.9-6.9 13.3-3.7 6-8.7 10-16.7 17.1-6 7.4-8 13.7-10 20.2-3.5 9.5-2.5 11-7.9 45.7-5.5 37.3-23.8 105.9-7.8 38-2.3 14-0.6 12-54 0 0-667.7z"/>
<path fill="#ff7d00" d="M1152.7 166.2l0.8 10 2.5 10 5 14.5 11.9 31.4 4 9 12 22.4 16 28.6 4 6.2 6 6.3 20 15.6 30 20.8 42.5 27.1 12.6 12 3 4 1.6 4-0.4 4-1.3 2.2-3.8 3.8-25 18-24.1 20-9.1 8.3-15 15.7-5.8 8-7.6 16-3.7 6-8.1 10-15.8 16.7-6 7.6-8 14-10 20.7-3.9 10.9-2.1 10.1-7.9 48-5.2 35.9-8.8 38.6-21.2 101.3-2.8 16-0.8 14-53.2 0 0-667.7z"/>
<path fill="#ff7800" d="M1151.6 166.2l0.8 10 2.5 10 18 50.2 14 27.5 20.2 36.3 5.6 6 22.2 19 28 20.1 42 27.2 6 5.6 3.3 4 2.1 4 0.4 2-1 4-3.1 4-4.7 4-17 12.3-26 21.2-14 14.1-10 11-4 6.4-6.4 15-4.6 8-5.9 8-17.1 18.9-6 8-8 14.5-10 21.4-3.7 11.1-2.3 12-12.7 82-9.2 41.1-20.9 102.8-2.2 14-0.6 12-52.3 0 0-667.7z"/>
<path fill="#ff7300" d="M1150.5 166.2l0.8 10 1.9 8 18 52 7.7 16.4 26.8 49.6 3.2 4 13.8 12 10.2 10.7 26 19.9 29.6 19.3 12.4 9.1 4.7 4.9 2.1 4 0.3 2-1 4-3.1 4-41 32.6-24 25.5-4 6.7-7 17.2-4.4 8-7.3 10-15.3 17.5-6 8.5-8 15.2-10 22.3-2 5.8-2 8.6-7.9 48.6-5.5 37.4-10.5 47.9-19.1 96-2.7 16-0.8 14-51.4 0 0-667.7z"/>
<path fill="#ff6e00" d="M1149.5 166.2l0.7 10 1.8 8 18.9 55.3 6 12.7 27.4 52 4.6 5.5 11.8 10.5 10.2 12.5 26 21.1 24.3 16.3 10.7 8 5.6 6 1.5 4-0.8 4-3 4-34.6 28-23.7 26-4 6.9-6.5 17.1-5.1 10-7 10-15.4 18.4-6 9.1-6 11.7-10.8 24.8-3.2 9.7-2 10.5-12.7 81.7-9.8 44-16.6 83.9-5.3 30-1 16-50.5 0 0-667.7z"/>
<path fill="#ff6900" d="M1148.4 166.2l0.7 10 1.8 8 18.1 54.1 5.9 13.4 28 54.5 4 4.9 11.7 11.1 10.3 14.3 26 22.3 27.2 19.3 6 6 1.8 4-0.6 4-2.7 4-6.4 6-22.4 18-22.9 26-4 7.1-6.9 18.9-3.7 8-6.3 10-15.1 18.9-6 8.8-8 16-10 23.5-2.2 6.8-1.8 7.9-14.1 88-9.8 44.2-14.9 75.7-6.3 36-1.3 18-49.5 0 0-667.7z"/>
<path fill="#ff6300" d="M1147.3 166.2l0.7 10 1.8 8 18.4 56 4.7 10.7 28 56.2 4 5.3 12 12.2 10 15.6 26 23.6 22 16.3 5.2 6 1 4-0.5 2-2.4 4-6.3 6-17 14.1-20 23.4-3.3 4.5-3.8 8-6.2 18-3.5 8-6.1 10-15.1 19.9-6 9.5-6 12.3-11.5 28.3-2.4 7.9-1.5 8-13.6 84-10.7 48-13.6 69.9-6.8 40-1.3 18-48.5 0 0-667.7z"/>
<path fill="#ff5e00" d="M1146.3 166.2l0.7 10 1.7 8 18.1 56 5.2 12 26.9 55.9 4 5.7 11.6 12.4 2.7 4 5.7 10.7 4 5.2 24 22.6 16.9 13.4 3.3 4 1.2 4-0.3 2-2.3 4-3.8 4-13 11.3-20 24.1-3.2 4.6-3.9 8-6.7 20-3.3 8-5.7 10-15.2 21.1-5.3 8.9-6.7 14.4-10.8 27.6-3.4 13.9-14.1 86-10.3 46-13.3 69-7.3 42.9-1.2 18-47.5 0 0-667.7z"/>
<path fill="#ff5900" d="M1145.2 166.2l0.7 10 1.7 8 17.8 56 5 12 26.5 56.8 4 6.1 12 13.9 8.1 15.2 3.9 5.7 14 13.3 10 10.5 11.6 10.4 2.5 4 0.4 2-0.1 2-2.1 4-12.3 12.8-18 22.6-4 6-4.5 10.6-6.5 20-3 7.3-4.8 8.7-13.2 19.2-6.4 10.8-7.1 16-10.5 27.9-2.9 12-14.3 86-10.8 48-12.2 63.9-8.1 48-1.2 18-46.4 0 0-667.7z"/>
<path fill="#ff5400" d="M1144.2 166.2l0.6 10 1.7 8 17.5 56 5 12.4 25.9 57.3 4 6.5 12 14.8 8.6 17 3.4 5.3 14.7 14.6 12.3 14 3.2 4 1.6 4-0.1 2-1.8 4-24.4 32-3.7 6-5 12-6.3 20-3.1 8-4.2 8-13.2 20.2-6 10.7-6 14-11.1 31.1-2.8 11.9-14.2 84-10.8 48-9.4 48-10.8 63.9-1.1 10-0.3 10-45.4 0 0-667.7z"/>
<path fill="#ff4f00" d="M1143.1 166.2l0.7 10 1.6 8 17.2 56 4.4 11.3 19.1 42.7 6.8 16.5 4 7 8.4 10.5 3.6 5.4 9.1 18.6 2.9 4.8 19.5 21.1 4.2 6 2.2 6-1 6-3.1 6-5.5 8-12.2 16-3.2 6-5.5 14-8.3 26-4 8-14.7 24-4.4 8.7-6 15-10.3 30.3-2.3 9.9-5.4 34-9.4 52-10.4 46-8.7 44-11.6 69.9-1.1 10-0.4 10-44.3 0 0-667.7z"/>
<path fill="#ff4a00" d="M1142.1 166.2l0.6 10 1.6 8 16.7 55.4 4.7 12.6 18.4 42 7.1 18 3.7 6.9 10.9 15.1 13.1 26.3 17.4 19.6 3.7 6 1.1 4-0.2 4-2.2 6-5.2 8-10.4 14-4.1 8-6.1 16-5.2 18-2.9 8-4 8-12.8 22-5.6 12-5.5 14.7-9.4 29.3-2.2 9.9-5.4 34-8.9 48.5-11.3 49.5-8.3 42-11.7 71.9-1.1 10-0.3 10-43.3 0 0-667.7z"/>
<path fill="#ff4500" d="M1141 166.2l0.6 10 1.6 8 15.9 54 5.1 14 18.7 44 6.8 18 3.2 6.3 10.7 15.7 13.6 28 3.7 5 9.8 10.9 2.8 4 1.9 4 0.6 4-0.7 4-1.7 4-12.7 18.3-3.8 7.7-6.8 18-5.7 20-3 8-14.7 27.1-6 13.4-14 43.5-2.3 9.9-5.7 36-8.7 46-11.4 50-8.4 42-11.5 71.9-1.4 12-0.3 10-42.2 0 0-667.7z"/>
<path fill="#ff4000" d="M1140 166.2l0.6 10 1.5 8 15.6 54 5.3 14.7 18.7 45.3 6.4 18 3 6 10.2 16 14.3 29.9 3.3 4.9 7.8 9.1 2.6 4 1.5 6-0.6 4-1.7 4-9.3 14-3.1 6-9.2 23.9-4.9 18.1-2.7 8-14.4 28.1-4 9.1-6 17.5-9.2 31.3-2.1 9.9-5.7 36-7.7 40-12.7 56-8.4 42-11.3 71.9-1.3 12-0.3 10-41.2 0 0-667.7z"/>
<path fill="#ff3b00" d="M1138.9 166.2l0.6 10 1.5 8 14.7 52 5.5 16 18.4 46 6.1 18 3.2 7 11.2 19 14 29.9 9.8 14 1.8 6-1.2 6-9.6 16.3-7.8 19.7-3.5 10-4.7 18-2.8 8-11.7 24-5.1 12-5.2 16-9.1 32.3-2.5 11.6-5.6 36-6.7 34-14.1 62-8 40-11.4 73.9-1.3 12-0.3 10-40.1 0 0-667.7z"/>
<path fill="#ff3600" d="M1137.9 166.2l0.5 10 2 10 11.6 42 7 22 18.6 48 8.2 24 11 20 15.7 33.9 6.1 10 2 6-1.2 6-7.1 14-10.1 26-8.4 30-10.9 23.5-5 12.5-5.5 18-8.5 32-10 57.9-7.4 36-11.7 50-8 40-11.2 73.9-1.2 12-0.3 10-39.1 0 0-667.7z"/>
<path fill="#ff3000" d="M1136.8 166.2l0.6 10 1.9 10 11.4 42 6.8 22 18.1 48 7.6 24 14.1 28 16.5 35.9 1.7 6-0.9 6-5.9 14-10.6 28-6.7 26-11.2 26-4.4 12-12.8 48.9-9.7 57-7.1 34-12.3 52-8.1 40-11.3 75.9-1.2 12-0.3 10-38 0 0-667.7z"/>
<path fill="#ff2b00" d="M1135.8 166.2l0.5 10 1.9 10 10.8 40.6 6.4 21.4 18.2 50 8 26 25 53.9 3.2 8 1.2 6-0.2 4-1.1 4-14.9 40-6.6 26-9.3 22.8-4.6 13.2-12.3 50-9 54.7-7.1 33.2-13.4 56-8 40-11.1 75.9-1.2 12-0.2 10-37 0 0-667.7z"/>
<path fill="#ff2600" d="M1134.7 166.2l0.6 10 1.8 10 10.4 40 6.5 22 17.7 50 8.2 28 23.3 51.9 2.9 8 1 6-0.2 4-1.6 6-13.8 38-5.7 24-12.9 35.4-11.2 48.6-2.4 12-7.2 45.9-6.9 32-13.6 56-8.4 42-10.8 75.9-1.2 12-0.3 10-35.9 0 0-667.7z"/>
<path fill="#ff2100" d="M1133.6 166.2l0.6 10 1.8 10 10.2 40 5.7 20 18.5 54 7.7 28 20.8 47.9 3.4 10 0.9 6-0.2 4-1.4 6-12.7 35.5-5.6 24.5-11 32-5.7 24-7.7 38-5.3 35.9-2.5 14-6.6 30-13.8 56-8.5 42-10.9 77.9-1.2 12-0.2 10-34.9 0 0-667.7z"/>
<path fill="#ff1c00" d="M1132.6 166.2l0.5 10 1.8 10 14.5 56 19 58 7.9 30 5.3 14 13.7 31.9 2.5 8 1.1 8-0.4 6-1.3 6-11.1 32-5.9 26-7.8 24-3.8 14-10.4 54-7.8 49.9-6.1 28-9.8 38-8.2 36-5.8 30-4.9 33.9-5.9 46-0.9 18-33.8 0 0-667.7z"/>
<path fill="#ff1700" d="M1131.5 166.2l0.6 10 1.3 8 12.9 52 20.2 64 8.4 33.4 4.4 12.6 11.5 27.9 2.3 8 1.1 8-0.2 8-1.4 8-9.8 30-5.1 24-6.8 22.6-3.9 15.4-9.6 54-7.6 49.9-6.8 30.6-13.6 53.4-8.4 40-3.4 20-7.8 59.9-1.7 16-0.4 12-32.7 0 0-667.7z"/>
<path fill="#ff1200" d="M1130.4 166.2l0.4 8 1.4 10 11.7 48 6.3 22 14.4 46 6.5 28 3.3 12 12.5 33.9 1.6 8 0.8 8-0.2 10-1.6 10-8 26-4.4 22-7 26-3.1 14.2-8.5 51.8-7.7 51.9-6.9 30-8.6 32-4.8 20-9.6 46-3.1 20-7.6 59.9-1.2 12-0.4 12-31.6 0 0-667.7z"/>
<path fill="#ff0d00" d="M1129.3 166.2l0.3 8 1.1 8 9.8 42 6.5 24 15.7 52 10.2 44.2 8.7 25.7 1.6 8 1.2 12-0.3 12-1.3 10-6.6 24-3.7 20-6.7 28-2.8 14-14.9 101.9-7.1 31.2-8.6 30.8-4.3 18-11 52-10.3 79.9-1.3 22-30.5 0 0-667.7z"/>
<path fill="#ff0800" d="M1128.1 166.2l0.3 8 1.5 10 9.8 42 5.9 22 14.8 50 10.5 49 5.9 20.9 1.6 10 1 12-0.2 12-1.3 12-4.5 20-3.4 20-8.2 40-14.4 103.9-6.4 28.4-13.4 49.6-5.9 26-6.3 32-9.6 75.9-1.1 12-0.4 12-29.3 0 0-667.7z"/>
<path fill="#ff0300" d="M1126.8 166.2l0.4 8 1 8 10.2 44 19.3 68 3 12 11.5 59.9 2.4 24-0.3 14-1.6 16-4.7 30-8.1 44-12.5 97.9-2.4 12.4-5.7 23.6-9.1 32-4 16-5.5 24-6 30-2.7 18-7.7 63.9-1.3 22-28 0 0-667.7z"/>
<path fill="#fd0000" d="M1125.4 166.2l0.5 10 1.3 8 8.8 38 5.2 20 15.1 52 3.3 14 8.4 50 2.1 17.9 1.1 16-0.9 20-2.6 24-9.2 56-7.7 66-4.3 31.9-2.2 12-5.3 22.3-13.3 47.7-6 26-6 30-3.1 20-7 57.9-1.6 16-0.4 12-26.6 0 0-667.7z"/>
<path fill="#f90000" d="M1124.1 166.2l0.4 8 1.5 10 9.9 42 18.2 64 4 16 7.4 44 2.4 21.9 1.5 20-0.9 20-2.5 26-9 56-7.4 66-4 29.9-2.6 13.6-4 16.5-14.5 51.9-5.9 26-6.4 32-2.5 16-8 65.9-1.4 22-25.3 0 0-667.7z"/>
<path fill="#f50000" d="M1122.7 166.2l0.4 8 1.2 8 9.5 40 4.7 18 15.2 52 3.8 16 6.5 40 4 43.9-0.5 14-3.1 34-8.3 52-7.1 65.6-4.1 30.3-2.2 12-5.7 23.7-13.2 46.3-5.9 26-6.5 32-2.8 18-8.5 67.9-1.3 20-23.8 0 0-667.7z"/>
<path fill="#f10000" d="M1121.2 166.2l0.4 8 1.3 8 9.2 38 5.3 20 14.8 50 3.9 16 6.5 40 3.2 31.9 0.9 14-0.4 14-2.8 32-8.5 54-6.1 58-5.4 39.9-2.5 13.3-4 16-13.9 48.7-6.4 28-6.5 32-2.3 14-9.9 75.9-0.9 16-22.1 0 0-667.7z"/>
<path fill="#ed0000" d="M1119.6 166.2l0.5 8 1.3 8 10.5 42 19.9 68 3 12 7 44 3.8 43.9-0.5 14-2.9 34-8.3 52-5.8 56-5.6 41.9-2.3 12-5.2 20.5-12.7 43.5-12.5 58-2.5 14-8.3 61-3.4 20.9-0.9 14-11.6 0-0.3-4-1.8-5.5-2-1.6-4-0.5 0-656.1z"/>
<path fill="#e90000" d="M1118 166.2l0.7 10 3.1 14 11 42 16.9 56 4.2 16 6.6 42 4 45.9-0.4 14-2.7 32-8.4 53.5-6 57.6-5.9 42.8-6.7 28-12.3 42-6 26-9.4 46-9.7 65.6-2 9.6-2 6.3-2 2.2-2-2.7-6-13.5-2-2.1-2-0.9-4-0.4 0-631.9z"/>
<path fill="#e50000" d="M1116.3 166.2l0.8 10 2.6 12 11.9 44 17.8 58 3.6 14 6.7 44 3.8 43.9-0.5 14-2.9 34-8 50-5.8 56-6.3 45.9-5 21.6-13.1 44.4-3.9 16-11.9 56-9.1 57.3-2 8.2-2 4.3-2-0.4-0.8-1.5-7.2-17.9-2-2.3-2-1-4-0.4 0-610.1z"/>
<path fill="#e10000" d="M1114.6 166.2l0.8 10 2.8 12 12.2 44 17.6 56 3.7 14 6.8 44 4 45.9-0.5 14-2.7 32-8.2 52-5.5 54-6.7 47.9-5.9 24.6-14.9 51.4-12.5 58-8.6 48.9-2 6.4-2 2.1-2-2.5-6-18.1-2-4.4-2-2.5-2-1-4-0.4 0-588.3z"/>
<path fill="#dd0000" d="M1112.9 166.2l0.9 10 2.2 10 12.6 44 17.9 56 4.4 16 6.6 44 3.9 43.9-0.3 14-2.7 34-8.3 52-5.3 52-7.1 49.9-4.7 20.2-15.2 51.8-13.7 62-5.1 27.7-2 8.1-2 4.5-2-0.2-2-4.3-5-17.8-1.7-8-0.9-8-2.4-42.6-2-20.1-2-7-2-1.6 0-490.5z"/>
<path fill="#d90000" d="M1111.2 166.2l0.9 10 2.4 10 12.9 44 18.2 56 4.5 16 6.4 44 4 45.9-0.5 14-2.9 34-8 50-5.3 52-7.2 49.9-5.6 23.1-14.6 48.9-17.4 77.5-2 6.6-2 2.2-2-2.3-2.3-8-1.3-8-1-12-4.6-112-1.6-63.9-1.7-243.9 1.8-134z"/>
<path fill="#d50000" d="M1109.5 166.2l0.9 10 2.5 10 13.9 46 18.5 56 3.9 14 6.4 44 3.9 45.9-0.5 14-2.8 34-8.2 50-5 50-7.5 51.9-4.5 18.8-15 49.2-15 61.7-2 6.4-2 3.9-2-1-1.6-7-2.5-26-4.7-96-1.5-61.9 0-48-2.2-193.9 2.6-132z"/>
<path fill="#d10000" d="M1087 166.2l20.8 0 0.6 8 2.2 10 15 48 18.8 56 4 14 6.2 44 3.9 45.9-0.5 14-2.8 34-8.2 50-5 50-7.6 51.9-5.4 21.3-14.7 46.7-9.3 35.6-4 11-2 2.3-2-2.2-2-8.7-2-19.4-4.9-76.6-1.6-57.9-0.2-52-2.6-191.9z"/>
<path fill="#cd0000" d="M1089 166.2l16.9 0 1 10 2.6 10 14.8 46 20.7 60.4 3 11.6 2.3 16 3.9 32 3.3 37.9-0.4 14-2.9 36-8.2 50-5 50-8 53.1-6 22.3-20 59.8-2 4.3-2 2.4-2 0.4-2-2-2-6.2-2-13.3-2-19.5-3.4-43.4-1.7-53.9-0.2-52-1.3-56-1.7-135.9 1.8-76z"/>
<path fill="#c90000" d="M1091 166.2l12.6 0 0.7 8 1.8 8 38.9 113.2 2.8 12.8 4.1 32 4.6 49.9-0.4 14-2.9 36-8.2 50-5 50-8.1 51.9-2.9 12.3-4 12.6-10 26.1-4 8-2 2.7-2 1.5-2 0.5-2-0.1-2-0.8-2-2.6-2-6.5-2-12-2-15.7-1.8-20-2-53.9-0.2-52-1.5-54-2-137.9 2.3-80z"/>
<path fill="#c50000" d="M1098.5 166.2l1.6 8 12.9 32.6 24 67.4 8 24.2 2.3 11.8 3.9 32 4.3 47.9-0.4 14-2.9 36-7.9 48-5.3 52-8 50.4-4 15.2-4 11.1-4 8.8-4 5.8-2 1.4-4 0.8-6-0.2-2-0.7-2-2.3-2-5.2-2-9.4-2.4-21.8-2.3-53.9 0-48-2-58-2-139.9 1.5-50 2.6-44 2.6-19.8 2.7-14.2z"/>
<path fill="#c10000" d="M1097 190.6l2-0.2 2 0.6 2 1.6 2 2.6 4 7.5 22 57.7 12.5 35.8 2 8 1.7 12 4.1 36 3.1 35.9-0.3 16-2.9 36-8 48-4.7 48-7.5 46.5-4 17.2-4 10.2-4 6.2-2 1.4-4 0.7-8 0-4-0.7-2-2.1-2-5.1-2-11.2-0.7-7.2-2.7-49.9-0.1-50-2.2-56-2.4-139.9 1.7-48 2.4-36.6 2-13.7 2-5.6z"/>
<path fill="#bd0000" d="M1097 205.7l4-0.5 4 1.1 2 1.7 4 6.3 18 43.9 13.6 38 2 8 1.5 10 4 36 3.2 35.9 0 16-2.8 36-8.6 52-4 42-2.9 19.8-6 31.7-2 8.2-2 5.6-2 3.7-2 2.2-4 1.4-14-0.1-2-0.7-2-2.6-2-7.2-0.7-6.1-3.3-43.6-0.3-52.3-2.6-58-2.5-135.9 1.4-39.7 2-28.8 2-15.6 2-6.3z"/>
<path fill="#b90000" d="M1101 220.1l6 0.4 2 0.9 2 1.9 4 6.4 12 26.8 14.7 39.7 2 8 1.5 10 7.2 71.9-0.1 16-2.8 36-8.9 54-3.6 38.1-2 14.1-4 19.6-4 15-2 4.8-2 2.5-4 1.1-14-0.1-2-0.2-2-1.4-2-4.6-2-11.2-2.8-29.7-0.3-48-2.9-58-2.7-137.9 2.2-44 2.5-22.2 2-6.9 2-2.3z"/>
<path fill="#b50000" d="M1097 235l4-0.7 8 0.1 4 1.3 2 1.9 4 6 6 12.1 12 29.8 4.4 12.7 2.2 10 7.5 73.9 0.3 18-2.6 36-1.8 13.1-7.3 40.9-4.7 45.6-2 10.8-4 13.4-2 3.5-2 1.5-2 0.4-18 0.1-2-0.3-2-1.1-2-3.5-2-8.4-1.3-12-0.5-12-0.1-36-3.3-62-2.9-127.9 1-26 1.7-22 1.4-10.5 2-6.5z"/>
<path fill="#b10000" d="M1097 247.3l4-0.7 10 0 4 0.6 2 1.1 2 2 4 6 8 17.2 8 20.4 3.3 12.3 7.1 67.9 1.1 14 0 10-3.4 44-8.9 50-3.2 31.7-2 13.4-2 7.4-2 4.2-2 1.9-2 0.6-20 0.1-2-0.2-2-1.2-2-3.8-1.9-12.1-0.6-42-2.7-36-1.2-26-3-125.9 1.4-30.5 2-17.3 2-6.9z"/>
<path fill="#ad0000" d="M1097 259.1l4-0.8 12 0 6 0.9 4 3.5 4 6.4 10 22.6 3.9 12.5 1.8 12 3.4 34 2.9 29.9 0.6 12-0.6 14-2.4 32-2.2 14-7.9 42-3.5 29-1.9 9-2.1 4.6-2 1.3-2 0.4-18 0-4-0.6-2-2.1-1.9-9.6-1.1-34-3-33.7-1.4-24.3-3.2-125.9 0.6-20.1 2-19 2-7.6z"/>
<path fill="#a90000" d="M1099 270.2l20-0.1 4 1.1 2 1.5 2 2.4 4 6.8 6 13.4 2.8 8.9 1.9 12 6.8 71.9-0.1 12-2.3 32-3.1 22.4-12 55.8-2 3.9-2 1.3-2 0.2-18 0-2-0.5-2-2.6-2-11.4-4-32.8-2-24.7-1.2-29.6-2.5-109.9 1.7-22.5 2-8.2 2-2.7z"/>
<path fill="#a50000" d="M1099 281.9l22-0.1 4 0.4 2 1 4 4.4 4 7.3 4 11.2 1 6.1 7.2 69.9 0.4 10-0.5 12-2.4 32-3.7 22.6-4 17.1-2 6.2-2 4.4-2 2.5-2 0.9-20 0.2-4-0.7-2-2.1-2-5.1-2-9.6-2.4-20.4-1.6-28-1.2-36-1.5-77.9 0.7-15.3 1.8-8.7 2.2-3.6z"/>
<path fill="#a10000" d="M1099 293.8l26 0 4 0.6 2 1.2 2 2.1 2 3.2 2 4.8 2 9.5 7 64.9 0.5 10-0.3 12-2.6 34-2.6 16.5-4 15.9-2 5.2-2 3-2 1.3-2 0.3-20 0.1-4-0.6-2-1.8-2-4.7-2-9.8-2.1-19.4-1.9-39.8-1.3-82.1 0.2-12 1.1-9.9 2-3.7z"/>
<path fill="#9d0000" d="M1131 308.1l2 0.8 2 2.4 2 6.2 4 27.4 3.5 31.2 0.9 12 0 10-2.4 33.4-2 14.4-4 15-2 4.3-2 2.2-2 0.8-22 0.2-4-0.6-2-1.9-2-5-1-4.8-2.2-18-1.9-36-0.8-30 0-35.9 0.3-14 1.2-10 0.4-1.7 2-2.2z"/>
<path fill="#990000" d="M1101 327.8l30-0.2 2 0.4 2 1.8 2 5.2 4 21.8 2 15.5 1.2 13.8 0.1 10-1.3 20.4-2.2 21.6-1.8 9-2 5.9-2 3.4-2 1.5-4 0.6-22-0.1-2-0.6-2-2-2-5.4-2-13-1.9-29.3-0.9-36 0.8-31.8 2-10.7z"/>
<path fill="#950000" d="M1101 347.7l2-0.9 2-0.2 26 0 2 0.3 2 1 2 3.1 2 6.6 2 10.8 2 16.6 0 13.1-2 24.5-2 14.9-2 6.6-2 2.9-2 1-26 0.2-2-0.6-2.4-3.5-1.6-5.8-2-19.6-1.6-30.6 0.7-27.9 0.9-8z"/>
<path fill="#910000" d="M1105 361.9l28 0.1 2 0.6 2 2.3 2 5.4 2 10.4 0.7 9.4-0.2 8-2.5 22.6-2 9.4-2 3.8-2 1.1-26 0-2-1-2-3.9-2-10.8-2-21.2-0.2-18 0.6-8 1.6-7.7 2-2.1z"/>
<path fill="#8d0000" d="M1103 378l2-1.2 2-0.3 24 0 4 0.6 2 1.8 2 5.9 0.3 11.3-0.3 4.1-2 8.2-2 3.1-4 1-20 0-4-0.2-2-0.9-2-3.6-2-11.7 0-11.4z"/>
</g></g>
<rect x="1170.76" y="497.9" width="182.82" height="3.4" fill="url(#rg)" fill-opacity="0.5" filter="url(#b1)"/>
<rect class="ax" x="1078.3" y="172.2" width="630.4" height="654.8"/>
<path class="tc" d="M1183.37 827v-6.6M1183.37 172.2v6.6M1288.43 827v-6.6M1288.43 172.2v6.6M1393.5 827v-6.6M1393.5 172.2v6.6M1498.57 827v-6.6M1498.57 172.2v6.6M1603.63 827v-6.6M1603.63 172.2v6.6M1078.3 237.68h6.6M1708.7 237.68h-6.6M1078.3 303.16h6.6M1708.7 303.16h-6.6M1078.3 368.64h6.6M1708.7 368.64h-6.6M1078.3 434.12h6.6M1708.7 434.12h-6.6M1078.3 499.6h6.6M1708.7 499.6h-6.6M1078.3 565.08h6.6M1708.7 565.08h-6.6M1078.3 630.56h6.6M1708.7 630.56h-6.6M1078.3 696.04h6.6M1708.7 696.04h-6.6M1078.3 761.52h6.6M1708.7 761.52h-6.6"/>
<text class="d tk" text-anchor="middle" transform="translate(1078.6 857.9) scale(1 1.05)">0</text>
<text class="d tk" text-anchor="middle" transform="translate(1183.67 857.9) scale(1 1.05)">100</text>
<text class="d tk" text-anchor="middle" transform="translate(1288.73 857.9) scale(1 1.05)">200</text>
<text class="d tk" text-anchor="middle" transform="translate(1393.8 857.9) scale(1 1.05)">300</text>
<text class="d tk" text-anchor="middle" transform="translate(1498.87 857.9) scale(1 1.05)">400</text>
<text class="d tk" text-anchor="middle" transform="translate(1603.93 857.9) scale(1 1.05)">500</text>
<text class="d tk" text-anchor="middle" transform="translate(1709 857.9) scale(1 1.05)">600</text>
<text class="d tk" text-anchor="end" transform="translate(1068.4 180.7) scale(1 1.05)">1</text>
<text class="d tk" text-anchor="end" transform="translate(1068.4 246.18) scale(1 1.05)">0.8</text>
<text class="d tk" text-anchor="end" transform="translate(1068.4 311.66) scale(1 1.05)">0.6</text>
<text class="d tk" text-anchor="end" transform="translate(1068.4 377.14) scale(1 1.05)">0.4</text>
<text class="d tk" text-anchor="end" transform="translate(1068.4 442.62) scale(1 1.05)">0.2</text>
<text class="d tk" text-anchor="end" transform="translate(1068.4 508.1) scale(1 1.05)">0</text>
<text class="d tk" text-anchor="end" transform="translate(1068.4 573.58) scale(1 1.05)"><tspan class="mn" dy="-1.7">−</tspan><tspan dy="1.7">0.2</tspan></text>
<text class="d tk" text-anchor="end" transform="translate(1068.4 639.06) scale(1 1.05)"><tspan class="mn" dy="-1.7">−</tspan><tspan dy="1.7">0.4</tspan></text>
<text class="d tk" text-anchor="end" transform="translate(1068.4 704.54) scale(1 1.05)"><tspan class="mn" dy="-1.7">−</tspan><tspan dy="1.7">0.6</tspan></text>
<text class="d tk" text-anchor="end" transform="translate(1068.4 770.02) scale(1 1.05)"><tspan class="mn" dy="-1.7">−</tspan><tspan dy="1.7">0.8</tspan></text>
<text class="d tk" text-anchor="end" transform="translate(1068.4 835.5) scale(1 1.05)"><tspan class="mn" dy="-1.7">−</tspan><tspan dy="1.7">1</tspan></text>
<text class="d lb" text-anchor="middle" transform="translate(1392.9 898.8) scale(1 1.1)">E [keV]</text>
<text class="d lb" transform="translate(990.5 538.4) rotate(-90) scale(1 1.1)">v<tspan class="sb" dx="1.2 1.7" dy="14.2">||</tspan><tspan dx="4.5 3.6" dy="-14.2">/v</tspan></text>
<text class="d ti" text-anchor="middle" transform="translate(1394.1 161.8) scale(0.97 1.1)">n(H)=0.1%</text>
<text class="t" transform="translate(1078.6 148.1) scale(1 0.98)" font-size="70">(b)</text>
<rect x="1749.5" y="170.9" width="46.4" height="657.1" fill="url(#jet)"/>
<rect x="1749.9" y="171.3" width="45.6" height="656.3" fill="none" stroke="#000" stroke-opacity=".32" stroke-width="1.3"/>
<path d="M1795.9 253.04h-7.6M1795.9 335.17h-7.6M1795.9 417.31h-7.6M1795.9 499.45h-7.6M1795.9 581.59h-7.6M1795.9 663.73h-7.6M1795.9 745.86h-7.6" fill="none" stroke="#000" stroke-opacity=".5" stroke-width="1.6"/>
<text class="d cb" transform="translate(1804.3 181.3) scale(1 1.07)">10<tspan class="ex" dx="1.2" dy="-8">16</tspan></text>
<text class="d cb" transform="translate(1804.3 263.44) scale(1 1.07)">10<tspan class="ex" dx="1.2" dy="-8">15</tspan></text>
<text class="d cb" transform="translate(1804.3 345.57) scale(1 1.07)">10<tspan class="ex" dx="1.2" dy="-8">14</tspan></text>
<text class="d cb" transform="translate(1804.3 427.71) scale(1 1.07)">10<tspan class="ex" dx="1.2" dy="-8">13</tspan></text>
<text class="d cb" transform="translate(1804.3 509.85) scale(1 1.07)">10<tspan class="ex" dx="1.2" dy="-8">12</tspan></text>
<text class="d cb" transform="translate(1804.3 591.99) scale(1 1.07)">10<tspan class="ex" dx="1.2" dy="-8">11</tspan></text>
<text class="d cb" transform="translate(1804.3 674.12) scale(1 1.07)">10<tspan class="ex" dx="1.2" dy="-8">10</tspan></text>
<text class="d cb" transform="translate(1804.3 756.26) scale(1 1.07)">10<tspan class="ex" dx="1.2" dy="-8">9</tspan></text>
<text class="d cb" transform="translate(1804.3 838.4) scale(1 1.07)">10<tspan class="ex" dx="1.2" dy="-8">8</tspan></text>
<text class="d cu" transform="translate(1701.6 146.2) scale(1 1.1)" dx="0 -0.3 4.6 2.8 -1.1">[1/(m<tspan class="su" dx="3" dy="-8.2">3</tspan><tspan dx="3.6 3 0 1 3.6 -0.8" dy="8.2">·keV)]</tspan></text>
<ellipse cx="1078.3" cy="603" rx="1.2" ry="11.5" fill="#333" fill-opacity=".5"/>
<ellipse cx="1708.7" cy="603" rx="1.2" ry="11.5" fill="#333" fill-opacity=".5"/>
<ellipse cx="1749.9" cy="603" rx="1.2" ry="11.5" fill="#333" fill-opacity=".5"/>
<ellipse cx="1795.5" cy="603" rx="1.2" ry="11.5" fill="#333" fill-opacity=".5"/>
</g>
<g id="panel-c">
<clipPath id="cc"><path clip-rule="evenodd" d="M120 1016.2l80 0 12.4 5 12.5-5 10 0-10 5 12.5 7.5 15 7.5 11.3 0 1.2 43.8 12.5 6.2 0 15 12.5 6.2 1.3 6.3 26.2 12.5 12.5-5 25 0 25-11.3 15-2.5 1.2 13.8 26.2 0 0 30-12.5-5-1.2-16.3-13.7-2.5-11.3 7.5 0 6.3 31.2 16.2 7.5-2.5 5 10 27.5 12.5 15 2.5 42.5 5 15-5 13.7 0 0 20 13.8 7.5 0 7.5 11.2 3.7-11.2 3.8 0 47.5-13.8 7.5 0 25-13.7 7.4 0 27.5-12.5 5 0-27.5-12.5-6.2-27.5 13.7 0 30-12.5 5-12.5 2.5-1.2 7.5-11.3 7.5-15 2.5-26.2 12.5 0 5-26.2 12.5-1.3 6.2-26.2 6.3-25 7.5 0 20-26.2 7.5 0 11.2-12.5 7.5-1.3 18.8-26.2 7.5 0 19.9-12.5 6.3-1.3 27.5-12.5 6.2 0 85 12.5 6.2-12.5 6.3-7.5-2.5-5-3.8-12.4 0-8.8 3.8-5 8.7-66.2 0z"/></clipPath>
<g clip-path="url(#cc)"><g filter="url(#bl)">
<rect x="110" y="1006.2" width="519.7" height="667.7" fill="#0028ff"/>
<path fill="#0038ff" d="M629.7 1006.2l0 667.7-519.7 0 0-667.7z"/>
<path fill="#0048ff" d="M629.7 1006.2l0 667.7-519.7 0 0-667.7zM351.5 1418l2.4 1.1 2 0.1 3.2-1.2-3.2-0.3z"/>
<path fill="#0058ff" d="M629.7 1006.2l0 667.7-519.7 0 0-667.7zM350 1418l3.8 2 2.1 0.1 2-0.4 2.8-1.7-4.8-0.7z"/>
<path fill="#0068ff" d="M629.7 1006.2l0 667.7-519.7 0 0-667.7zM348.9 1418l2.4 2 4.6 0.4 3.5-0.4 2.6-2-6.1-1z"/>
<path fill="#0078ff" d="M629.7 1006.2l0 667.7-519.7 0 0-667.7zM347.8 1418l1.8 2 6.3 0.7 5.2-0.7 2-2-3.2-0.9-4-0.4-4 0.2z"/>
<path fill="#0087ff" d="M629.7 1006.2l0 667.7-519.7 0 0-667.7zM521.4 1326.1l0.4 0.4 0-0.7zM346.8 1418l1.5 2 7.6 0.9 6.6-0.9 1.7-2-4.3-1.3-4-0.4-4 0.3zM273.8 1490l-0.3 2 2.4 0.4 1.3-0.4-0.4-2z"/>
<path fill="#0097ff" d="M629.7 1006.2l0 667.7-519.7 0 0-667.7zM519.3 1324.1l-0.2 4 0.7 1.6 2 0.4 1.2-2 0.3-2-0.5-2-1-1.5-2 0.5zM354.1 1416l-4.2 0.6-4.1 1.4 1.3 2 0.8 0.3 8 0.9 7.9-1.2 1.5-2-5.4-1.7zM273 1490l-0.3 2 1.2 0.6 2 0.2 2.3-0.8-0.3-2.1-2-0.5z"/>
<path fill="#00a7ff" d="M629.7 1006.2l0 667.7-519.7 0 0-667.7zM518.1 1324.1l-0.2 4 1.9 3.4 2 0.3 2-2.4 0.5-3.3-0.2-2-2.3-3.2-2 0.4zM351 1416l-6.1 2 1.1 2 1.9 0.7 8 0.8 8-1 1.2-0.5 1.3-2-6.5-2.1zM272.2 1490l-0.3 2 2 1 2 0.2 3-1.2-0.1-2-0.9-0.5-2-0.4z"/>
<path fill="#00b7ff" d="M629.7 1006.2l0 667.7-519.7 0 0-667.7zM354.8 1146.2l1.1 1.2 2-1.2-2-1.8zM519.5 1320.1l-1.6 2-0.7 2-0.1 4 1.7 4 1 1 2 0.2 2-1.7 0.7-1.5 0.5-2 0-4-1.2-3-1.1-1-0.9-0.6zM349.1 1416l-5.1 2 0.9 2 7 1.7 8-0.1 6.4-1.6 1.2-2-3.6-1.6-4-0.8-6-0.1zM286 1468l1.9 1.9 2.2-1.9-2.2-0.4zM271.6 1490l-0.3 2 2.6 1.4 4-0.3 1.8-1.1-0.2-2-1.6-0.9-4-0.2z"/>
<path fill="#00c7ff" d="M629.7 1006.2l0 667.7-519.7 0 0-667.7zM354.8 1144.2l-1 2 1.7 2 2.4-0.7 0.7-1.3-0.7-2-2-0.6zM518 1320.1l-1.6 4 0.2 6 1.2 2.7 1.4 1.3 2.6 0.6 2-1.4 1.7-3.2 0.3-6.2-1.5-3.8-2.5-1.9-2 0.3zM451.6 1364.1l0 2 4.2 0.7 4.6-0.7 0.7-2-5.3-1zM347.5 1416l-4.5 2 0.8 2 4.1 1.4 4 0.6 6 0 6-0.7 3.7-1.3 1.1-2-4.2-2-4.6-0.7-6-0.1zM285.2 1468l0.7 2 2 0.5 2.4-0.5 0.8-2-3.2-0.9zM271.1 1490l-0.3 2 3.1 1.8 4-0.2 2.5-1.6-0.1-2-2.4-1.3-4-0.1z"/>
<path fill="#00d7ff" d="M629.7 1006.2l0 667.7-519.7 0 0-667.7zM353.7 1144.2l-0.5 2 1.1 2 1.6 0.7 2.3-0.7 1-2-0.6-2-0.7-0.8-2-0.5zM516.9 1320.1l-1.4 4 0.2 6 2.1 4.5 2 1.4 2 0.1 2-1.1 1.9-2.9 1.1-4-0.1-4-1.3-4-1.6-2.2-2-1-2 0.2zM451.7 1362.1l-3.9 2-0.2 2 4.2 2.1 4 0.3 4.6-0.4 4.4-2 0.5-2-2.9-2-2.6-0.6-4 0zM346 1416l-4 2 0.7 2 3.2 1.3 6 1.1 6 0.1 8-1.2 3.2-1.3 0.9-2-3.7-2-6.4-1.1-8 0.1zM284.4 1468l0.6 2 2.9 0.9 3.6-0.9 0.6-2-2.2-1.2-2-0.2zM275.9 1488l-4 1-1.4 1-0.3 2 1.7 1.5 4 1 2.2-0.5 3.1-2-0.1-2-1.2-0.9zM231.3 1556l2.6 0.8 2-0.8-2-0.7z"/>
<path fill="#00e7ff" d="M629.7 1006.2l0 667.7-519.7 0 0-667.7zM353.1 1144.2l-0.4 2 1.2 2.4 2 0.9 2-0.4 1.1-0.9 0.9-2-0.5-2-1.5-1.5-2-0.4-2 0.9zM519.4 1316.1l-1.6 1.1-2 3.1-1.2 3.8-0.2 4 0.8 4 2.3 4 2.3 1.5 2 0.1 2.6-1.6 2.4-4 0.9-4-0.1-4-1-4-2.8-3.7-2-0.8zM447.7 1362.1l-2.8 2-0.4 2 3.3 2.5 6 1.2 6-0.2 5.7-1.5 2.8-2 0.5-2-3-2.6-6-1.3-6 0.2zM344.6 1416l-3.6 2 0.5 2 4.4 1.8 6 1 8 0 6-1 4.8-1.8 0.8-2-3.6-2.1-8-1.3-8 0.1zM283.7 1468l0.4 2 3.8 1.4 4-0.9 0.7-0.5 0.5-2-3.2-1.7-2-0.2-2 0.5zM273.4 1488l-3.4 2-0.3 2 2.2 2 2 0.8 4-0.1 2-0.9 2-1.8-0.1-2-1.9-1.5-4-0.9zM230.5 1556l1.4 1.1 2 0.4 3-1.5-3-1.3-2 0.3z"/>
<path fill="#00f7ff" d="M629.7 1006.2l0 667.7-519.7 0 0-667.7zM354.4 1142.2l-2 2-0.3 2 0.7 2 1.1 1.1 2 0.7 2-0.3 2-1.8 0.6-1.7-0.4-2-2.2-2.3-2-0.3zM558.4 1216.1l-0.1 2 1.5 1.1 2 0 1.6-1.1 0-2-1.6-1-2 0zM517.3 1316.1l-1.5 2-1.7 4-0.7 4 0.2 4 1.1 4 2.8 4 2.3 1.3 2 0.1 2.6-1.4 2.9-4 1.5-6-0.4-6-1.5-4-3.1-3.3-2-0.7-2 0.3zM449.8 1360.1l-5.3 2-2.3 2-0.4 2 1.4 2 2.6 1.4 4 1.2 8 0.5 8-1.4 4-1.7 2.1-2 0.4-2-1.2-2-5.3-2.6-8-0.7zM343.2 1416l-3.3 2 0.4 2 5.6 2.4 6 0.9 8 0 6-0.8 6.7-2.5 0.7-2-3.4-2.1-8-1.5-12 0.2zM286.1 1466l-3 2 0.8 2.5 2 1 4 0.3 2-0.5 1.8-1.3 0.4-2-2.2-1.6-2-0.7zM272.3 1488l-2.9 2-0.3 2 2.8 2.6 2 0.7 4-0.1 3-1.2 2.1-2-0.1-2-3-2.2-4-0.6zM229.8 1556l2.1 1.8 2 0.3 2-0.3 2.1-1.8-2.1-1.3-2-0.5-2 0.3z"/>
<path fill="#08fff7" d="M629.7 1006.2l0 667.7-519.7 0 0-667.7zM353.2 1142.2l-1.4 2-0.3 2 0.7 2 1.7 1.7 2 0.7 2-0.3 2-1.4 1.2-2.7-0.3-2-0.9-1.5-2-1.5-2-0.3zM558.8 1214.1l-1.9 2 0 2 2 2 2.9 0.6 1.7-0.6 2-2 0-2-1.7-1.9-2-0.7zM517.5 1314.1l-3.1 4-1.6 4-0.7 4 0.3 6 1.4 4 2 3.2 2 1.7 2 0.8 2 0 2-0.6 2-1.7 2.3-3.4 1.8-6 0.2-6-1.5-6-2.8-3.8-2-1.4-2-0.4-2 0.2zM447.8 1359.3l-6.2 2.8-2 2-0.6 2 0.9 2 2.4 2 3.5 1.5 6 1.1 6 0.2 8-1.1 4-1.2 4.9-2.5 1.7-2 0.4-2-0.9-2-2.2-2-3.9-1.9-4-0.9-4-0.2zM345.9 1414.8l-4.1 1.2-3.1 2 0.3 2 4.9 2.5 4 0.9 14 0.3 6-0.7 4-1.3 3.2-1.7 0.6-2-2.6-2-5.2-1.5-8-0.7zM284.9 1466l-2.5 2 0.3 2 3.2 2.1 4 0.5 4-1.5 1.2-1.1 0.2-2-2.4-2-5-0.8zM271.3 1488l-2.4 2-0.3 2 1.3 1.9 2 1.3 4 0.7 4-0.5 2.6-1.4 1.6-2-0.1-2-2.1-2-2-0.9-4-0.3zM231.8 1554l-2.5 2 2.6 2.2 2 0.3 3.6-0.5 1.8-2-3.4-2z"/>
<path fill="#18ffe7" d="M629.7 1006.2l0 667.7-519.7 0 0-667.7zM352.3 1142.2l-1.2 2-0.2 2 0.6 2 2.4 2.4 2 0.6 2-0.3 2-1.2 1.3-1.5 0.5-2-0.1-2-1.7-2.7-2-1.1-2-0.1-2 0.5zM561.6 1212.1l-3.8 1.2-2.1 2.8 0 2 1.4 2 2.7 1.5 2 0.2 2-0.2 3-1.5 1.3-2 0.1-2-1.1-2-1.3-1zM517.4 1312.1l-3.5 4-2.8 6-1.8 10 1.4 6 2.7 4 4.4 3.4 4 0.4 2-0.5 2-1.3 2-2.1 2.5-3.9 2.4-8 0.3-6-1.6-6-2.6-4-2.3-2-2.7-1.4-2-0.3-2 0.3zM479 1340.1l-3.2 2.7-4.7 7.3-2.2 2-5.2 2-17.9 4.5-7.1 3.5-1.9 2-0.7 2 0.4 2 1.3 2 4 3 4 1.5 4 0.8 6 0.3 12-1.1 6-1.6 6.3-2.9 2.5-2 1.4-2 0.6-2-1.2-4-4.1-6 0.7-2 6.2-6 1.4-2 0.6-2-1-2-1.4-0.5-4-0.4zM343.9 1414.8l-3.7 1.2-2.8 2 0.1 2 2.4 1.8 4 1.6 8 1.5 8 0.2 14-2.1 5.4-3 0.5-2-2.2-2-1.7-0.7-8-1.7-10-0.6zM283.8 1466l-2 2 0.2 2 3.9 2.9 6 0.4 3.2-1.3 2.1-2 0-2-2.3-2-3-1-4-0.2zM268.3 1490l-0.3 2 1.9 2.8 4 1.9 2 0.4 4-0.4 4-1.8 2.3-2.9-0.2-2-1.7-2-2.4-1.2-6-0.5-4 0.9zM230.8 1554l-2 2 1.1 1.7 2 0.9 6 0 1.9-0.6 1.3-2-3.3-2-1.9-0.4z"/>
<path fill="#28ffd7" d="M245.6 1006.2l0.5 4 1.8 4.4 14.8 17.6 4.8 8 3 10 3.4 21.6 2.1 6.4 3.9 6 20 21.4 2 1.2 4.4 1.4 23.6 3.6 14-0.4 16-1.7 20-4 14 1.4 8 2.2 9.9 5.6 6 5.8 9.8 15.5 6.2 16.4 2 2.8 2 1.5 20.4 7.3 20.1 6 53.5 3.3 6 1.7 6 3.3 6 5.2 5.1 6.5 5.6 8 4.3 7.9 0 2-7 3.6-2.4 2.4-0.8 2 0.1 2 1 2 4.1 2.7 8 1.1 1.5 2.2-0.2 8-2.2 14-3.9 14-3.9 10-5 8-13.1 14-9.2 12.5-2 1-6-0.4-4 0.7-2 1-3.5 3.2-6.5 9.1-2 1.6-6 2.4-18 4.9-6 2.9-5.5 5.1-12.6 14-3.6 2-14.3 5.2-4.3 2.8-2.6 4 0.2 8-1.1 2-2.2 2-14 9.3-23.9 14-14 7.8-4 1.7-6.2 1.1-17.8 1-8 1.7-3.4 1.3-2.6 2-0.1 2 4.1 3.4 5.7 2.6-1 2-24.7 16-18.2 20-1.8 1.1-2 0.1-6-0.9-6 0.4-3 1.3-1.8 2 0.1 2 2.7 2.8 7.2 3.2-0.8 2-5 6-3.4 1.1-10 1.6-2.3 1.3-1.9 2-0.4 2 1 2 3.6 3.6 1.1 0.4 0.3 2-11.4 15.9-4 6.4-4 9.2-7.7 20.5-2.3 2-2 0.2-6-1.1-4 0.2-2 0.7-1.7 2 1.4 2 2.3 1 9.9 1 1 2-4.9 18.6-5.2 23.4-0.7 5.9-0.5 14-1.4 12 0.8 4 1 1.6 6 2.9 4 3.5 1.2 2 0.3 4-0.5 2-3 3.6-8 4.8-0.8 3.6 0 6-121.1 0 0-667.7zM353.4 1140.2l-2.2 2-0.8 2 0.4 4 3.1 3 4 0.4 2-1 2-2.4 0.7-2-0.1-2-0.9-2-1.7-1.8-2-1-2-0.2z"/>
<path fill="#38ffc7" d="M241.1 1006.2l0.8 6 2.5 6 14.3 18 4.7 8 2.5 8 4 20.8 1.7 5.2 2.3 4.9 6 7.7 16 17.1 4 3.5 6 2.4 22 4.6 32 4.7 6-0.2 12-2.9 4-0.5 12 1 8 2.7 5.9 3 4.9 4 9.1 12.6 8.5 15.4 3.5 3.7 4 2.2 23 8.1 17 4.7 32 2.5 20 2.4 6 1.6 4.9 2.8 7.1 5.9 6 7.1 3.4 5 1 1.9 0 2-4.2 6-0.4 4 2.2 3.6 7.7 4.4 1 2-0.4 10-2.2 12-3.9 12-4.2 8.4-4 5.3-4 3.8-16.3 10.5-3.7 4-4.4 6-13.6 13.3-8 4.8-20 7.6-6 3.3-10 9-12 12.7-5 3.3-7 2.9-6 3.5-3.6 3.6-3.1 6-3.3 3.7-14 9-27.9 16-21 11.2-15 2.9-9.4 3.1-2.5 2-0.3 2 2.2 4-1.2 2-17 12-5.8 6.1-15.4 17.9-2.6 1-10 1.8-1.9 1.2-1.6 2 0 2 1.5 2.2 2.2 1.8 1 2-4.1 6-2.3 2-8.8 3.1-2.9 2.9-0.4 2 2.5 6-13.2 20.7-12.1 31.3-1.4 2-2.5 0.8-6-0.1-4 0.9-2.2 2.4 1.2 2 1 0.7 6.1 1.3 3.4 2-0.1 2-9.4 38-1.2 19.9-2.3 12 0.1 4 1.4 4.1 2.3 1.9 5.7 2.4 2 1.5 1.7 2.1 0.6 2-0.8 4-1.5 1.7-2 1.5-6.3 2.8-1.4 2-0.6 10-117.6 0 0-667.7zM353.9 1138.5l-2.3 1.7-1.4 2-0.7 4 0.6 2 1.8 2.4 2 1.3 4 0.3 2-0.7 3.1-3.3 0.6-4-0.5-2-3.2-3.6-2-0.6z"/>
<path fill="#48ffb7" d="M237.9 1006.2l1.2 8 2.7 6 12.3 16 5.9 10 2.1 6 5 22 3.4 8 3.9 6 19.5 21.1 6 5.4 4 1.9 32 8.5 7.1 3.1 6.9 4.1 2 1.9 0.2 2-3.3 6-0.3 4 0.6 2 2.8 3.4 4 1.6 2-0.1 4-1.9 2.5-3 0.8-2 0.7-4.8 2-2.1 14-3.8 6-1 8 0.4 8 2 3.9 2.3 2 1.9 20 23.1 6.8 4 21.2 7.6 18 5 6 1 32 3.2 16 2.9 4 1.3 4 2 8 6.4 7.3 8.5 0.8 2-0.1 2-1.4 4-0.1 4 2.2 4 4.7 4 1.3 2 0.3 2-0.3 10-2.1 10-4.1 10-4.5 7.4-4 4.4-4 3.1-4 2.1-12 4.5-6 4.2-3.5 4.3-7.2 12-3.3 4-4 3.6-8 5.3-18 8.1-6 3.8-13.2 11.2-11.7 12-15.1 9.9-9.8 10.1-6.2 4.3-23.9 14.2-35 19.4-4 2-11 3.4-5.8 2.6-2.4 2-1 4-1.3 2-9.5 7.1-6 5.5-10 11.2-9.8 12.2-2.5 2-5.7 1.5-4.9 2.5-1.4 2-0.1 2 2.2 4-0.2 2-4.1 6-2.2 2-5.3 2.5-3.6 3.5-0.4 2 0.8 4-0.5 2-8.3 12.7-4 7.5-12.2 31.8-2.5 2-9.3 1.2-1.3 0.8-1.4 2 1 2 1.7 1.1 7.4 2.9 0.1 2-9.7 38-0.5 15.9-0.7 6-2.6 6.7-2.8 3.3 0.1 2 5.6 8 9 4 1.9 2 0.8 2-0.1 2-1 2-1.5 1.4-6 2.6-3.2 2-1.2 4-0.1 8-115.4 0 0-667.7z"/>
<path fill="#58ffa7" d="M234.7 1006.2l1.3 8 2.6 6 13 18 4.5 8 2.8 8 4.4 18 4.6 10 3.9 6 4.1 5 18 19 6 5.2 4 1.9 21.8 6.9 10.2 4.8 8.7 7.2 1.4 2 1.1 6 1.9 4 2.9 2.6 2 0.9 2 0.4 4-0.4 8-4.8 2-0.4 18-2 8-0.1 4 0.5 5.9 2.9 24 19.1 6 2.9 16 5.9 8 2.7 16 4.1 32 4 18 4.1 6 1.9 4 2 6 4.3 7.4 7.3 1 2 0.6 8 1.8 4 3.1 4 1.4 4 0.1 10-2.4 10-5 9.6-6 7-6 3.9-16 4.4-6.1 3.1-2.3 2-3.2 4-7.1 14-2.7 4-3.7 4-8.3 6-19.7 10-14.8 10-4.7 4-3.4 6-2 2-5.8 4-20.2 17.4-6 4.5-26.5 16.1-32.5 18-9.8 5.9-12.1 6-2.4 2-3.1 4-7.5 6.2-6 5.8-10.6 12-10.9 14-2.7 2-5.8 2.5-1.9 1.5-1.4 2-0.1 2 0.8 4-0.8 2-4.1 6-1.9 2-4.6 2.9-2.6 3.1-0.6 6-10.8 18.4-13.9 35.6-2.1 1.3-8 1.5-2 1.2-1.2 2 1.2 2.3 7.7 3.7 0.2 2-7.2 28-3.4 10-0.3 3.9 0.7 10-1.1 8-2.6 4.3-4 1.9-2.3 1.8-0.8 2 0.2 2 1.1 2 3.8 2.5 3.9 3.5 3.8 2 6.3 2.1 2.3 1.9 1 2-0.2 2-1.2 2-3.9 2.3-5.4 1.7-2.2 2-0.8 4-0.2 8-113.3 0 0-667.7z"/>
<path fill="#68ff97" d="M231.6 1006.2l0.8 6 2.2 6 3.5 6 10.1 14 4.2 8 2.9 8 4.2 16 4.6 10 5.3 8 5 6 19.5 20.5 6 5.2 4 2 17.2 6.3 8.8 4.6 4.5 3.4 7.5 7.3 7 8.7 5 2.9 4 0.6 8-1 24 0.3 8 0.7 4 1.4 11.9 6.4 16 9.6 26 9.9 22 5.4 30 4.4 22 6.9 8 4.6 8 6.6 2 3.6 0.9 3.6 3.6 8 1.1 4 0.4 10-2 8-4 7-6 6.5-6 3.4-18 3.8-4 1.8-4 2.7-3 2.8-3 4-6.8 14-3.7 6-5.5 5.3-7.5 4.7-12.5 5.1-8 2.1-20-0.3-5.3 1.1-0.2 2 1.6 4-0.3 2-1.8 2.4-4 3-1.6 0.6-0.5 2 2.1 0.5 6-0.6 4 0.5 2 1 2 2.6 0.1 2-1 2-5.1 2.6-8-0.2-2 1.2-4 6.4-3.6 4-6.6 6-8 6-19.1 12-38.6 21.6-21.5 14.3-10.5 9.3-8 8.4-9 10.3-12 16-8.2 6-1.2 2-0.3 4-1.3 3.5-4.2 6.5-5.8 5.6-1.7 2.4-1.7 6-9.2 16-13.9 36-1.5 2.2-8 2.2-2 1-1.7 2.6 0.7 2 1 0.9 6 3.1 0.4 2-6.4 24.5-2 5.8-2 3-2 1.1-4 0.6-1.9 3 0.4 2 1.5 1.9 4 2.3 1.5 3.7 0.4 6-0.7 4-1.2 2.5-2 1.8-4 2.1-2 1.9-1.3 3.7 0 2 1.3 3.2 2 2.1 7.4 4.7 6.6 1.6 4 1.7 2.1 2.7-0.2 2-1.9 2.3-10.6 3.7-1.3 2-0.4 2-0.4 10-111.2 0 0-667.7z"/>
<path fill="#78ff87" d="M228.6 1006.2l0.9 6 2.2 6 3.6 6 9.9 14 3.2 6 3 8 5.2 18 3.6 8 5.5 8 6.5 8 21.7 23 6 5.2 17.1 7.8 7.1 4 5.1 4 12.8 12 7.9 5.5 4 1.8 18 3.2 20 1.8 6 1.1 15.9 6.1 16 7.6 26 9.7 20 4.6 30 5.1 22 8.2 10 6 6 5.2 3.9 8 1.9 8 0.4 6-0.6 4-1.6 4.5-4.1 5.5-3.9 3.5-4 2.1-18 4.4-6 2.5-5.6 3.5-4.4 4-3.4 4-11.3 18-3.3 3.6-4 2.9-6 2.6-8 1.4-26-0.1-10 0.9-7.9 2.7-6.2 4-5.5 6-2.1 4-1.2 4-0.3 8 3.2 12 0.4 4-1.1 4-2.7 4-6.2 6-8 6-16 10-30.3 17.1-25.6 18.8-8.4 8.1-10.8 11.9-6.4 8-11.5 16-6.2 6-3.2 8-5 8-6.1 8-2.5 6-7.8 14-14.5 38-1.5 2-8.5 2.9-1.3 1.1-1 2 0.7 2 1.6 1.5 4.3 2.5 0.5 2-7.2 26-1.6 2.8-2 1.4-4 1.3-2 1.4-1.9 3.1-0.3 4 0.6 1.9 1.6 2.6 4.2 3.4 1.1 2 0.5 4-1.8 4.8-6 4.6-2 2.6-0.8 2-0.3 4 1.1 3.8 1.6 2.2 4.4 3.8 4 1.8 6 0.5 4 1 1.5 0.9 1.4 2-0.1 2-2 2-2.8 1.1-7 0.9-2.6 2-1.1 4-0.2 10-109 0 0-667.7zM417.8 1321.4l4-1.1 6 0.4 2.7 1.4 1.3 1.6 0 2.4-4 2.7-4 0.6-4-0.6-4.1-2.7-0.5-2zM433.8 1336.7l4-0.6 2 0.5 1.9 1.5 0.5 2-2.4 2.6-2 0.6-4-0.4-1.3-0.8-1.3-2 0.7-2z"/>
<path fill="#82ff7d" d="M225.7 1006.2l1 6 2.3 6 15.8 24 3.9 10 6.1 20 2.9 6 4.2 6 10 12.1 24 25.4 4 3.2 13.3 7.3 6 4 4.8 4 9.9 9.7 5.6 4.3 6.6 4 7.8 3.3 18 4.5 24 4.3 9.9 2.8 10 3.2 16 6.5 24 8.6 18 3.8 26 4.6 6 1.7 19.3 8.6 6.7 4.1 4.7 3.9 3.6 4 2 4 1 4 0.3 4-0.6 4-1.8 4-3.2 4.1-5.9 3.9-18.1 7.1-10 5.5-8.5 7.4-13.5 15.9-6 4.6-6 2.5-8 1.7-28 1.3-10 1.6-10 3.9-9.6 6.5-4 4-3.1 4-3.9 8-1.9 10-1 18-1.8 6-2.6 4-3.7 4-7.6 6-32.7 20.1-22 17.4-10 9.7-17.5 20.7-18 26-21.4 38-5.9 14-11 30-2 2-6.2 2.3-2 1.7-0.9 2 0.9 2.5 4.5 3.5 0.6 2-5.1 18.6-2 5.6-2 2.4-6 3.5-2 2.1-1.6 3.8-0.4 2 0.4 3.9 1.6 4 4 5.5 0.6 2.5-0.5 2-1.5 2-5.4 6-1.7 4-0.3 4 0.8 4 2 3.8 4 4.5 2 1.4 2 0.3 8-1 4 1 1.8 2-0.2 2-2.9 2-4.7 0.5-6-0.5-2 1.5-1.4 4.5-0.4 12-106.1 0 0-667.7zM421.8 1322l4-0.3 2 0.6 2.2 1.8-0.4 2-3.8 1.7-4-0.2-2-1-0.7-0.5-0.4-2zM435.8 1337.4l2-0.1 2 0.8 0.9 2-2.6 2-2.5 0-2.4-2 1.1-2z"/>
<path fill="#87ff78" d="M224.9 1006.2l0.9 6 2.4 6 13.6 20 3.2 6 8.9 27.6 2 4.5 4 6.2 12 14.5 24 25.5 4 3.3 16.9 10.4 4.9 4 10.1 10 5 4 9.1 5.4 8 3.4 16 4.3 26 5.3 13.2 3.6 44.7 16.1 50 10.1 20 9.3 6.9 4.4 4.3 4 2.8 3.8 2.2 6.2 0 4-1.1 4-2.2 4-2.9 3.2-4.2 2.8-19.8 9-8 4.8-7.2 6.2-12.8 14.1-4 3.4-4 2.5-6 2.4-8 1.6-26 1.4-10 1.5-6 1.8-6 2.7-10 6.6-7.6 8-4.4 8-2.9 10-3.1 20-2.4 6-3.5 5.1-4.9 4.9-5 4-28.1 18.1-20 16.4-10 9.7-16.7 19.7-20.1 30-19.9 36-6.1 14-11.6 32-2.1 2-5.5 2.2-2.2 1.8-0.9 2 0.5 2 4.5 4 0.6 2-6.5 22.4-2 3-6 3.9-2 2-2 4-0.5 4.7 0.5 2.9 5 9 0.3 2-0.6 2-6.7 9-1.1 3-0.3 4 0.8 4 1.9 4 4.7 6.4 2 1.6 2-0.2 3-1.8 5-0.7 3.2 0.7 2.2 2-0.3 2-3.5 2-3.6 0.2-6-2-2 0.1-2.3 5.7-0.7 14-104.9 0 0-667.7zM423.8 1322l4 0.8 1.6 1.3-0.4 2-3.2 1.4-2 0-3.9-1.4-0.4-2 2.3-1.6zM435.8 1337.8l3.1 0.3 1.3 2-2.4 1.7-2-0.1-2-1.6z"/>
<path fill="#8cff73" d="M224 1006.2l1 6 2.9 7 13.1 19 3.3 6 9.1 28 2.5 5.3 3.1 4.7 11.5 14 25.4 27.2 4 3.3 14.6 9.5 6.9 6 8.1 8 6.4 5.1 8 4.9 10 4.3 18 5 24 5.3 15.9 4.3 42 14.8 42 8 8 2.1 16.6 8.1 7.4 4.7 3.7 3.3 2.9 4 2 6-0.1 4-1.3 4-2.7 4-2.1 2-6.2 4-16.2 7.9-6.7 4.1-7.3 6-14 14.3-6 4.2-6 2.7-10 2.3-26 1.6-10 1.7-6 1.9-6 2.7-5.9 3.5-6 4.5-6.5 6.6-4.9 8-3 8-5.6 22.4-2.5 5.6-4.2 6-8.2 8-25.1 17.5-20 17.2-10 10.2-17.2 21-17.9 28-19.6 36-6.1 14-12.3 34-2.2 2-2.7 0.8-4 2.6-1.3 2.6 0.5 2 4.1 4 0.6 2-5.1 18-2.8 6-8 6.5-2 3.5-0.9 4 0.7 5.9 3.9 8 0.2 2-0.5 2-5.6 8-1.7 6 0.2 4 1.1 4 5.4 10 0.4 2-1.2 8-0.4 12-103.5 0 0-667.7zM421.8 1323l4-0.5 2 0.8 1 0.8-0.5 2-2.5 1-4-0.4-1.1-0.6-0.5-2zM437.8 1338l1.9 2.1-1.9 1.2-2-0.1-1.4-1.1 1.4-1.9zM225.9 1649.6l4 0.2 2 1.1 1 1-0.3 2-2.7 1.6-2 0.3-4-0.8-1.9-1.1-0.5-2 2.4-1.6z"/>
<path fill="#91ff6e" d="M223.1 1006.2l1.1 6 3.5 8 11.3 16 4.6 8 9.2 28 2.8 6 2.7 4 11.6 14.1 26 28 4 3.4 12.5 8.5 15.5 14.7 6 4.8 10 6.1 10 4.2 22 6.3 37.9 9.6 38 13 8 2 32 5.6 10 2.4 18.1 9.2 5.9 4 5.1 6 2 6-0.9 6-2.2 3.8-2 2.2-5.4 4-16.6 8.9-6 3.7-6.8 5.4-13.2 12.8-8 5.5-6 2.4-10 2.3-26 1.8-10 1.9-6 2-7.1 3.3-6.6 4-5.3 4-6 6-5.4 8-4.3 10-6.5 20-3 6-4.4 6-7.8 8-23.5 17.8-20 18.4-8 8.8-16 20.1-16.7 26.8-20 38-6.2 14-12.9 36-2.3 2-1.9 0.6-4 2.6-1.5 2.8 0.4 2 3.8 4 0.5 2-5.1 18-1.8 4-1.5 2-7 6-2.3 4-0.9 4 0.6 5.9 3.3 8 0.2 2-0.5 2-4.2 6.4-1.6 3.6-1 6 1.2 6 3.6 8 0.9 4-1.1 20-101.9 0 0-667.7zM423.8 1322.9l2 0.1 2.4 1.1-0.6 2-3.8 0.7-2.3-0.7-0.6-2zM435.8 1339.1l2-0.3 1.2 1.3-1.2 0.7-2-0.2-0.7-0.5zM229.9 1650.1l2 1.3 0.6 0.5-0.3 2-2.3 1.2-2 0.4-2-0.3-2.8-1.3-0.4-2 3.2-1.9z"/>
<path fill="#96ff69" d="M222.3 1006.2l1.1 6 2.5 6.2 3.6 5.8 10.1 14 3.3 6 9.3 28 1.7 4 3.7 6 12.3 14.8 24 26.3 6 5.3 12.7 9.6 13.3 13 6.1 5 7.9 5 10 4.8 24 7.6 39.9 10.5 40 13.1 36 6.3 12 3.1 4 1.9 16.1 9.6 4.2 4 2.9 6 0.3 4-1.2 4-2.3 3.6-2.4 2.4-5.7 4-19.9 11.7-6 4.7-12 11-8 5.6-7.1 3-8.9 2.2-26 2-12 2.4-6 2-7.1 3.4-6.7 4-6.1 4.5-6 5.8-5.6 7.7-5 10-7.9 20-3.4 6-4.4 6-9.9 10-19.8 15.9-18 17.7-8 9.1-14.9 19.2-6.5 10-9.4 16-22.1 44-6.4 16-11.3 32-2.2 2-5.2 2.9-1.7 3.1 0.4 2 3.4 4 0.4 2-4.5 15.4-2.7 6.6-7.3 6.8-2 2.9-1.8 6.3 0.4 5.9 2.8 8 0.1 2-0.4 2-5.3 10-1 6 1 6 3.3 10-0.8 22-100.2 0 0-667.7zM421.8 1324l2-0.7 2 0.1 1.6 0.7-0.8 2-2.8 0.4-1.3-0.4zM435.8 1340l2-0.4 0.4 0.5zM223.9 1651.8l2-1.2 2-0.4 2 0.4 2.1 1.3-0.4 2-3.7 1.2-3.7-1.2z"/>
<path fill="#9cff63" d="M221.4 1006.2l1.3 6 3.5 8 12.7 18 3.4 6 9.3 28 2.3 5.1 3.1 4.9 12.9 15.5 24 26.5 4 3.8 12.7 10.2 13.3 13.2 6 5.1 8.8 5.7 9.2 4.4 30 10.1 37.9 10.3 38 11.9 34 5.6 12 3 5.5 2.6 14.5 9.5 4.1 4.5 1.6 4 0.1 4-0.4 2-2.2 4-3.2 3.4-6.5 4.6-17.5 10.7-18 14.9-6.6 4.4-7.4 3.2-10 2.6-26 2.1-12 2.6-6 2.1-7.9 3.9-8 4.8-6 4.6-6.1 6.1-5.7 8-4.4 8-9.2 20-8.2 12-9.7 10-16.7 14.2-18 18.5-8 9.4-14 18.8-6 9.2-10 17.5-21.2 44.3-5.6 14-12.6 36-2.2 2-4.4 2.6-1.2 1.4-0.7 2 0.3 2 3 4 0.4 2-4.2 14-1.6 4.6-1.8 3.4-6.2 6-2 2.8-1.4 3.2-0.9 4 0.3 5.9 2.3 8 0.1 2-0.4 2-4.2 8-1.5 6 0.3 6 2.8 12-0.9 22-98.4 0 0-667.7zM423.8 1323.7l2.7 0.4-0.7 1.6-2 0.4-1.1-2zM227.9 1650.7l2 0.3 1.5 0.9-0.5 2-3 0.8-2.8-0.8-0.4-2z"/>
<path fill="#a1ff5e" d="M220.5 1006.2l1.4 6 3.6 8 11.3 16 4.8 8 3.1 8 6.4 20 2.7 6 2.5 4 11.6 14 26 29 14.9 13 13.7 14 7.3 6 8.1 5.1 10.1 4.9 37.9 13 29.9 8.1 36.3 10.9 9.7 1.9 24 3.4 12 3 6 2.8 12.8 8.8 3.7 4 1.7 4 0 4-0.5 2-1.7 3-2.7 3-5 4-16.3 10.2-18 14.1-8 5.2-8 3.3-8 2.1-6 1-22 1.7-12 2.7-6 2.2-7.9 3.9-8 4.8-6.6 4.8-6.2 6-6.2 8-4.8 8-10.2 19.5-8 11.6-8.2 8.9-17.8 16.5-16 17.3-8 9.7-12 16.6-8 12.3-9.6 17.5-20 44-5.6 14-13 38-7.3 6-0.7 2 0.3 2 2.7 4 0.2 2-4.9 16-2.1 4.5-6.6 7.5-3.3 6-0.8 4 0 3.9 2.1 12-4.9 12-1 6 2.3 16-0.9 22-96.8 0 0-667.7zM227.9 1651.1l2 0.3 0.8 0.5-0.5 2-2.3 0.4-1.7-0.4-0.6-2z"/>
<path fill="#a6ff59" d="M219.6 1006.2l1.4 6 3.8 8 12.7 18 3.5 6 2.4 6 7.2 22 2.7 6 2.6 4.3 12 14.4 26 29.3 13.1 12 13.4 14 7 6 9.3 6 11.2 5.4 40 14.4 63.9 17.8 10 1.9 24 3.2 12 3.2 4.2 2 10.6 8 4 4 1.8 4 0.2 2-0.8 4-2 3.1-2.7 2.9-5.2 4-18.2 12-13.9 10.5-6 3.7-8 3.5-10 2.8-6 0.9-20 1.6-14 3.2-6 2.2-7.9 4-9.6 5.6-5.5 4-6.5 6-6.5 8-5.3 8-10.6 18.4-9.7 13.6-7.2 8-19.1 19.1-14 16-8 10.5-15.2 22.3-12 22-22.3 52-15.5 46-5 4.1-1.7 1.9-0.8 2 0.3 2 2.3 4 0.1 2-4.2 13.5-2.6 6.5-8 10-1.7 4-0.8 4-0.1 3.9 1.5 12-4.5 12-1 6 1.3 14-0.9 14 0 10-95.1 0 0-667.7zM230.1 1651.9l-2.2 2-1.1-2z"/>
<path fill="#abff54" d="M218.6 1006.2l1.6 6 3.9 8 12.7 18 3.5 6 2.5 6 7.2 22 5.1 10 6.4 8 30.4 34.9 15.5 15.1 11 12 6.8 6 8.9 6 11.8 6 42 16 63.9 17.2 16.7 2.7 17.3 2 10 2.8 6.2 3.2 6.9 6 3.9 4 2 4 0.2 2-1 4-4.9 6-33.3 23.2-8 4.7-8 3.4-10 2.9-26 2.5-14 3.3-5.9 2.4-10.8 5.6-13.2 8.5-8 7.3-6.8 8.2-17.2 26.4-8.5 11.6-23.5 25.4-20 24.7-16 24-12.8 23.8-22.7 56-14.4 44-6.1 5.9-0.8 2.1 0.3 2 1.9 4 0 2-4.4 14-2.7 6-7.4 10-2.1 6-0.5 5.9 1 12-4.3 12-0.9 6 0.5 14-1 12 0 12-93.5 0 0-667.7z"/>
<path fill="#b0ff4f" d="M217.7 1006.2l1.7 6 4 8 12.7 18 3.8 6.5 2.4 5.5 7.2 22 5.1 10 6.3 8 17.8 20 13.2 15.9 13.9 14.1 12.1 13.3 7.9 6.7 9.2 6 8.9 4.4 44 17.6 20.8 6 43.1 10.8 20.9 3.1 13.1 1.2 8 2.3 4 1.7 4.1 2.8 7.2 8 2 4 0.2 2-1.1 4-5.1 6-13.3 9.9-24 14.8-10 4.3-10 3-26 2.6-14 3.3-19.6 10.1-12.4 8-6.7 6-8.8 10-23.9 34-24.5 28-18 23.3-18 28.4-12 23.8-10.5 28.4-10.3 26-13.9 44-5.3 5.4-1.1 2.6 0.2 2 1.6 4-0.2 2-5.2 16-1.9 4-5.9 8-2.7 6-1 6 0.5 13.9-4 12-1.1 6-0.1 12-1.2 14 0.2 12-92 0 0-667.7z"/>
<path fill="#b5ff4a" d="M216.7 1006.2l1.8 6 5.4 10 11.5 16 4.5 7.8 9.1 26.2 5 10 37.9 45 12.5 13 11.5 13 7.8 7 10.2 6.7 10 5.1 34 14.4 10 3.8 20.9 6 43 10.3 22 3.1 12 0.9 4 0.9 6 2.5 4 2.5 4.9 5.7 2.8 6-0.2 4-0.8 2-2.9 4-4.2 4-9.6 7.2-24 13.6-10 4.3-10 3.1-24 2.2-14 2.9-23.9 12.7-12 7.9-8.8 8.1-9.1 10-23.6 32-20.5 24.4-16 21.3-18 28.8-8 15.2-6 13-9.3 27.2-10.7 27.9-12.8 42.1-2.2 4-3.7 4-0.7 2 1.4 6-0.3 2-4.5 14-2.8 6-4.4 6.2-3 5.8-1.6 8 0 13.9-3.9 12-1.1 6-2.1 24 0.3 14-90.5 0 0-667.7z"/>
<path fill="#baff45" d="M215.7 1006.2l1.9 6 5.6 10 11.5 16 4.7 8 9.9 28 4.6 8.7 6 7.6 19 21.7 13 16.1 23.4 25.9 6.6 6 10 6.8 9.7 5.2 36.3 16 10.6 4 21.1 6 43.3 9.9 20.9 2.8 12 0.6 4 1.1 6 2.8 3.7 2.7 3 4 2.1 6-0.4 4-1.9 4-3.4 4-5.1 4.6-4 2.8-26 13.8-14 5.8-6 1.6-22 1.9-14 2.6-27.6 14.9-9.3 6-13.3 12-11.1 12-23 30-17.6 21.8-12 16.7-8 12.3-12 20.4-8 15.8-5.8 12.9-9 28-11.2 30.4-12.4 41.6-4.7 6-0.6 2 0.9 6-4.2 14-2.4 6-6.2 10-1.8 4-1.7 8-0.5 13.9-3.7 12-1.5 8-2.5 22 0.5 14-89.1 0 0-667.7z"/>
<path fill="#bfff40" d="M214.8 1006.2l1.8 6 5.9 10 11.5 16 4.8 8 10 28 5.1 9.5 24.3 28.5 13.7 17.3 22 24.7 8 7.3 9.7 6.7 7.4 4 39.8 18 10.9 4 20.1 5.6 44 9.8 20 2.5 12 0.5 4 1.1 6 3.1 3.6 3.3 2.2 4 0.9 4-0.6 4-1.9 4-3.2 4-4.4 4-2.6 1.8-9.3 4.2-16.7 9-14 6.1-6 1.8-24 2.1-12 2.1-30.9 16.9-6.2 4-18.2 16-14.7 16-39.9 52.2-12 18.3-10 17.1-8 15-8 17.2-4 11.2-6.8 22.9-9.5 26-12.9 44-4.2 6-0.6 2 0.5 6-4.4 14-2.4 6-5.7 9.5-1.9 4.5-1.5 6-1.1 15.9-4.6 16-3 20-0.7 8 0.6 12-87.7 0 0-667.7z"/>
<path fill="#c4ff3b" d="M213.8 1006.2l0.9 4 2.1 4 7.1 11.4 9.3 12.6 4.7 7.7 2.8 6.3 7.6 22 5.4 10 23.7 28 12.5 16.1 24 27.4 7.2 6.5 8.6 6 7 4 48.3 22 20.8 6.1 46 10.2 20 2.6 12 0.3 4 0.6 4 1.8 4 2.5 3.3 3.8 1.5 4 0.1 4-2.5 6-5.2 6-5.2 3.5-6.7 2.5-21.3 11.1-14 5.8-6 1.1-24.6 2-7.4 1.4-3.9 1.9-10 6.2-16.3 8.5-7.7 4.8-20 17.2-14 15-6 7.2-32 42.4-14 21.6-12 21.2-10 20.3-6 14.7-7.3 25.5-10.7 30.1-12.1 41.9-3.7 6-0.6 2 0.1 6-3.1 10-3.7 10-5.6 10-2.3 6-1.1 6-0.9 11.9-5 18-3.6 22-0.5 8 0.5 10-86.3 0 0-667.7z"/>
<path fill="#c9ff36" d="M212.9 1006.2l0.9 4 2.1 4 8 12.5 10 13.5 3.6 6 2.6 6 7.7 22 5.3 10 23.5 28 13.3 17.2 23.2 26.8 6.8 6.3 8 5.7 8 4.7 48 22.2 23.7 7.1 46.2 9.9 18 2.1 12 0.2 4 0.6 4 1.9 4.2 3.2 1.8 2.4 1.4 3.6-0.5 6-2 4-4.9 5.7-4 2.5-6 2.1-20 10.2-16 7-6 1.2-20 1.4-12.2 1.9-3.7 1.8-12 7.4-16.9 8.8-6.2 4-20.9 17.9-14 14.8-6 7.3-30 39.8-14 21.6-12 21.1-8 15.8-8 18.4-8.4 29.2-11.6 33.5-10.9 38.5-3.9 8-0.3 6-1.8 6-4.2 12-6.2 12-2.1 6-2.5 17.9-5 18-3.2 18-1.1 10 0.3 12-85 0 0-667.7z"/>
<path fill="#cfff30" d="M212 1006.2l0.9 4 2 4 17 24.3 4.9 7.7 3.1 7.2 7.4 20.8 5.3 10 23.3 28 14 18.4 22 25.6 8 7.5 9.4 6.5 6.9 4 47.7 22.2 23.9 7 44 9.4 20 2.5 12 0 4 0.7 6.6 4.1 1.8 2 1.7 4 0 4-2.5 6-3.6 4.3-4 2.7-8 2.8-22 11.2-14 5.8-30 2.7-6 1.1-3.9 1.9-10 6.4-24.3 13.1-21.5 18-15.4 16-4.8 5.7-32 42.7-14 21.9-12 21.4-10 20.6-6 14.9-7.4 26.7-10.6 30.5-11.7 41.5-3.6 8-0.5 6-1.3 4-4.8 14-5.9 12-2.1 6-2.8 17.9-5.2 19-3.5 19-0.9 8 0.2 12-83.8 0 0-667.7z"/>
<path fill="#d4ff2b" d="M211.2 1006.2l0.7 4 2 4 18 25.4 4.2 6.6 3.6 8 7.1 20 5.2 10 24.7 30 11.2 15.2 24 28 7.2 6.8 8.8 6.2 8 4.6 48 22.6 21.9 6.6 47.5 9.9 20.5 2.3 12 0 4 1.5 3.1 2.2 1.9 2 1.9 4 0.1 4-1.4 4-3.6 5-4 2.8-8 2.8-24 12-12 5-6 0.9-24 1.9-7.6 1.6-12.3 7.7-19.8 10.3-6.2 3.9-21.5 18.1-14.5 15.1-36 47.2-14 21.9-12 21.3-8 16-8 18.7-8.3 29.7-9.8 28-12.3 44-2.8 6-2 10-5.5 16-5.7 12-2 6-2.7 15.9-5.5 20-3.3 17.3-1.3 10.7 0 12-82.7 0 0-667.7z"/>
<path fill="#d9ff26" d="M210.4 1006.2l0.7 4 1.8 4 17.3 24 5.7 9 3.2 7 7.2 20 5.2 10 24.4 30 12 16.3 23.6 27.7 6.4 6.1 10 7.1 8 4.7 46.5 22.1 25.4 7.5 46 9.6 20 2.1 12-0.1 4 1.7 3.6 3.1 1.3 2 1.1 4-1.5 6-2.5 3.7-2 1.9-2 1.1-9.3 3.3-26.7 13.3-10 3.7-26 2.1-8 1.2-3.9 1.7-12 7.7-23 12.3-21.8 18-15.2 15.5-6 7.2-30 39.8-16 25.1-10 17.9-8 15.8-8.8 20.6-8.4 30-10.8 31.5-11.2 40.5-3 8-1.8 8-4.7 14-6.2 14-2 6-3 15.9-5.5 20-2.5 12.4-2.1 13.6-0.2 14-81.7 0 0-667.7z"/>
<path fill="#deff21" d="M209.7 1006.2l0.6 4 1.7 4 17.9 24.8 6 9.6 9.9 25.6 5.1 10 24.2 30 12.8 17.5 22.5 26.5 7.5 7.2 16.3 10.8 41.7 20.2 8 3.4 21.9 6.5 48 10 18 2 14-0.1 4 1.9 2.3 2 1.4 2 1.2 4-0.1 2-1.4 4-3.4 4.4-2 1.3-8 2.6-30 14.8-6 2.3-4 0.8-26 2-8 1.7-13.9 8.7-18 9.3-6 3.7-22 18.2-15.8 16.2-36.2 47.7-14 22-12 21.6-10 20.6-6 14.8-7.4 27.2-10.6 30.8-12 43.2-2.8 8-1.4 6-5.3 16-6 14-1.9 6-3.2 15.9-5.1 18-2.6 12-2.5 16-0.4 14-80.7 0 0-667.7z"/>
<path fill="#e3ff1c" d="M209 1006.2l0.9 5.4 2 4.1 18 24.4 5.1 8.1 2.9 6.3 8.2 21.7 5.6 10 22.6 28 13.1 18 22.5 26.6 8 7.6 16 10.6 43.5 21.2 6.5 2.6 23.9 7 46 9.4 18 2 14 0 2.5 0.9 2.5 2 1.5 2 1.3 4 0 2-1.4 4-2.4 3.2-2 1.4-8 2.7-32 15.6-8 2.3-24 1.9-8 1.1-3.9 1.7-12 7.7-24 12.9-22 18-16 16.3-36 47.3-14 21.9-12 21.5-8 16-8 18.6-8.3 29.8-10.8 32-15.8 56-5.4 16-7.1 18-4 17.9-5.1 18-2.2 10-2.9 18-0.5 14-79.8 0 0-667.7z"/>
<path fill="#e8ff17" d="M208.2 1006.2l1.2 6 2 4 6.5 8.2 16.4 23.8 3.6 7.9 7.6 20.1 5.6 10 22.4 28 12.9 18 23.5 27.8 8 7.5 10 6.9 6.4 3.8 41.6 20.3 8 3.3 21.9 6.5 48 9.9 18 2 14-0.1 4 2.4 2 2.9 0.8 2.7-0.5 4-0.9 2-1.4 1.9-2 1.5-8 2.8-32 15.7-8 2.4-26 2-8 1.6-13.9 8.7-24 12.8-22 17.9-16 16.2-6 7.2-30 39.9-16 25.1-10 18-8 15.9-8.7 20.3-8.4 30-10.8 32-15.8 56-12.8 36-3.4 15.1-5.9 20.8-2.1 10-2.5 16-0.6 14-78.9 0 0-667.7z"/>
<path fill="#edff12" d="M207.6 1006.2l1 6 1.9 4 9.4 12.2 14 20.6 4 8.8 7 18.4 5.6 10 20.7 26 14.7 20.6 24 28.3 7.6 7.1 16.4 10.7 42 20.6 8 3.3 23.9 6.9 46 9.4 18 2 14 0.1 2 0.8 2 1.9 1.8 4.2-0.5 4-1.3 2.4-2 1.9-8 2.9-32 15.7-8 2.4-26 2.1-8 1.6-13.9 8.6-24 12.8-22 17.7-16 16.1-6.5 7.8-30.1 40-15.4 24.1-12 21.6-8 16.3-7.6 17.9-8.3 30-10.2 30-15.9 56.3-13.1 37.7-11.2 43.9-2.9 18-0.6 14-78.1 0 0-667.7z"/>
<path fill="#f2ff0d" d="M206.9 1006.2l0.9 6 2.1 4.7 10 12.6 9 12.7 5 8.2 10.5 25.8 5.5 10 20.5 26 14 20 23.6 28 8.2 8 9.7 6.9 8 4.8 42 20.5 8 3.3 21.9 6.5 48 9.9 16 1.9 16 0.3 2.8 1.8 1.4 2 0.6 2-0.5 4-2.3 2.9-14 6-26 13-8 2.5-26 2.1-8 1.6-15.9 9.7-22.9 12.2-22.2 18-15.9 16-6.6 8-30 40-14.4 22.5-12 21.5-8.8 17.9-7.6 18-7.6 28-10.9 32-15.7 56-13.1 38-11 41.9-3.3 20-0.6 14-77.3 0 0-667.7z"/>
<path fill="#f7ff08" d="M206.3 1006.2l0.8 6 2.8 6 10 12.5 8.1 11.5 5.9 9.8 9.9 24.2 5.4 10 17.4 22 17.3 24.6 24 28.4 8 7.8 10 7.1 8 4.7 42 20.6 8 3.3 21.9 6.4 48 9.9 16 2 14 0.1 2 0.5 2 1.3 1.6 3.2 0 2-0.7 2-1.8 2-13.1 5.8-28 14-6 1.7-26 2.1-8 1.6-3.9 2-12 7.6-18 9.3-6 3.7-22 17.9-16 16.2-36 47.2-14.6 22.9-12.2 21.9-9.8 20-6.6 16-7.7 28-10.8 32-15.7 56-11.8 34-9.4 33.9-2.8 12-2.8 16-0.9 8-0.3 10-76.5 0 0-667.7z"/>
<path fill="#fcff03" d="M205.6 1006.2l0.8 6 1.5 4.2 2.5 3.8 9.5 11.7 12 18 4 8 7.2 18.3 5.5 10 17.2 22 18.1 25.8 24 28.4 8 7.6 10 7.1 8 4.7 42 20.6 8 3.2 21.9 6.5 46 9.5 18 2.5 14 0.3 3.2 1.7 1.1 2-0.3 2.8-2 2.2-40 19.8-6 1.7-26 2.2-8 1.6-3.9 1.9-12 7.7-18 9.2-6 3.7-22 17.7-16 16.1-6.2 7.4-30 40-15.3 24-11.2 19.9-8 16-8.6 20-8.4 30-10.2 30-14.1 50.5-13.2 39.5-10.2 35.9-2.8 12-2.8 16-1.2 18-75.7 0 0-667.7z"/>
<path fill="#fffc00" d="M204.9 1006.2l0.8 6 2.2 5.8 10 12.4 13.4 19.8 4.6 9.5 7.5 18.5 5.8 10 15.8 20 18 26 24.9 29.4 8 7.5 10 7 8 4.7 42 20.6 8 3.2 23.9 6.8 48 9.9 14 1.9 13.7 0.9 2.5 2 0 2-2.1 2-22.3 12-15.8 7.8-6 1.8-26 2.2-8 1.6-3.9 1.8-12 7.7-18 9.2-6 3.7-22 17.6-16.6 16.6-6.6 8-30 40-15.3 24-12.2 21.9-10.5 22-5.7 14-7.1 26.3-10.7 31.7-13.3 48-14.5 44-9.7 33.9-2.8 12-2.7 16-1 8-0.3 10-74.9 0 0-667.7z"/>
<path fill="#fff700" d="M204.3 1006.2l0.7 6 2.2 6 2.7 4.1 8 9.4 12.5 18.5 3.5 6.7 8.8 21.3 4.4 8 17.1 22 17.7 26 24 28.4 8 8 10 7.2 8 4.9 42 20.7 8 3.4 20 6.1 7.9 1.9 44 9.2 26 3.7 1.4 0.4 0.7 2-1.6 2-2.9 2-18 10-13.6 6.8-6 1.8-26 2.3-8 1.5-5.9 3.1-10.2 6.5-23.8 12.7-22 17.5-17.7 17.8-36.6 48-15.1 24-11.1 19.9-8 16-8.5 20-8.3 30-10.8 32-13.9 49.8-13.3 40.2-9.2 31.9-2.9 12-3.1 18-1.3 18-74.1 0 0-667.7z"/>
<path fill="#fff200" d="M203.6 1006.2l0.7 6 2 6 2.6 4 9 10.9 12 18 4 7.7 7.1 17.4 5.4 10 17.5 22.8 16.9 25.2 25.4 30 7.7 7.5 10 7.2 8 4.9 42 20.6 8 3.4 23.9 7.1 64.6 13.2 6.6 2-0.7 2-11.9 8-18.6 9.7-8 2.2-24 2.1-8 1.5-3.9 1.8-12 7.7-20 10.3-6 3.8-22 17.7-16 16.2-7.4 9-29.9 40-15.1 24-12.1 21.9-8.7 18-6.7 16-8.1 29.4-11 32.6-13.3 48-14.3 44-8.8 29.9-2.8 12-2.8 16-1.2 10-0.4 10-73.3 0 0-667.7z"/>
<path fill="#ffed00" d="M203 1006.2l1 7.8 1.9 5.1 3.6 5.1 8.4 10.2 11.7 17.8 4.3 8.5 7.2 17.5 4.4 8 18.4 24 17.4 26 23.7 28 6.9 7 10 7.4 10 6.3 48 23.2 25.9 7.7 57.8 12.3 5.6 2 1.7 2-1.1 2-4.7 4-6.5 4-12.8 6.6-4 1.5-4 0.7-24 2.3-8 1.5-3.9 1.7-12.2 7.7-17.8 9.2-8 4.8-22 17.6-16.4 16.4-6.6 8-31.4 42-13.9 22-12.2 21.9-8.8 18-7.5 18-7.6 28-10.9 32-14.7 52.7-12.8 39.3-8.4 27.9-3.4 14-2.9 16-1.5 12-0.4 10-72.5 0 0-667.7z"/>
<path fill="#ffe800" d="M202.3 1006.2l1 8 2.4 6 12.2 15.7 10.7 16.3 4.2 8 7.5 18 4.4 8 17.2 22.6 18.2 27.4 25.5 30 6.3 6.2 18 12.5 50 24.2 25.9 7.8 25.4 5.2 28.6 6.8 4.1 1.2 2.5 2-0.1 2-3.9 4-6.4 4-11.7 6-6.5 1.8-26 2.6-7.9 1.9-16 9.7-20 10.4-6 4-20 15.9-17.6 17.7-30.9 40-8.3 12-12.5 20-13.2 23.9-10.5 22-4.7 12-8.3 30-10.8 32-13.2 47.8-16.9 52.2-4.6 15.9-3.5 14-3.3 18-1.5 12-0.4 10-71.7 0 0-667.7z"/>
<path fill="#ffe300" d="M201.6 1006.2l0.9 8 2.3 6 3.1 4.9 10 12.3 10 15.4 4 7.6 8.4 19.8 4.7 8 16.9 22.1 17 25.9 23.6 28 7.6 8 11.8 8.8 10 6.2 46 22.2 26 8 31.3 6.7 22.9 6 4 2 0.7 2-1.1 2-5.1 4-6.8 4-8 3.7-6 1.1-24 2.6-7.9 1.8-4 2-10.5 6.8-19.5 10.1-8 5.1-21.2 16.8-17.8 18-30.7 40-9.5 14-12.4 20-13.1 23.9-10.2 22-3.8 10-7.3 26.9-11.2 33.1-14.8 53.3-19.4 60.6-4.1 16-3.3 18-1.7 12-0.5 12-70.9 0 0-667.7z"/>
<path fill="#ffde00" d="M200.9 1006.2l0.9 8 2.2 6.2 3.8 5.8 10.1 12.8 9.8 15.2 4.2 8.4 7.5 17.6 3.3 6 19.2 25.7 16 24.7 25 29.6 7 7.2 10 7.6 10 6.4 48 23.2 26 7.9 26.1 5.6 15.7 4 11.2 4 1.7 2-0.5 2-4.5 4-6.7 4-5.1 2.3-6 1.3-26 3-7.9 2.4-14 8.8-20 10.3-8 5.4-20 15.8-18 18.2-31.1 40.5-11.9 18-9.8 16-12 21.9-10.3 22-4 10-8.8 32-10.8 32-13.3 48.1-19.8 61.8-4.5 18-3 16-2 14-0.5 12-70.1 0 0-667.7z"/>
<path fill="#ffd900" d="M200.2 1006.2l0.9 8 2.9 7.8 13.7 18.2 8.2 13 4 7.3 8.4 19.7 4.6 8 17 22.6 17.8 27.4 23.7 28 7.6 8 8.9 6.8 12 7.7 46 22.3 6 2.2 20 6 38.4 8.9 11.2 4 2.4 2 0.1 2-1.4 2-5.4 4-5.4 2.7-6 1.5-26 3.2-7.9 2.4-14 8.7-22 11.6-20 14.7-12 10.6-15.6 16.6-28.9 38-14.4 22-8.3 14-11.8 21.9-10.1 22-3.7 10-7.2 26.6-11.2 33.4-14.8 53.2-18.3 56.7-4.5 18-3 16-2.3 16-0.5 12-69.3 0 0-667.7z"/>
<path fill="#ffd400" d="M199.5 1006.2l0.8 8 2.9 8 2.7 4.5 12 15.5 8 13 4 7.8 7.3 17.2 4.5 8 17.9 24 16.6 26 25.3 30 6.4 6.6 8 6.3 12 8 46 22.3 8 3.1 16 4.9 29.1 6.7 13.9 4 6.9 3.4 0.9 0.6 0.8 2-1 2-2.1 2-3.1 2-5.1 2-30.4 4.5-5.9 1.9-14 8.8-22 11.6-22 16-12.4 11.2-14.8 16-27.5 36-18.2 28-17.5 31.9-8.2 18-4.8 12-8.6 31.2-11 32.8-13 47.6-18.7 58.3-5 20-2.9 16-2.3 16-0.5 12-68.5 0 0-667.7z"/>
<path fill="#ffcf00" d="M198.8 1006.2l0.8 8 2.7 8 3.6 5.9 10.7 14.1 7.5 12 4.3 8 8.6 20 3.4 6 17.5 23.8 16.6 26.2 14.8 18 16.6 18.6 8 6.6 14 9.4 46 22.1 6 2.4 20 6.1 20.4 4.7 14.5 4 4.9 2 3.2 2 1.3 2-0.6 2-2.1 2-4.3 2-9.1 2-20.3 3-5.9 1.8-14 9-24 12.8-20 14.5-14.4 12.9-7.9 8-6.8 8-27.5 36-16.8 26-17.5 31.9-10.1 22-3.7 10-7.3 26.8-11.1 33.2-14.9 54.3-17.8 55.6-4.7 20-3 16-2.2 16-0.6 12-67.6 0 0-667.7z"/>
<path fill="#ffc900" d="M198.1 1006.2l1.2 10 2.7 7.2 3.9 6.2 9.4 12.6 8.6 14 4 7.8 6.8 16.2 4.2 8 18.8 26 16.3 26 13.2 16 17.8 20 8.9 7.2 14 9.4 8 4.2 36 16.7 8 3.3 14 4.4 33.7 8.7 5.2 2 3.3 2 1.4 2-0.7 2-5 2.6-4.9 1.4-21.1 3.7-3.9 1.4-14 9.1-24 12.8-24 17.4-16.7 15.6-10.7 12-27.5 36-17.8 28-16.1 29.9-10.6 24-3.5 10-7.1 26.2-9.4 27.8-14.6 53.8-19.3 62.1-4.5 20-3.2 18-1.6 12-0.5 12-66.8 0 0-667.7z"/>
<path fill="#ffc400" d="M197.4 1006.2l1.1 10 3 8 12.5 18 7.9 13 4.7 9 7.7 18 4.3 8 17.2 24 10.8 18 6.7 10 11.4 14 17.8 20 5.4 4.9 12 8.9 8 5 8 4.3 40 18.2 24 7.7 18.6 4.9 5.5 2 3.4 2 1.1 2-1.5 2-4.5 2-7.6 2-9.1 1.5-5.9 2.4-11.6 8.1-16.4 8.6-10 6-18 12.5-8.6 6.9-16.8 16-12 14-24.3 32-17.5 28-13.8 26-12.3 27.9-3.4 10-7.3 26.5-9.2 27.5-14.7 55.6-18.4 60.3-4.4 20-3.1 18-1.6 12-0.5 12-66 0 0-667.7z"/>
<path fill="#ffbf00" d="M196.7 1006.2l1.1 10 2.8 8 3.4 5.7 10 14.3 7.1 12 4.8 9.8 6.8 16.2 4.3 8 16.6 24 17.2 28 12.8 16 16 18 6.4 6 11.9 9.1 16 9.6 40 18.3 38.3 12.9 3.4 2 0.8 2-2.1 2-10.4 2.9-4 2.1-12 9-24 13.3-22 14.9-16.3 13.8-16 16-22.2 28-11.2 16-15.7 26-13.2 25.9-10.9 26-3.4 10-7.1 25.9-9.3 28.1-14.6 57-17.4 58.9-4.3 20-3.3 20-1.5 12-0.3 10-65.2 0 0-667.7z"/>
<path fill="#ffba00" d="M196 1006.2l1.1 10 2.6 8 4.3 7.3 8.6 12.7 7 12 15.6 34 16.1 24 16.8 28 9.8 13 11.2 13 8.8 9.6 6 5.7 12 9.4 10 6.7 8 4.4 14 6 10 5.4 12 5.6 24.3 9.1 3.8 2 1.9 1.9 0.4 2.1-1 2-3.4 4-6 5.6-20 11.5-28 18.6-13.1 10.3-19.5 18-18.3 22-13.1 17.5-14 22.5-8.9 16-10.5 21.9-10.6 26-9.8 34-10.9 34-13.2 54-16.4 57.9-4.2 20-3.3 20-1.4 12-0.3 10-64.4 0 0-667.7z"/>
<path fill="#ffb500" d="M195.3 1006.2l1 10 2.6 8 3.1 5.8 10.5 16.2 6.6 12 14.3 32 16.7 26 13.8 24 14.8 20 20 22 9.2 7.8 12 9.1 10 6.2 15.2 6.8 10.8 6.7 12 6.3 16.5 7 3.5 2 2 1.8 0.9 2.2-0.2 2-1.1 2-4.1 4-15.5 9.8-30 20.6-17.2 13.6-17.8 16-18.3 22-10.7 14.5-14 22.6-10 18.3-10 21.6-10.5 26.9-9.5 32.9-10.4 33.1-12.7 54-13.7 50-2.9 11.9-3.6 18-3.6 22-1.1 10-0.4 10-63.5 0 0-667.7z"/>
<path fill="#ffb000" d="M194.6 1006.2l1 10 2.5 8 3.9 7.6 9.1 14.4 6.4 12 14 32 16.1 26 14.3 25.4 12 16.8 22 24.7 18 15.2 14 9.5 17 8.3 9 6.7 21.7 13.3 2.2 2 1 2-0.1 2-1 2-3.9 4-17.2 14-16.7 11.5-14 10.5-19.3 16-6.7 6.6-16.2 19.4-11.8 16.3-15.3 25.7-9.3 18-8.7 19.9-9.7 26-20.3 68-11.6 52-8 32-5.5 20-2.7 11.9-6.6 38-1.1 10-0.4 10-62.7 0 0-667.7z"/>
<path fill="#ffab00" d="M193.9 1006.2l1 10 3.1 9.8 11.7 20.2 6.2 12 14 32.5 16.3 27.5 13.2 24 10.5 15.3 6 7.7 9.9 11 14.1 14.2 14 11.6 8 5.7 6 3.8 12 5.9 4 2.7 8 6.7 10.1 7.3 4 4 1.9 4 0 2-1.6 4-2.9 4-4 4-9.9 8-19.9 14-15.5 12-12.2 10-7.6 8-15 18-11.2 16-14.2 24.1-10 20.1-7.4 17.8-9.5 25.9-20.7 70-11.1 52-7.5 32-5.3 20-2.9 13.9-6.4 38-1.2 18-61.9 0 0-667.7z"/>
<path fill="#ffa600" d="M193.2 1006.2l0.9 10 3.1 10 11.1 20 6 12 13.6 32.1 15.9 27.9 12.1 22.8 10 15.5 10 12.9 20 21.1 14 12 10 7.6 6 4.1 11.3 5.9 4.7 3.5 16.6 14.5 1.5 2 1.4 4-0.1 2-1.6 4-3.1 4-4.1 4-6.6 5.4-23.3 16.6-20.9 16-7.8 7.4-12.7 14.6-9.2 12-10.1 15.6-12 21.3-9.1 19.1-6.9 17-9.4 26.9-20.5 70-11 54-6.6 30-5 20-3.4 16.9-5.8 35-1.1 18-61.1 0 0-667.7z"/>
<path fill="#ffa100" d="M192.5 1006.2l0.9 10 3 10 16.3 32 14.3 34 25.7 48 11.2 18 9.1 12 18.9 20.2 24 20.6 7 5.1 10.5 6 5.4 4 14.4 14 2.2 4 0.2 2-0.3 2-2 4-5.3 6-4.8 4-45.3 33.1-7.2 6.9-12.3 14-8.5 11-10.9 17-12.2 22-8.4 18-6.5 16.5-9.3 27.4-16.6 56-4.3 16-10.8 56-10.9 49.6-3.5 18.3-5.1 32-1.2 18-60.2 0 0-667.7z"/>
<path fill="#ff9c00" d="M191.8 1006.2l0.9 10 2.8 10 13.9 28 15.8 38 24.8 48 11.9 19.7 9.2 12.3 18.8 20 26 22.8 6 4.5 10 6.2 4 3.2 10.9 11.2 2.6 4 0.5 2 0 2-1.4 4-5 6-11.6 9.3-37.7 26.7-6.2 6-14.1 15.9-8 10.8-10 15.9-11.6 21.4-8.4 18.1-6 15.7-9.2 28.1-16 54-5.3 20-12.1 66-8.4 39.9-3.7 20-4.9 32-0.9 16-59.4 0 0-667.7z"/>
<path fill="#ff9600" d="M191.1 1006.2l0.8 10 2.8 10 12.3 26 16.5 40 22.8 46 11.6 20.3 9.5 13.7 16.8 18 25.7 23.8 8 6.7 10.8 7.4 4.7 4 9.1 10 1.9 4 0.3 2-0.3 2-1.9 4-5.7 6-7.5 6-37.4 25.8-6.6 6.2-14.4 16-8.7 12-9.8 16-10.7 20-8.1 18-5.7 15.1-9.1 28.8-16 54-5.6 22-12.5 72-6.9 33.9-4.2 24-4.1 28-0.9 16-58.6 0 0-667.7z"/>
<path fill="#ff9100" d="M190.3 1006.2l0.9 10 2.7 10 11.7 26 16.3 40.6 22 46 12 21.3 8 12.1 8.9 10 15.1 15.6 16 14.9 12 10.6 14 11.1 7 7.7 2.2 4 0.4 2 0 2-1.7 4-5.3 6-7.8 6-34.8 23.2-7.3 6.8-14.6 16-8.1 11.2-10.2 16.8-11.5 22-7.9 18-4.4 12.2-8 26.1-17.5 59.6-5.5 22-12 74-10.5 57.9-3.8 26-0.9 16-57.7 0 0-667.7z"/>
<path fill="#ff8c00" d="M189.5 1006.2l0.9 10 2.6 10 11.2 26 15.7 39.9 21.1 46.1 12.9 23.6 6.6 10.4 7.4 8.9 22 22.4 24 22.5 12 10.2 5.4 5.9 2.4 4 0.6 2 0.1 2-1.3 4-5.1 6-8.1 6-32 20.7-7.9 7.3-14.9 16-7.2 10-10.8 18-11.2 21.5-8 18.4-6 17.7-13.1 46.3-8.8 29.2-7.3 28.8-11.6 76-6 33.9-6 38-1.8 14-0.4 12-56.9 0 0-667.7z"/>
<path fill="#ff8700" d="M188.8 1006.2l0.8 10 2.6 10 10.6 26 15.1 39.1 20.6 46.9 13.4 25.2 6 9.8 6 7.7 20.6 21.3 39.3 37.9 4.4 6 1.1 4-1 4-5.1 6-8.3 6-25 15.5-6 4.3-6.6 6.2-15 16-7.2 10-11.2 18.9-10 19.6-8 18.6-6 17.9-12.7 46.9-9.2 30.3-7.4 29.7-11.1 78-11.9 73.9-1.3 12-0.3 10-56 0 0-667.7z"/>
<path fill="#ff8200" d="M188 1006.2l0.7 10 2.6 10 22.6 59.2 22 52.5 14 27 6 10.2 6 7.7 14.5 15.4 28.3 27.9 13.3 14 4.5 6 1.3 4-0.7 4-1.2 2-3.9 4-8.3 6-21.8 13.2-6 4.2-15 14.6-9 10-8 12.3-10 17.7-10 20.4-7.8 19.6-4.2 13.2-12.7 48.7-11.2 37.8-5.6 24.2-9.9 74-11.8 75.9-1.3 12-0.3 10-55.1 0 0-667.7z"/>
<path fill="#ff7d00" d="M187.1 1006.2l0.8 10 2.5 10 21.5 58.2 22 54.1 14 27.8 6 10.5 8 10.3 8 9 36 36.6 9.6 11.4 2.1 4 0.5 2-0.5 4-1.2 2-3.7 4-8.5 6-18.3 10.9-6 4.1-15.5 15-8.5 9.3-10 16.1-10 18.6-8 17-8 20.5-4 13.4-11.3 45-10.6 35.8-6.8 28.2-3.2 21.9-7.1 56.1-11.4 75.9-1 10-0.3 10-54.2 0 0-667.7z"/>
<path fill="#ff7800" d="M186.2 1006.2l0.8 10 2.4 10 20.2 56 22.3 56.6 14 28.6 7.3 12.8 10.7 14.2 39.7 41.7 6.2 8 2.6 6-0.4 4-1.1 2-3.8 4-5.4 4-17.8 10.6-6 4.2-17.8 17.2-6.2 7-10 16.8-8 15-8 16.9-8 20.3-4 12.3-12.7 51.6-11.2 38.3-6 25.2-2 12.3-8.4 66.2-11.1 75.9-1.3 20-53.2 0 0-667.7z"/>
<path fill="#ff7300" d="M185.3 1006.2l0.7 10 2.4 10 17.5 50.1 24 62.4 10 21.7 10 19.3 14 20.1 36 38.7 4.3 5.6 2.5 6-0.4 4-1.1 2-3.8 4-25.5 16.7-18 17.3-6 7.1-12 21.3-6 11.7-8 17.6-8 21.1-4 13.2-11.4 47.9-12.5 43.5-6 26.5-9.3 72-11.2 77.9-1 10-0.3 10-52.2 0 0-667.7z"/>
<path fill="#ff6e00" d="M184.3 1006.2l0.5 8 1 6 4.9 16 19.2 55.1 19.5 50.9 6.5 14.6 11.6 23.4 14.4 22.7 16 18.4 17.3 18.8 4.4 6 1.4 4-0.5 4-2.7 4-4.7 4-15.2 9.6-4 3.1-18 17.3-5.1 6-10.9 19.8-8 16-8 18.3-8 22-4 14.6-10.6 45.2-11.3 39.5-6.7 28.5-20.8 151.9-1.3 20-51.2 0 0-667.7z"/>
<path fill="#ff6900" d="M183.3 1006.2l1.1 12 4.5 16 17.7 52 21.3 57.1 6 13.9 10.9 23 8.6 14 6.5 11.9 16 19.3 14.9 16.7 2.8 4 1.6 4-0.5 4-2.6 4-4.8 4-11.4 7.5-4 3.3-18 17.2-4.8 6-13.2 25.1-6 12.6-8 19.1-7.3 21.2-2.8 10-11 47.9-10.8 37.9-8 33.8-20.6 150.2-1.2 20-50.2 0 0-667.7z"/>
<path fill="#ff6300" d="M182.3 1006.2l0.4 8 1 6 4.8 16 16.6 50 20.8 56.8 5.4 13.2 11.9 26 8.2 14 6.5 13.2 4 5.5 23 27.2 2.8 4 1.6 4-0.4 4-2.6 4-18.4 14.6-16 15.4-4.6 6-13.4 26.6-6 13.2-7.3 18.2-6.8 20-3.7 14-10.8 47.9-11.3 40-6.7 28-20.7 149.9-1.2 12-0.3 10-49.1 0 0-667.7z"/>
<path fill="#ff5e00" d="M181.3 1006.2l1 12 4.4 16 16.3 50 25.4 70 12.2 28 8.8 16 6.5 14.4 4 5.9 20.6 25.6 2.9 6-0.3 4-2.6 4-10.6 9-16 15-5.6 6-2.8 4-13.6 28.2-6 13.7-6.9 18.1-7.1 21.8-13.1 58.1-10.8 38.7-8 33.3-20.5 147.9-1.2 12-0.3 10-48 0 0-667.7z"/>
<path fill="#ff5900" d="M180.2 1006.2l1 12 3.7 14 16.6 52 24.4 68.9 12.2 29.1 9.2 18 6.6 15.5 4 6.3 16.8 22.1 2.3 4 0.7 4-0.4 2-2.4 4-25 24-3.5 4-2.6 4-11.9 25.4-7.1 16.6-6.9 18.3-6.7 21.7-13.9 61.9-11.3 41.2-6.9 28.8-5.5 36-14.9 109.9-1.3 12-0.4 12-47 0 0-667.7z"/>
<path fill="#ff5400" d="M179.2 1006.2l0.9 12 3.9 14.7 16 50.9 24.4 70.4 12 30 8.8 18 6.7 16.7 3.1 5.2 14.5 20 1.9 4 0.7 4-1.1 4-2.8 4-20.3 20-3.3 4-2.7 4.3-6 12.8-12.2 28.9-6.6 18-7.2 23.7-13 60.2-10.9 40-8.1 34-5.9 38-14.1 103.9-1.6 14-0.4 12-45.9 0 0-667.7z"/>
<path fill="#ff4f00" d="M178.1 1006.2l1 12 3.5 14 15.4 49.8 24.4 72.2 12.3 32 8.3 18 6.9 17.7 3.5 6.2 11.3 16 1.8 4 0.7 4-1 4-2.4 4-5.4 6-12.5 12-4 5.2-2.6 4.8-7.4 16.7-10 24.7-6 17.2-6.8 23.4-13.6 63.9-14 52-4.5 20-6.6 42-12.8 93.9-2.2 18-0.6 14-44.8 0 0-667.7z"/>
<path fill="#ff4a00" d="M177.1 1006.2l0.9 12 3.5 14 15.1 50 24.5 74 11.8 32 7.1 16 7.9 20.8 3.9 7.1 8.3 12 1.9 4 0.7 4-0.8 4-2.3 4-17.3 18-5.6 10-6.8 15.8-10 25.8-6 18.2-6 21.6-13.3 64.5-14.9 56-4 18-5.5 34-6.9 48-8.4 63.9-1.2 20-43.7 0 0-667.7z"/>
<path fill="#ff4500" d="M176 1006.2l0.9 12 3.4 14 14.3 48 25.2 78 11.3 32 6.7 15.9 8.1 21.9 3.1 6.1 7.6 12 1.7 6-0.8 4-2.2 4-14.8 16-2.6 4.1-4.7 9.9-15.3 39.9-5 16.1-5.9 22-13.3 65.9-15.4 58-3.8 18-5.4 32-6.7 46-8.6 65.9-1.2 20-42.6 0 0-667.7z"/>
<path fill="#ff4000" d="M175 1006.2l0.9 12 3.3 14 14 48 17.4 54 7.3 24.5 11.3 33.5 14.4 37.9 2.7 6 5.8 10 1.8 6-0.2 2-1.4 4-2.8 4-7.6 8-4 5.1-8.1 16.9-13.9 38.3-4.6 15.7-5.4 20.8-13.1 67.1-15.8 60-4.2 20-11.3 72-8.8 67.9-1.1 20-41.6 0 0-667.7z"/>
<path fill="#ff3b00" d="M173.9 1006.2l0.6 10 2 10 16.5 58 33.6 108 15.3 41.7 6.7 14.2 0.9 4-0.1 2-1.4 4-12.1 15.5-9.5 20.5-12.5 36.8-9.1 35.2-12.5 65.9-17.2 66-6.1 32-7.3 46-5 37.9-5.3 42-0.9 18-40.5 0 0-667.7z"/>
<path fill="#ff3600" d="M172.9 1006.2l0.5 10 1.5 8 15.1 54.4 17.2 55.6 6.7 24.3 10.8 35.7 19.7 53.9 0.8 4-0.1 2-1.4 4-9.8 13.9-10 22.1-11 34-7 27.1-4.1 18.9-10.8 59.9-16.8 64-6.9 36-6.8 42-4.7 35.9-5.5 44-0.9 18-39.4 0 0-667.7z"/>
<path fill="#ff3000" d="M171.8 1006.2l0.6 10 1.4 8 12.2 45.2 20.1 66.8 16.7 60 16.6 47.9 1.7 8-1.5 6-7.7 12.4-10 22.4-9.7 31.2-6.3 24.5-5.3 25.5-10.5 59.9-17.2 66-7.4 38-6.5 40-4.6 35.9-5.2 42-0.9 18-38.3 0 0-667.7z"/>
<path fill="#ff2b00" d="M170.8 1006.2l0.5 10 1.4 8 11.3 42.7 20.4 69.3 16.9 64 14.3 41.9 1.8 8-0.8 6-8.1 16-8.6 19.5-10.7 36.5-3.8 16-5.3 26-6.8 41.9-4.5 24-18.1 70-6.6 34-6.5 40-9.2 73.9-1.2 20-37.2 0 0-667.7z"/>
<path fill="#ff2600" d="M169.7 1006.2l0.6 10 1.3 8 9.8 38 21.9 76 16.5 66 12.1 35.9 2.1 10-0.4 4-1.3 4-11.1 24-3.9 10-9.4 33.9-3.7 16.1-5 26-6.6 41.9-4.7 26-18.6 72-6.6 34-6.3 38-9.1 73.9-1.1 20-36.2 0 0-667.7z"/>
<path fill="#ff2100" d="M168.6 1006.2l1.2 14 3.7 16 10.9 42 17.2 60 16.3 69.1 10.2 30.8 2.4 10 0 4-1.5 6-11.2 26-2.9 8-9 34.5-7.9 41.3-6.4 42.1-4.6 26-16.3 62-6 28-5.9 32-4.1 26-8.5 69.9-1.1 20-35.1 0 0-667.7z"/>
<path fill="#ff1c00" d="M167.6 1006.2l0.8 12 2.9 14 11.2 44 17.4 62 15.5 69.9 9.5 30 2 10 0 4-1.1 6-12.7 32-7.9 32-3.4 16-4.2 24-7 47.9-4.5 26-8.1 32.7-8.7 31.3-8 38-8.1 48-8.1 67.9-1.1 20-34 0 0-667.7z"/>
<path fill="#ff1700" d="M166.5 1006.2l0.6 10 2.1 12 11.5 46 18 66 14.5 69.9 7.8 26 2.2 12-0.1 6-1.2 6-10.6 28-7.3 31-5.2 27-8.9 61.9-4.3 26-7.6 31.5-10.1 36.5-8.4 40-5.4 30-2.3 16-7.8 65.9-1.1 20-32.9 0 0-667.7z"/>
<path fill="#ff1200" d="M165.4 1006.2l0.6 10 1.7 10 11.6 48 17.7 66 13.5 69.9 7 26 1.7 12-0.3 8-1 6-9.6 28-8.3 39.8-5.6 36.2-6.1 45.9-4.3 25.8-8 32-9.5 34.2-7 32-4.9 26-3.2 20-6.3 51.9-2.7 24-0.6 16-31.8 0 0-667.7z"/>
<path fill="#ff0d00" d="M164.3 1006.2l0.8 12 2.3 12 10.1 42 18.8 72 11.9 67.9 5.3 22 1.4 12 0 10-1.1 8-7.9 25.8-7.9 41.8-10 75.7-4.2 26.6-7.8 32.3-11 39.7-7.4 34-6 32-9.9 81.9-1.1 20-30.6 0 0-667.7z"/>
<path fill="#ff0800" d="M163.1 1006.2l0.8 12 2.7 14 10.1 42 18 70 8.1 48 3.1 22.4 3.5 17.5 1.2 14 0 10-0.7 8-5.9 24.3-7.4 41.7-9.3 74-4.5 29.9-6.8 28.7-12.5 45.3-6.6 30-6.5 34-9.5 77.9-1.1 12-0.4 12-29.4 0 0-667.7z"/>
<path fill="#ff0300" d="M161.8 1006.2l0.8 12 2.3 12 9.9 42 15.8 60 2.7 12 8.4 54 3.8 31.9 1.1 16 0 10-1.1 12-10.8 64-8.5 72-4.2 28.8-8 33.6-11.2 39.5-7.5 34-6.5 34-9.7 79.9-1 20-28.1 0 0-667.7z"/>
<path fill="#fd0000" d="M160.4 1006.2l0.5 10 2.2 12 9.9 42 16.2 62 3.1 14 8.1 56 3.1 39.9 0.1 14-0.9 12-9.5 64-7.2 64.7-4 29.5-2.1 11.7-5.9 24.3-12.9 45.7-6.3 28-6.3 32-3 20-6.9 57.9-1.6 16-0.4 12-26.6 0 0-667.7z"/>
<path fill="#f90000" d="M159.1 1006.2l0.9 12 2.8 14 9.6 40 14.8 56 3.7 16 8.2 58 2.6 37.9 0.2 16-1.2 16-8.7 61-7.1 65-4.1 29.9-2.7 14-4.1 16.8-13.4 47.2-7.2 32-6 30-2.5 16-8.2 67.9-1.4 22-25.3 0 0-667.7z"/>
<path fill="#f50000" d="M157.7 1006.2l0.9 12 2.5 12 10.2 42 16.1 60 3 14 7.8 58 2.3 37.9 0 16-1.6 18-7.9 56-7 65.5-4 29.5-2 11.3-4 16.6-14.9 53-6.4 28-6.4 32-2.8 18-8.4 67.9-1.3 20-23.8 0 0-667.7z"/>
<path fill="#f10000" d="M156.2 1006.2l0.7 10 2.3 12 9.9 40 16.3 60 3.7 16 7.9 58 2.4 39.9-0.1 16-2.2 24-7.2 50-6 58-5.1 37.9-2.6 14-4.2 16.8-13.6 47.2-7.2 32-6 30-2.3 14-9.9 75.9-0.9 16-22.1 0 0-667.7z"/>
<path fill="#ed0000" d="M154.6 1006.2l0.7 10 2 10 11.7 46 16.1 58 3.2 14 7.9 60 2.1 37.9-0.1 16-1.9 22-7.4 52-5.8 56-5.3 39.9-1.8 10.2-4 16.4-15.2 53.4-12 56-2.5 14-8.3 61-3.4 20.9-0.9 14-11.6 0-0.3-4-1.8-5.5-2-1.6-4-0.5 0-656.1z"/>
<path fill="#e90000" d="M153 1006.2l0.7 10 2.6 12 10.9 42 17 60 2.9 12 8.1 62 2.2 39.9-0.3 16-2.2 24-6.9 47.2-6 57.8-5.9 42.9-6.1 25.9-12.9 44.1-6.1 26-9.3 46-9.7 65.6-2 9.6-2 6.3-2 2.2-2-2.7-6-13.5-2-2.1-2-0.9-4-0.4 0-631.9z"/>
<path fill="#e50000" d="M151.3 1006.2l0.8 10 2.1 10 11.9 44 16.8 58 3.4 14 8 62 2 35.9-0.1 18-2.1 24-7 48-5.8 56-6.3 45.9-5 21.6-13.1 44.4-3.9 16-11.9 56-9.1 57.3-2 8.2-2 4.3-2-0.4-0.8-1.5-7.2-17.9-2-2.3-2-1-4-0.4 0-610.1z"/>
<path fill="#e10000" d="M149.6 1006.2l0.8 10 2.2 10 12.2 44 17.2 58 3.5 14 7.7 60 2.1 35.9 0 20-2.2 24-7 48-5.5 54-6.7 47.9-5.9 24.6-14.9 51.4-12.5 58-8.6 48.9-2 6.4-2 2.1-2-2.5-6-18.1-2-4.4-2-2.5-2-1-4-0.4 0-588.3z"/>
<path fill="#dd0000" d="M147.9 1006.2l0.9 10 2.2 10 12.6 44 17 56 4.2 16 7.5 60 2 31.9 0.1 22-2.2 26-7.1 48-5.3 52-6.7 47.9-5.1 22.2-15.2 51.8-13.7 62-5.1 27.7-2 8.1-2 4.5-2-0.2-2-4.3-5-17.8-1.7-8-0.9-8-2.4-42.6-2-20.1-2-7-2-1.6 0-490.5z"/>
<path fill="#d90000" d="M146.2 1006.2l0.6 8 2.1 10 13.5 46 17.6 56.5 4 15.5 7.6 62 1.9 33.9-0.2 20-2.1 24-7.2 48-5.2 52-7.2 49.9-5.6 23.1-14.6 48.9-17.4 77.5-2 6.6-2 2.2-2-2.3-2.3-8-1.3-8-1-12-4.6-112-1.6-63.9-1.7-243.9 1.8-134z"/>
<path fill="#d50000" d="M144.5 1006.2l0.6 8 2.2 10 13.9 46 16.8 52.6 5.2 19.4 1.8 12 5.7 50 1.9 33.9-0.2 20-2.1 24-7.3 48-5 50-7.5 51.9-4.5 18.8-15 49.2-15 61.7-2 6.4-2 3.9-2-1-1.6-7-2.5-26-4.7-96-1.5-61.9 0-48-2.2-193.9 2.6-132z"/>
<path fill="#d10000" d="M122 1006.2l20.8 0 0.6 8 2.2 10 15 48 15.4 46.9 6 21.1 2 12 5.6 50 2.1 31.9-0.2 22-2.1 26-7.4 48-5 50-7.6 51.9-5.4 21.3-14.7 46.7-9.3 35.6-4 11-2 2.3-2-2.2-2-8.7-2-19.4-4.9-76.6-1.6-57.9-0.2-52-2.6-191.9z"/>
<path fill="#cd0000" d="M124 1006.2l16.9 0 0.6 8 2.3 10 35.4 108 2.5 10 1.8 12 5.6 51.9 1.7 28-0.2 22-2.2 26-7.4 48-5 50-7.8 51.9-2.2 9.9-4 13.6-20 59.8-2 4.3-2 2.4-2 0.4-2-2-2-6.2-2-13.3-2-19.5-3.4-43.4-1.7-53.9-0.2-52-1.3-56-1.7-135.9 1.8-76z"/>
<path fill="#c90000" d="M126 1006.2l12.6 0 0.7 8 1.8 8 28.9 84.2 9 27.8 2.3 10 1.4 10 5.5 51.9 1.6 24-0.1 24-2.2 28-7.5 48-4.7 48-8 51.9-1.7 8-3.6 12.8-10 27.4-6 12.8-2 2.7-2 1.5-2 0.5-2-0.1-2-0.8-2-2.6-2-6.5-2-12-2-15.7-1.8-20-2-53.9-0.2-52-1.5-54-2-137.9 2.3-80z"/>
<path fill="#c50000" d="M133.5 1006.2l1.6 8 12.9 32.6 22 62.5 9.3 28.9 2.4 14 5.1 48 2.2 31.9-0.3 24-2.2 26-7.8 50-4.7 48.2-8 50.2-4 15.2-4 11.1-4 8.8-4 5.8-2 1.4-4 0.8-6-0.2-2-0.7-2-2.3-2-5.2-2-9.4-2.4-21.8-2.3-53.9 0-48-2-58-2-139.9 1.5-50 2.6-44 2.6-19.8 2.7-14.2z"/>
<path fill="#c10000" d="M132 1030.6l2-0.2 2 0.6 2 1.6 4 6.1 4 8.6 20 53.5 12 35.5 1.8 7.9 1.4 10 5.3 51.9 1.5 22-0.2 26-2 26-7.9 50-4.2 44-5.7 37.1-4 21.4-4 12.8-4 8.2-2 2.6-2 1.4-4 0.7-8 0-4-0.7-2-2.1-2-5.1-2-11.2-0.7-7.2-2.7-49.9-0.1-50-2.2-56-2.4-139.9 1.7-48 2.4-36.6 2-13.7 2-5.6z"/>
<path fill="#bd0000" d="M132 1045.7l4-0.5 4 1.1 2 1.7 4 6.3 16 38.9 14 39.2 2.6 9.8 1.4 8.2 5.4 53.8 1.5 19.9 0.1 26-1.7 26-1.8 14-6.9 42-5.1 50-5.5 31.5-4 18.2-2 5.6-2 3.7-2 2.2-4 1.4-14-0.1-2-0.7-2-2.6-2-7.2-0.7-6.1-3.3-43.6-0.3-52.3-2.6-58-2.5-135.9 1.4-39.7 2-28.8 2-15.6 2-6.3z"/>
<path fill="#b90000" d="M136 1060.1l6 0.4 2 0.9 2 1.9 4 6.4 12 27 14 38.5 2 7.7 1.4 9.3 5.3 53.9 1.4 20-0.1 26-1.9 26-8.5 54-3.6 38.1-2 14.1-4 19.6-4 15-2 4.8-2 2.5-4 1.1-14-0.1-2-0.2-2-1.4-2-4.6-2-11.2-2.8-29.7-0.3-48-2.9-58-2.7-137.9 2.2-44 2.5-22.2 2-6.9 2-2.3z"/>
<path fill="#b50000" d="M132 1075l4-0.7 8 0.1 4 1.3 2 1.9 4 6 4 7.8 10 24.1 7.3 20.7 2.5 10 6.7 67.9 0.9 26-1.8 34-2 16-6.9 40-4.7 45.6-2 10.8-4 13.4-2 3.5-2 1.5-2 0.4-18 0.1-2-0.3-2-1.1-2-3.5-2-8.4-1.3-12-0.5-12-0.1-36-3.3-62-2.9-127.9 1-26 1.7-22 1.4-10.5 2-6.5z"/>
<path fill="#b10000" d="M132 1087.3l4-0.7 10 0 4 0.6 2 1.1 2 2 4 6.1 6 12.7 8 20.1 4.5 15 1.5 10 4.9 51.9 1.4 18 0.2 14-0.7 20-2 24-8.6 50-3.2 31.7-2 13.4-2 7.4-2 4.2-2 1.9-2 0.6-20 0.1-2-0.2-2-1.2-2-3.8-1.9-12.1-0.6-42-2.7-36-1.2-26-3-125.9 1.4-30.5 2-17.3 2-6.9z"/>
<path fill="#ad0000" d="M132 1099.1l4-0.8 16 0.3 4 1.9 2 2.2 6 10.6 8 19.1 3.6 11.8 1.6 12 6.3 69.9-0.1 20-1.4 24-2.4 20-8.1 44-3.5 29-2 9.6-2 4-2 1.3-2 0.4-18 0-4-0.6-2-2.1-1.9-9.6-1.1-34-3-33.7-1.4-24.3-3.2-125.9 0.6-20.1 2-19 2-7.6z"/>
<path fill="#a90000" d="M134 1110.2l20-0.1 4 1.1 2 1.6 2 2.4 4 7 6 13.7 2 6.3 2 10.7 6.6 73.2-0.1 20-1.5 24-3 23.9-12 56.3-2 3.9-2 1.3-2 0.2-18 0-2-0.5-2-2.6-2-11.4-4-32.8-2-24.7-1.2-29.6-2.5-109.9 1.7-22.5 2-8.2 2-2.7z"/>
<path fill="#a50000" d="M134 1121.9l22-0.1 4 0.5 2 0.9 4 4.6 4 7.5 2 4.9 2.4 10 7.1 71.9 0.4 14-0.7 18-2.4 28-4.8 25.6-4 14.3-2 4.4-2 2.5-2 0.9-20 0.2-4-0.7-2-2.1-2-5.1-2-9.6-2.4-20.4-1.6-28-1.2-36-1.5-77.9 0.7-15.3 1.8-8.7 2.2-3.6z"/>
<path fill="#a10000" d="M134 1133.8l26 0 4 0.6 2 1.2 2 2.3 2 3.3 2 5.1 2 10.9 6.7 66.9 0.2 12-0.9 20-2 24.4-4 20.6-4 12.6-2 3-2 1.3-2 0.3-20 0.1-4-0.6-2-1.8-2-4.7-2-9.8-2.1-19.4-1.9-39.8-1.3-82.1 0.2-12 1.1-9.9 2-3.7z"/>
<path fill="#9d0000" d="M166 1148.1l2 0.9 2 2.6 2 6.8 6.7 53.7 1.2 16-0.1 12-1.8 29.5-2 15.8-4 15.4-2 4.4-2 2.2-2 0.8-22 0.2-4-0.6-2-1.9-2-5-1-4.8-2.2-18-1.9-36-0.8-30 0-35.9 0.3-14 1.2-10 0.4-1.7 2-2.2z"/>
<path fill="#990000" d="M136 1167.8l30-0.2 2 0.4 2 2.1 2 5.8 4 23.1 2 16.6 0.9 12.5-0.1 10-1 18-2.5 24-1.3 6.8-2 6.1-2 3.4-2 1.5-4 0.6-22-0.1-2-0.6-2-2-2-5.4-2-13-1.9-29.3-0.9-36 0.8-31.8 2-10.7z"/>
<path fill="#950000" d="M136 1187.7l2-0.9 2-0.2 26 0 2 0.3 2 1.1 2 3.5 2 7.2 2 11.5 1.6 15.9 0.1 12-1.7 23.4-2 15.5-2 7-2 3-2 1-26 0.2-2-0.6-2.4-3.5-1.6-5.8-2-19.6-1.6-30.6 0.7-27.9 0.9-8z"/>
<path fill="#910000" d="M140 1201.9l28 0.1 2 0.7 2 2.5 2 5.9 2 11.8 0.1 17.2-2.1 20.1-2 9.7-2 4-2 1.1-26 0-2-1-2-3.9-2-10.8-2-21.2-0.2-18 0.6-8 1.6-7.7 2-2.1z"/>
<path fill="#8d0000" d="M138 1218l2-1.2 2-0.3 24 0 4 0.6 2 2 2 6.9 0.2 10.1-2.2 12.1-2 3.2-2 0.9-2 0.2-20 0-4-0.2-2-0.9-2-3.6-2-11.7 0-11.4z"/>
</g></g>
<linearGradient id="gc129" gradientUnits="userSpaceOnUse" x1="593.8" x2="618.7" y1="0" y2="0"><stop offset="0" stop-color="#0000fa"/><stop offset="0.2" stop-color="#0061ff"/><stop offset="0.5" stop-color="#00f0ff"/><stop offset="0.8" stop-color="#4dffb2"/><stop offset="1" stop-color="#80ff80"/></linearGradient>
<path fill="url(#gc129)" d="M593.8 1218.6l11.2 6.3 13.7 0-13.7 3.7 0 10-11.2 5z"/>
<path fill="#0000e6" d="M580 1258.6l13.8-7.5 0 6.3-13.8 7.5z"/>
<path fill="#0000e6" d="M580 1336.1l13.8-6.3 0 6.3-13.8 6.7z"/>
<rect x="203.21" y="1337.9" width="157.6" height="3.4" fill="url(#rg)" fill-opacity="0.45" filter="url(#b1)"/>
<rect class="ax" x="113.9" y="1012.2" width="630.4" height="654.8"/>
<path class="tc" d="M218.97 1667v-6.6M218.97 1012.2v6.6M324.03 1667v-6.6M324.03 1012.2v6.6M429.1 1667v-6.6M429.1 1012.2v6.6M534.17 1667v-6.6M534.17 1012.2v6.6M639.23 1667v-6.6M639.23 1012.2v6.6M113.9 1077.68h6.6M744.3 1077.68h-6.6M113.9 1143.16h6.6M744.3 1143.16h-6.6M113.9 1208.64h6.6M744.3 1208.64h-6.6M113.9 1274.12h6.6M744.3 1274.12h-6.6M113.9 1339.6h6.6M744.3 1339.6h-6.6M113.9 1405.08h6.6M744.3 1405.08h-6.6M113.9 1470.56h6.6M744.3 1470.56h-6.6M113.9 1536.04h6.6M744.3 1536.04h-6.6M113.9 1601.52h6.6M744.3 1601.52h-6.6"/>
<text class="d tk" text-anchor="middle" transform="translate(114.2 1697.9) scale(1 1.05)">0</text>
<text class="d tk" text-anchor="middle" transform="translate(219.27 1697.9) scale(1 1.05)">100</text>
<text class="d tk" text-anchor="middle" transform="translate(324.33 1697.9) scale(1 1.05)">200</text>
<text class="d tk" text-anchor="middle" transform="translate(429.4 1697.9) scale(1 1.05)">300</text>
<text class="d tk" text-anchor="middle" transform="translate(534.47 1697.9) scale(1 1.05)">400</text>
<text class="d tk" text-anchor="middle" transform="translate(639.53 1697.9) scale(1 1.05)">500</text>
<text class="d tk" text-anchor="middle" transform="translate(744.6 1697.9) scale(1 1.05)">600</text>
<text class="d tk" text-anchor="end" transform="translate(104 1020.7) scale(1 1.05)">1</text>
<text class="d tk" text-anchor="end" transform="translate(104 1086.18) scale(1 1.05)">0.8</text>
<text class="d tk" text-anchor="end" transform="translate(104 1151.66) scale(1 1.05)">0.6</text>
<text class="d tk" text-anchor="end" transform="translate(104 1217.14) scale(1 1.05)">0.4</text>
<text class="d tk" text-anchor="end" transform="translate(104 1282.62) scale(1 1.05)">0.2</text>
<text class="d tk" text-anchor="end" transform="translate(104 1348.1) scale(1 1.05)">0</text>
<text class="d tk" text-anchor="end" transform="translate(104 1413.58) scale(1 1.05)"><tspan class="mn" dy="-1.7">−</tspan><tspan dy="1.7">0.2</tspan></text>
<text class="d tk" text-anchor="end" transform="translate(104 1479.06) scale(1 1.05)"><tspan class="mn" dy="-1.7">−</tspan><tspan dy="1.7">0.4</tspan></text>
<text class="d tk" text-anchor="end" transform="translate(104 1544.54) scale(1 1.05)"><tspan class="mn" dy="-1.7">−</tspan><tspan dy="1.7">0.6</tspan></text>
<text class="d tk" text-anchor="end" transform="translate(104 1610.02) scale(1 1.05)"><tspan class="mn" dy="-1.7">−</tspan><tspan dy="1.7">0.8</tspan></text>
<text class="d tk" text-anchor="end" transform="translate(104 1675.5) scale(1 1.05)"><tspan class="mn" dy="-1.7">−</tspan><tspan dy="1.7">1</tspan></text>
<text class="d lb" text-anchor="middle" transform="translate(428.5 1738.8) scale(1 1.1)">E [keV]</text>
<text class="d lb" transform="translate(26.1 1378.4) rotate(-90) scale(1 1.1)">v<tspan class="sb" dx="1.2 1.7" dy="14.2">||</tspan><tspan dx="4.5 3.6" dy="-14.2">/v</tspan></text>
<text class="d ti" text-anchor="middle" transform="translate(429.7 1001.8) scale(0.98 1.1)">n(H)=1% (ref)</text>
<text class="t" transform="translate(114.1 988.1) scale(1 0.98)" font-size="70">(c)</text>
<rect x="785.1" y="1010.9" width="46.4" height="657.1" fill="url(#jet)"/>
<rect x="785.5" y="1011.3" width="45.6" height="656.3" fill="none" stroke="#000" stroke-opacity=".32" stroke-width="1.3"/>
<path d="M831.5 1093.04h-7.6M831.5 1175.18h-7.6M831.5 1257.31h-7.6M831.5 1339.45h-7.6M831.5 1421.59h-7.6M831.5 1503.73h-7.6M831.5 1585.86h-7.6" fill="none" stroke="#000" stroke-opacity=".5" stroke-width="1.6"/>
<text class="d cb" transform="translate(839.9 1021.3) scale(1 1.07)">10<tspan class="ex" dx="1.2" dy="-8">16</tspan></text>
<text class="d cb" transform="translate(839.9 1103.44) scale(1 1.07)">10<tspan class="ex" dx="1.2" dy="-8">15</tspan></text>
<text class="d cb" transform="translate(839.9 1185.58) scale(1 1.07)">10<tspan class="ex" dx="1.2" dy="-8">14</tspan></text>
<text class="d cb" transform="translate(839.9 1267.71) scale(1 1.07)">10<tspan class="ex" dx="1.2" dy="-8">13</tspan></text>
<text class="d cb" transform="translate(839.9 1349.85) scale(1 1.07)">10<tspan class="ex" dx="1.2" dy="-8">12</tspan></text>
<text class="d cb" transform="translate(839.9 1431.99) scale(1 1.07)">10<tspan class="ex" dx="1.2" dy="-8">11</tspan></text>
<text class="d cb" transform="translate(839.9 1514.13) scale(1 1.07)">10<tspan class="ex" dx="1.2" dy="-8">10</tspan></text>
<text class="d cb" transform="translate(839.9 1596.26) scale(1 1.07)">10<tspan class="ex" dx="1.2" dy="-8">9</tspan></text>
<text class="d cb" transform="translate(839.9 1678.4) scale(1 1.07)">10<tspan class="ex" dx="1.2" dy="-8">8</tspan></text>
<text class="d cu" transform="translate(737.2 986.2) scale(1 1.1)" dx="0 -0.3 4.6 2.8 -1.1">[1/(m<tspan class="su" dx="3" dy="-8.2">3</tspan><tspan dx="3.6 3 0 1 3.6 -0.8" dy="8.2">·keV)]</tspan></text>
<ellipse cx="113.9" cy="1443" rx="1.2" ry="11.5" fill="#333" fill-opacity=".5"/>
<ellipse cx="744.3" cy="1443" rx="1.2" ry="11.5" fill="#333" fill-opacity=".5"/>
<ellipse cx="785.5" cy="1443" rx="1.2" ry="11.5" fill="#333" fill-opacity=".5"/>
<ellipse cx="831.1" cy="1443" rx="1.2" ry="11.5" fill="#333" fill-opacity=".5"/>
</g>
<g id="panel-d">
<clipPath id="cd"><path clip-rule="evenodd" d="M1085 1016.2l91.2 0 1.2 13.8 12.5 6.2 12.5 0 1.3 7.5 11.2 6.3 12.5 6.2 1.3 11.3 13.7 6.2 0 20 12.5 7.5 13.8-6.2 0 19.9-12.5 6.3 0 20 13.7 6.2 25 0 1.2 6.3 11.3 6.2 1.2 15 13.8 6.3 25-1.3 12.5-6.2 0 26.2 13.7 6.2 26.2 12.5 0 40-13.7 6.3 0 12.5-12.5 6.2 0 46.2-27.5 0-12.5 6.3 0 26.2-12.5 6.3 0 18.7-13.7-5-11.3 7.5 11.3 6.3 0 5-12.5-6.3-26.2 12.5 0 7.5 11.2 7.5-11.2 6.2 13.7 6.3 0 51.2-26.2 6.3-1.3 18.7-25-3.8-13.7 6.3-1.3 32.5-12.5 6.2 0 26.3-26.2 12.5 0 66.2-11.2 1.2-12.5 5-67.5 0zM1217.4 1093.7l12.5-5 12.5 5-12.5 6.3z"/></clipPath>
<g clip-path="url(#cd)"><g filter="url(#bl)">
<rect x="1075" y="1006.2" width="335.8" height="667.7" fill="#0038ff"/>
<path fill="#0048ff" d="M1410.8 1006.2l0 667.7-335.8 0 0-667.7zM1302.5 1394.1l0.4 0.8 0.1-0.8z"/>
<path fill="#0058ff" d="M1410.8 1006.2l0 667.7-335.8 0 0-667.7zM1300.7 1394.1l0.2 2 2 0.5 0.7-0.5 0.3-2-1-0.9z"/>
<path fill="#0068ff" d="M1410.8 1006.2l0 667.7-335.8 0 0-667.7zM1300.1 1394.1l0.2 2 0.6 0.6 2 0.5 1.7-1.1 0.2-2-1.9-1.7-2 0.6z"/>
<path fill="#0078ff" d="M1410.8 1006.2l0 667.7-335.8 0 0-667.7zM1301.3 1392.1l-1.8 2 0.2 2 1.2 1.3 2 0.5 2.3-1.8 0.2-2-1.9-2z"/>
<path fill="#0087ff" d="M1410.8 1006.2l0 667.7-335.8 0 0-667.7zM1300.3 1392.1l-1.4 2 0.1 2 1.9 2 2 0.3 2-1.1 0.9-1.2 0.1-2-1-1.8-2-1z"/>
<path fill="#0097ff" d="M1410.8 1006.2l0 667.7-335.8 0 0-667.7zM1299.6 1392.1l-1.2 2 0.1 2 1.5 2 2.9 0.8 2-0.8 1.4-2 0.1-2-1-2-2.5-1.3-2 0.3zM1215.6 1488l1.3 0.4 0.4-0.4-0.4-1.9zM1206.3 1564l0.6 1.8 2-0.6 0.5-1.2z"/>
<path fill="#00a7ff" d="M1410.8 1006.2l0 667.7-335.8 0 0-667.7zM1385.8 1270.1l-1 2 2 0.8 0.7-0.8-0.3-2zM1298.8 1392.1l-0.9 2 0.1 2 1.2 2 1.7 1.1 2 0.2 2.7-1.3 1.2-2 0.1-2-0.9-2-1.1-1.1-2-0.7-2 0.3zM1214.9 1486l0 2.5 2 0.5 1.1-1-0.4-2-0.7-0.5zM1205.1 1564l0.6 2 1.2 0.4 3-0.4 0.6-2-1.6-0.7-2-0.1z"/>
<path fill="#00b7ff" d="M1410.8 1006.2l0 667.7-335.8 0 0-667.7zM1384.5 1270.1l-0.2 2 0.5 1.1 2 0.7 1.4-1.8-0.3-2-1.1-1zM1301 1390.1l-2.8 2-0.8 2 0.1 2 1.4 2.4 2 1.2 2 0.2 2-0.6 1.4-1.2 1.1-2 0.1-2-0.9-2-1.7-1.7-2-0.6zM1214.4 1486l-0.3 2 0.8 1.1 2 0.6 1.9-1.7-0.4-2-1.5-1zM1204.4 1564l0.2 2 2.3 0.9 2-0.1 2-0.8 0.5-2-2.5-1.2-2 0z"/>
<path fill="#00c7ff" d="M1410.8 1006.2l0 667.7-335.8 0 0-667.7zM1235.1 1072.2l0.5 2 1.8 0 0.2-2-0.7-0.5zM1384 1270.1l-0.2 2 1 2 2 0.5 0.8-0.5 1.3-2-0.2-2-1.9-1.7-2 0.5zM1318.2 1366.1l-0.4 2 1.1 1.5 2 0.3 1.6-1.8-0.4-2-1.2-1-2 0.3zM1299.8 1390.1l-2.2 2-0.7 2 0.1 2 0.8 2 3.1 2.2 2 0.2 2-0.6 2.1-1.8 0.9-2 0.1-2-0.7-2-2.4-2.3-2-0.5zM1213.9 1486l-0.2 2 1.2 1.8 2 0.4 2.4-2.2-0.3-2-2.1-1.5-2 0.4zM1203.7 1564l0.2 2 3 1.3 4-0.7 1-0.6 0.4-2-3.4-1.7-2 0z"/>
<path fill="#00d7ff" d="M1410.8 1006.2l0 667.7-335.8 0 0-667.7zM1234 1070.2l-1.2 2 0.1 2 1.7 2 2.3 0.5 2-0.9 1.1-1.6 0.2-2-1.1-2-2.2-1zM1385.1 1268.1l-1.6 2-0.2 2 1.5 2.8 2 0.4 2-1.6 0.7-1.6-0.2-2-2.5-2.3zM1318.7 1364.1l-2 2-0.2 2 1 2 1.4 0.9 2 0.2 2-1.1 1-2-0.2-2-0.8-1.2-2-1.2zM1298.8 1390.1l-1.8 2-0.7 2 0 2 0.9 2 1.7 1.8 2 1 2 0.2 2-0.6 2.8-2.4 0.8-2-0.5-4-1.8-2-3.3-1.4-2 0.2zM1216.8 1484l-1.9 0.4-1.5 1.6-0.2 2 1.7 2.3 2 0.3 2-1.1 0.8-1.5-0.2-2zM1206.4 1562l-3.4 2 0.2 2 1.7 1.2 4 0.5 2-0.5 1.9-1.2 0.3-2-2.2-1.7-2-0.5z"/>
<path fill="#00e7ff" d="M1410.8 1006.2l0 667.7-335.8 0 0-667.7zM1233.9 1068.2l-2 2-0.7 2 0.2 2 1 2 2.5 1.7 2 0.3 2-0.6 1.8-1.4 1.1-2 0.1-2-0.6-2-2.4-2.3-2-0.6zM1384.2 1268.1l-1.2 2-0.2 2.4 0.6 1.6 1.4 1.5 2 0.4 2.6-1.9 0.7-2-0.2-2-1.1-1.7-2-1.2zM1316.9 1364.1l-1.2 2-0.3 2 1.5 3 2 1.2 2 0.1 2-0.8 1.4-1.5 0.8-2-0.2-2-1.1-2-2.9-1.5-2 0.3zM1297.8 1390.1l-1.5 2-0.6 4 0.7 2 1.6 2 2.9 1.5 2 0.1 2-0.4 2-1.3 1.6-1.9 0.7-4-0.6-2-1.4-2-2.3-1.6-2-0.3-2 0.1zM1214.7 1484l-1.8 2-0.2 2 1.2 2 1 0.8 2 0.3 2-0.9 1.3-2.2-0.2-2-1.1-1.4-2-1zM1204.9 1562l-2.5 2 0.1 2 2.4 1.8 4 0.5 2-0.5 2.9-1.8 0.2-2-3.1-2.4-4-0.3zM1177.9 1625.9l1 2.5 1-2.5-0.2-2-0.8-1z"/>
<path fill="#00f7ff" d="M1410.8 1006.2l0 667.7-335.8 0 0-667.7zM1233.6 1066.2l-2.4 2-1 2-0.2 4 0.8 2 2.1 2.2 2 0.8 4-0.1 2-1.1 1.7-1.8 0.9-2-0.1-4-2.5-3.5-2-1.1-2-0.3zM1382.4 1270.1l-0.2 2 0.6 2.2 2 2.2 2 0.4 2-1 1.4-1.8 0.4-2-0.1-2-1.1-2-2.6-1.4-2 0.3zM1318.2 1362.1l-2.6 2-1 2-0.2 2 0.5 2 2 2.5 2 0.9 4-0.5 2.9-2.9 0.4-4-0.8-2-2.5-2.1-2-0.5zM1299.9 1388.1l-3 2-1.3 2-0.6 4 0.5 2 3.4 3.5 4 0.9 2-0.5 2-0.9 2.5-3 0.6-2-0.4-4-2.7-3.4-2-0.9-2-0.4zM1214.1 1484l-1.6 2-0.1 2 0.9 2 1.6 1.2 2 0.3 2-0.7 1.7-2.8-0.1-2-1.5-2-2.1-0.8zM1203.9 1562l-2.2 2 0.1 2 3.1 2.4 2 0.5 4-0.3 3.9-2.6 0.2-2-1.9-2-2.2-1-4-0.2zM1176.7 1623.9l0 4 2.2 3.1 2-2 0.6-5.1-0.6-2-2-1.3z"/>
<path fill="#08fff7" d="M1410.8 1006.2l0 667.7-335.8 0 0-667.7zM1235.7 1062.2l-2.8 1.2-2 1.8-1.9 3-0.8 4 1.1 4 1.5 2 2.1 1.6 4 1 4-1 2.2-1.6 2.6-4 0.4-4-1.2-3.4-2-2.7-4-2.3zM1386.8 1266.1l-2 0.4-1.9 1.6-1 2-0.2 2 0.4 2 1.2 2 1.5 1.4 2 0.3 2-0.7 1.1-1 1.6-4-1.3-4-1.4-1.3zM1316.1 1362.1l-1.8 2-0.8 2 0.1 4 1.3 2.3 2 1.8 2 0.8 4-0.3 2-1.2 2.5-3.4 0.5-2-0.8-4-1.5-2-2.7-1.5-2-0.3-2 0.3zM1298 1388.1l-2.2 2-1.7 4-0.1 2 1.5 4 3.4 2.8 2 0.6 4-0.2 2-1.1 2.4-2.1 1.2-2 0.5-4-1.4-4-2.7-2.5-2-0.9-4 0zM1274.4 1446l-3.5 3.5-1.6 2.5-1.4 6 1.5 8 1.5 3.6 2 1.9 2 0 2-1.3 2-2.6 2.3-5.6 0.8-6-0.5-6-1.7-4-0.9-1-2-0.3zM1213.4 1484l-1.3 2-0.1 2 0.9 2.2 2 1.5 2 0.2 2-0.6 1.4-1.3 0.9-2-0.2-2-1.3-2-2.8-1.3-2 0.3zM1202.9 1562l-1.8 2 0 2 1.8 2.1 2 1.1 6 0.2 3.2-1.4 2.1-2 0.2-2-1.6-2-1.9-1.2-6-0.5zM1176.9 1621.1l-0.8 2.8 0 4 0.8 3.4 2 1.9 2-0.7 1.4-2.6 0.6-6-0.4-2-1.6-2.7-2-0.2z"/>
<path fill="#18ffe7" d="M1410.8 1006.2l0 667.7-335.8 0 0-667.7zM1218.8 1026.2l-0.9 4 0.9 6 4.1 14 4.1 10 0.3 2-1.1 8 1.3 6 1.4 2.1 4 3.1 4 0.8 4-0.5 5.7-3.5 7.8-8 1-4 0-4-0.9-6-1.9-6-2.8-6-4.1-6-4.8-4.9-4-3.1-4-2.4-6-2.4-4-0.6-2 0.2zM1384.4 1266.1l-2.1 2-0.9 2 0 4 1.4 3 2 1.8 2 0.5 2-0.6 2.8-2.7 0.7-2-0.1-4-1.1-2-2.3-2.1-2-0.6zM1370.2 1294.1l-4.7 2-8.5 6-4.8 4-2.9 4-2.5 8-1.1 12 0.3 4 0.9 2 2 1.4 4 0.8 4-0.5 4-1.3 4-2.3 6.9-6.1 5.2-8 1.6-4 1.5-6 0.3-6-0.5-4-1.1-2.8-2-2.2-2.2-1zM1316.8 1360.1l-1.9 1.4-1.9 2.6-0.8 2 0 4 1.8 4 2.9 2.4 2 0.8 4-0.1 4-2.3 2.1-2.8 1.3-4-0.5-4-2.9-3.8-2-1.2-4-0.4zM1296.9 1387.5l-2.4 2.6-1.5 4 0 4 0.6 2 3.3 3.7 4 1.7 4-0.3 4-2 2.7-3.1 1.2-4-0.3-4-2.4-4-3.2-2-4-0.9zM1280.1 1426l-7.2 5.1-9.6 8.9-4.3 6-2.3 6-0.7 4-0.1 6 2.2 18 0.8 13.9 2 3.4 2 0.9 4 0 4-1.1 6-3.2 4.9-3.9 3.7-4 4.2-6 2.9-6 2-6 1.4-8 0.2-8-0.7-6-2-8-3.6-8-3-3.8-2-1-2-0.1zM1212.8 1484l-1.1 2-0.1 2 1.3 2.8 2 1.3 2 0.4 2-0.6 2-1.9 0.8-2-0.1-2-1.2-2-1.5-1.1-2-0.6-2 0.3zM1206.3 1560l-3.4 1.2-2.5 2.8-0.1 2 2.6 3.2 4 1.5 4 0 4-1.4 3.5-3.3 0.1-2-1.2-2-2.4-1.7-4-1.2zM1178.5 1617.9l-1.6 1.6-0.9 2.4-0.6 6 1.5 5.5 2 2.2 2 0.3 2-1.8 1.1-2.2 0.8-4-0.1-6-0.5-2-1.3-2-2-1z"/>
<path fill="#28ffd7" d="M1200 1006.2l1 8 7.2 14 3.5 8 6.4 22 7.2 18 3 4 4.6 3 6 0.9 8-1.1 4 1 4 2.8 5.7 5.4 4.6 6 2.8 6 1.8 8 1.4 12 1.4 4 1.7 2 3.1 2 15.5 7.1 4 2.5 6 5.9 13.1 16.5 4.8 4 8.1 1.7 22 2.6 4 1.3 6 3.5 5.3 4.9 8.6 12.1 3.7 3.9 16.3 10.8 6 5.1 3 4 2 4 2.3 8 0.6 10-1 12-2 8-4.3 8-4.6 4.4-2-0.3-0.8-2.1-3.5-4-1.7-1-2-0.4-2 0.4-3.2 3-1.1 4 0.6 4 1.7 4-0.1 2-3.9 2.7-11.9 4.5-9.6 4.8-8.4 5.3-4.9 4.7-3.7 6-3.5 10-0.3 2 3.7 6 0.2 2-0.6 2-2.9 3-3 1-3.3 2-5 14-1.2 2-9.5 5.3-2.5 2.7-1.1 2-1.1 4 0.9 8-0.1 2-1.1 2-3.2 2-7.8 2.1-2 1-3.2 2.9-2.5 4-2.3 8-4.9 7.9-6.8 8-16.3 15.3-4 4.9-3.7 5.8-2.5 6-1.3 6-0.5 8 0.3 22-1.1 6-2.2 6-9.4 16-15.6 20.3-4 8.2-6 15.5-2.2 2-5.8 2.5-3.3 3.5-0.1 2 1 2 3.3 4-0.2 2-10.7 20.1-8.5 17.8-2 2-3.5 2.1-2 2.2-1.6 3.7-0.6 4 0.3 4 1.9 5.9 3.7 6.1 0.6 4-0.5 28-105.7 0 0-667.7zM1214.9 1482.1l-2.6 1.9-1 2-0.1 2 0.6 2 1.1 1.4 2 1.3 2 0.3 2-0.5 2.8-2.5 0.6-2-0.1-2-1.1-2-2.2-1.7z"/>
<path fill="#38ffc7" d="M1195.8 1006.2l0.4 6 0.9 4 9.6 20 2 6 4.2 17.8 4 9.2 4.7 7 5.6 6 5.7 3.4 12 3.1 6 4.3 6 6.1 3.5 5.1 1.9 4 1.9 6 3.3 14 1.4 3.3 2 2.9 4 3.1 16 8.4 4 2.6 6 5.7 12 14.2 6 5.2 6 2 26 4.8 4 1.7 4 2.5 4.1 3.6 9.7 12 4 4 16.1 11.7 4.8 4.2 3.9 6 2.4 8 0.3 8-0.8 8-1.8 6-3.2 6-3.6 3.5-2 0.1-6-1.8-2 0.5-2 1.2-2.8 4.5-0.8 8-1.8 2-26.5 12-6.2 4-5.8 5.6-5.3 8.4-4.3 12 0.9 2 4.7 0.7 2 1.4 1.6 1.9 0.3 2-0.7 2-1.2 1.2-4 1.3-6-1.6-2 0.8-7.4 18.3-7.9 10-4.7 9.6-12 10.7-5.5 5.7-12.5 18.6-18 19.4-4.5 5.9-3.6 6-2.6 6-2.1 8-0.8 8-0.8 22-2.4 10-6.1 12-13.1 18.5-4 6.6-10.3 26.9-1.5 2-4.2 3-2 3-0.2 2 1.3 4-0.1 2-11 22.9-6.5 15-5.5 6.9-2 4.3-0.7 4.8 0.2 4 3.3 12 0.3 4-1 28-102 0 0-667.7zM1214.2 1482l-2.5 2-0.8 2-0.2 2 0.6 2 1.6 2 2 1.3 4-0.1 2-1.3 1.6-1.9 0.3-4-0.9-2-3-2.3-2-0.4z"/>
<path fill="#48ffb7" d="M1192.5 1006.2l0.4 6 1.4 6 8.2 18 6.4 24.8 2.8 7.2 3.2 6 4 5.3 5.2 4.7 4.8 3.2 14 7.7 6 4.9 3.9 4.2 4.9 8 7.1 18 4.1 6.7 4 3.4 16.7 9.9 5.3 3.8 17.2 18.2 4.8 4.1 6 2.7 26 6.2 4 1.6 4 2.4 6 5.3 10.7 11.6 17.2 13.9 4 3.9 4 6.2 1.7 6 0.3 6.5-1.1 7.5-2.9 6.7-4 5-2 0.7-6 0.8-2 1.2-2.9 3.6-3.1 7.8-2 1.5-5.9 3-15.1 5.7-6.9 3.4-6.8 4.6-6 6-5.2 8-15.3 36-7.8 14-4.9 6.3-14 13.1-6 6.6-13.5 20-16.4 19.9-6.1 10-3.4 8-2.1 8-1.1 8-1.6 22-1.1 6-1.8 6-5.7 12-13.2 21.5-11.1 30.5-5.9 8 0 6-0.6 2-16.6 37.9-3.8 5.6-2.2 4.4-0.9 4-0.2 4 2.4 16-1.6 30-99.4 0 0-667.7zM1211.2 1484l-0.9 2-0.1 2 0.6 2 1.3 2 2.8 1.8 2 0.4 4-1.1 2.7-3.1 0.5-2-0.2-2-1.1-2-1.9-1.9-2-1.1-4 0zM1332.9 1325.8l2 0.4 2.4 1.9 0.5 2-1.1 2-1.8 1.2-4-0.2-1.6-1-1.4-2 1-2.5 2-1.4z"/>
<path fill="#58ffa7" d="M1189.4 1006.2l0.4 6 1.3 6 8.4 20 7.4 26.8 4 9.2 6 9 6 5.7 16.4 11.3 7.6 6.7 6 8.1 10.8 19.2 5.2 6.5 24 16.6 17.1 16.9 6.9 5.5 6 2.6 26 7.7 8 4.8 14.1 13.3 20.3 18 4.1 6 1.8 6-0.2 8-1.1 4-1.9 4-2.9 4-2.3 2-6 2.9-1.2 1.1-1.8 2-3 5.2-2 2-5.9 3.4-16 5.6-8.2 3.8-7.8 5.1-7 6.9-5.3 8-13.7 28.6-9 15.4-6.2 8-14.3 14-6.9 8-13.2 20-12.4 16.7-6.7 11.2-4.5 10-2.4 8-1.7 10-2.7 25-4.6 15-2.5 6-11.6 22-10.9 32-4.5 8-1.7 8-15.7 37.9-5.2 10-1.1 8 1.2 16-1.8 18-0.5 12-97 0 0-667.7zM1212.2 1482l-1.7 2-0.9 4 1.3 3.4 2 2.2 4 1.6 4-0.5 3.8-2.7 1.4-2 0.1-2-1.7-4-3.6-3.1-4-0.8-2 0.3zM1332.9 1326.8l2 0.3 1.3 1 0.7 2-2 2.3-2 0.3-1.8-0.6-1.6-2 0.6-2z"/>
<path fill="#68ff97" d="M1186.4 1006.2l0.4 6 1.4 6 8.1 20 8.6 29.2 6 12.7 6 8.4 6 6.1 14.4 11.6 5.6 5.2 6 7.3 14.3 19.5 5.7 6 22 16.4 16.9 15.6 7.1 5.6 6 3.2 25.9 9.2 8.1 4.7 20.1 17.2 12.7 12 4.2 6 1.8 6-0.4 6-2.6 6-3.9 5-6 5.3-6 6.5-5.9 3.7-18 5.9-10 4.8-8 5.3-6 5.8-6.7 9.7-15.3 28.5-3.1 7.5-6.4 6-5.1 6-12 12-9.4 10.9-5.1 7.1-16.9 26.5-6.7 11.4-5.6 12-3.9 12-1.9 10-3 24-0.9 1.7-1.5 0.3-6.5-0.9-4 1.4-3.1 3.5-0.6 2 0.3 4 1.4 2.7 2 2 6.5 3.3 0 2-10.4 24-10.1 32-3.5 8-2.2 8-14.1 35.9-5.5 12-1.1 8 0.3 14-2.5 20-0.6 12-94.7 0 0-667.7zM1332.9 1327.6l2.1 0.5 1 2-1.1 1.3-2 0.5-2.3-1.8 1.1-2z"/>
<path fill="#78ff87" d="M1183.6 1006.2l0.5 6 1.4 6 8.7 22 9.2 30 3.5 8 3.3 6 8.7 11.7 6 6.3 14 13 24 27 6 5.8 44 36.4 6 3.4 24.8 10.4 9.7 6 17.4 13.7 6.7 6.2 9.1 10 2.6 6-0.4 5.7-2.1 4.3-6.8 8-7.1 6.8-5.9 3.3-16 4.3-6 2.8-12.1 6.8-5.2 4-4.1 4-5.9 8-8.8 16-8.7 14-0.1 2 1.2 4-0.6 4-1.7 2.2-2 1.3-8 1-2 1.4-16 16.7-13.5 17.4-18.9 31.9-7.3 16-4.8 14-2.5 12-2.4 20-1 4-7.6 3.4-2.7 2.6-1.8 4-0.1 2 1.1 4 4.9 6 0.2 2-8 22-9.4 32-5.8 18-13.2 35.9-5.1 12-1.1 6-0.4 14-3.3 22-0.8 12-92.4 0 0-667.7zM1332.9 1328.8l2.1 1.3-2.1 0.7-1-0.7z"/>
<path fill="#82ff7d" d="M1181.3 1006.2l0.5 6 1.1 5.4 9 22.6 9.1 30 5.9 13.4 8 12.3 10 11.7 38 39.3 24 22.4 16 13.4 8 5.7 8 4.6 18.6 9.2 8.9 5.9 3.4 4 2.3 4 3.6 8 1.7 6-0.9 6-2.5 8-3.7 10-4.1 8-5 6-16.3 11.8-8.3 8.2-5.7 8-12 20-8.9 12 0.9 1.3 6 1.2 1.5 1.5 1.4 2 0.2 2-0.7 2-2.4 2.2-2 0.6-2-0.1-4.3-2.7-1.3-2-0.4-3.2-2 0.8-10 10-10 11.3-14 18.5-14 24.6-4.9 9.9-7 18-4.2 14-2.3 12-2.7 22-1.1 2-3.8 3.4-1.9 2.6-1.6 4 0.1 4 2.3 6 0.1 4-6.2 20-15 54-11.7 33.9-4.7 12-1 6-1.2 14-4.2 24-0.8 10-90.1 0 0-667.7z"/>
<path fill="#87ff78" d="M1180.7 1006.2l0.4 6 1.4 6 8.7 22 9.7 31.7 6 13.4 8 12.1 8 9.6 16 17.1 44 44.3 18 15.4 6 4.4 8 5.1 20.4 10.9 5.9 3.9 3.5 4 2.1 6 0.2 10-1.1 18-1.9 10-2.6 6-5.1 6-13.4 10.3-7.8 7.7-6.1 8-10.1 16.4-6 8.4-8 9.5-16.5 17.7-11.5 14.4-10.8 15.6-12 22-5.2 11.3-6 16.6-3.9 14-2.2 12-2.8 22-0.9 2-4.2 5.1-1.4 2.9-0.5 4 0.5 4 1.2 4-0.4 4-21.4 78-10.2 29.9-4.6 12-2.5 20-4.4 24-0.8 10-89.4 0 0-667.7zM1290.9 1331.1l4-0.6 2 0.7 2 2.1 0.8 2.8-0.8 2-2 1.8-2 0.7-2-0.2-3.6-2.3-0.8-2 0.1-2z"/>
<path fill="#8cff73" d="M1180.1 1006.2l0.4 6 1.3 6 8.7 22 9.1 30 5.9 14 7.4 12.1 10 12.3 14 15.3 14.3 14.3 31.7 33.3 20 17.1 10 6.5 18.9 11 5.1 3.7 3.5 4.3 1.7 6 0 12-1.1 16-1.7 8-2.6 6-3.1 4-14.3 12-7.7 8-22.7 32-22 24.7-8 10.1-10 13.6-4.8 7.6-11.8 22-4.5 9.9-5.7 16-4.6 16-2.3 12-2.9 24-0.7 2-3.8 6-1.2 4 0.6 12-15.9 62-8 28-11.4 31.9-2.7 20-4.6 24-0.9 10-88.7 0 0-667.7zM1292.9 1331.1l2-0.1 2 0.8 2 2.3 0.5 2-0.8 2-1.7 1.5-2 0.6-2-0.2-3-1.9-0.7-2 0.1-2 1.6-1.9z"/>
<path fill="#91ff6e" d="M1179.5 1006.2l0.4 6 1.3 6 8.7 22 9 30.1 6 14.4 4 7.2 4 5.9 14 16.9 28.1 29.5 27.9 31 18 16 23.4 14.9 8.2 6 3.1 4 1.7 6 0.2 10-1.1 16-1.6 8-2.8 6-3.3 4-11.8 10.4-7.4 7.6-24 32-26.6 31.3-16 23.1-12 22.6-4.9 11-5.5 15.9-4.5 16-2.6 14-2.9 24-4.6 12-0.3 12-16.6 68-6.2 22-11.2 31.9-2.6 18.7-5.1 25.3-0.9 10-88 0 0-667.7zM1292.9 1331.6l2-0.2 2 0.8 1.7 1.9 0.4 2-0.7 2-1.4 1.2-2 0.6-2-0.2-2.4-1.6-0.9-2 0.3-2z"/>
<path fill="#96ff69" d="M1178.9 1006.2l0.4 6 1.3 6 8.6 22 9.7 32 6 14.1 6 10.2 14 17.6 29.9 32.1 28.1 33.2 16 15 20.5 13.7 7.9 6 3.3 4 1.9 6 0.3 10-1 14-1 6-2.4 6-4.8 6-10.8 10-7.5 8-24.9 32-23.2 28-10.3 14.8-7 11.2-11.4 22-5.2 12-5.2 15.9-4.2 16-2.4 14-2.9 24-3.4 12-0.8 10-15.7 68-5.7 22-11.6 33.9-2.4 16.1-5.7 27.9-1 10-87.3 0 0-667.7zM1294.9 1331.9l2 0.7 1.4 1.5 0.4 2-0.8 2-1 0.9-2 0.7-2-0.3-1.9-1.3-1-2 0.9-2.5 2-1.5z"/>
<path fill="#9cff63" d="M1178.5 1006.2l0.3 6 1.2 6 8.6 22 9 30 6.5 16 6.8 11.8 14 17.7 22.7 24.5 8.6 10 24.7 31.6 16 15.9 25.2 18.4 3.5 4 2.1 6 0.4 8-0.9 14-1.1 6-2.6 6-3.2 4-12.3 12-7.3 8-44.8 56-11 16.3-7.1 11.7-11.3 22-5.1 12-5 15.9-4.6 18-2.3 14-2.8 24-2.6 12-1.2 9.1-15.9 72.9-4.6 18-11.7 35.9-2.2 14-5.9 28-1 10-86.6 0 0-667.7zM1292.9 1332.5l2-0.3 2 0.7 1.1 1.2 0.5 2-1.6 2.6-2 0.7-2-0.3-1.5-1-1-2 0.6-2z"/>
<path fill="#a1ff5e" d="M1178 1006.2l0.3 6 1.1 6 8.6 22 8.9 30 6 15.1 6 11.2 14 18.4 23 25.3 6.5 8 26.5 36.1 14.8 15.9 18.6 13.9 6.6 5.9 2.8 4.1 1.5 6 0.1 8-0.7 10-1.3 6-1.8 4-2.9 4-15.6 16-15.5 18-31 40-11.6 17.7-7.3 12.3-11.1 22-5.1 12-4.9 15.9-4.8 20-2 12-3.2 28-3.1 18-14.8 72-5.3 22-10.9 33.9-2.4 14-6.4 30-0.7 8-85.9 0 0-667.7zM1292.9 1332.8l2-0.3 2.7 1.6 0.6 2-1.3 2.3-2 0.8-3.1-1.1-1-2 0.6-2z"/>
<path fill="#a6ff59" d="M1177.5 1006.2l0.3 6 1.1 6.2 8.5 21.8 8.8 30 6.7 16.7 6 11.1 14 18.4 24.5 27.8 8.8 12 14.7 22.5 6 8.3 14 15.9 16.6 13.2 6.5 6 2.7 4 1.7 6 0.2 8-0.7 8-0.9 4-2.1 4.7-4 5.3-14 14.5-16 18.4-29.2 39.1-10.8 17-7.4 13-11.1 22-5 12-4.9 15.9-5 22-4.9 40-2.5 16-15.1 78-4.2 18-10.7 33.9-2.5 14-6.6 30-0.9 8-85.1 0 0-667.7zM1292.9 1333.2l2-0.4 2.4 1.3 0.7 2-1.1 2-2 0.9-2.7-0.9-1-2 0.6-2z"/>
<path fill="#abff54" d="M1177 1006.2l0.6 8 1.3 6.1 7.9 19.9 10.2 34 4.9 12 5 10 4 6.1 12 15.6 22.8 26.3 8.2 12 15 24.7 6 8.8 14 16.7 16 13.6 4.1 4.1 2.8 4 1.8 6 0.2 6-0.5 6-1.5 6-2.1 4-3.1 4-14.9 16-14.8 16.9-28 39-10 16.4-7.6 13.7-11.9 24-4.5 11.2-4.9 16.7-4.8 22-7.2 58-14.5 80-3.2 14-10 31.9-10 46-0.9 8-84.4 0 0-667.7zM1292.9 1333.5l2-0.4 2 0.9 0.8 2.1-0.8 1.6-2 1-2.2-0.6-1.2-2z"/>
<path fill="#b0ff4f" d="M1176.6 1006.2l0.5 8 1.3 6 7.8 20 8.7 30 6 15.5 6 12 14 19.2 23.3 27.3 9.9 16 12.8 22.9 6 9.4 12.4 15.6 18.9 18 2.7 4 1.9 6 0.2 4-0.6 6-1.2 4-2.1 4-4.6 6-27.6 31-26 37.6-10 16.8-7.8 14.6-11.7 24-4.8 12-4.7 15.9-4.6 22-5.2 46-3.5 26-12.2 70-3.2 14-9.3 29.9-10.3 46-0.9 8-83.7 0 0-667.7zM1292.9 1333.9l2-0.5 1.6 0.7 0.9 2-0.5 1.1-2 1.3-2-0.7-1.1-1.7z"/>
<path fill="#b5ff4a" d="M1176.1 1006.2l0.5 8 1.9 8 7.1 18 10.1 34 4.8 12 4.4 9.4 4 6.6 12 16.2 17.2 19.8 4.6 6 7.1 12 19.1 35.9 13.2 18 17.5 18 2.5 4 1.8 6 0 4-0.7 4-1.6 4-2.4 4-30.3 35.1-26 39.5-16 29.4-12 24.9-5.1 13.1-4.5 15.9-4.4 22.1-4.9 47.9-3.4 28-11.3 68-2.7 12-9 29.9-10.7 46-0.9 8-83 0 0-667.7zM1294.9 1333.6l1 0.5 1.3 2-2.3 2.1-2-0.9-0.8-1.2 0.8-1.7z"/>
<path fill="#baff45" d="M1175.7 1006.2l0.5 8 1.8 8 6.9 18 10.2 34 4.7 12 5.1 10.8 4 6.5 12 16.3 20.5 24.4 6.8 12 12.7 26.8 6 11.2 12 17.4 14.9 16.5 3.6 6 1.1 4-0.2 6-1.4 4-2.2 4-4.5 6-25.3 29.7-26 41.6-10 18.7-16 33.4-6 15.6-4 14.7-4 21-7.3 75.2-10.9 70-2.7 12-8.7 29.9-11.1 46-0.9 8-82.3 0 0-667.7zM1294.9 1333.9l2 2.2-2 1.8-2.5-1.8 0.5-1z"/>
<path fill="#bfff40" d="M1175.2 1006.2l0.5 8 1.8 8 6.8 18 9.4 32 9.2 22.5 5.6 9.5 10.4 14.4 18.3 21.6 4.3 6 4.2 8 15.2 33.5 4 7.6 10 15.5 14.8 17.3 2.2 4 1.8 6-0.2 6-1.3 4-2 4-4.3 6-19 21.9-6 7.8-24 40-10 19.3-16 33.8-6 15.8-4 14.8-4 22.1-6.7 76.4-10.2 68-2.5 12-4.6 17-3.5 10.9-8 34-3.5 12-1.3 10-81.6 0 0-667.7zM1292.9 1335.8l2-1.5 1.6 1.8-1.6 1.4-2-1.2z"/>
<path fill="#c4ff3b" d="M1174.8 1006.2l0.4 8 1.7 8 6.8 18 10.1 34 9.1 21.9 4.7 8.1 11.3 15.8 17.2 20.2 4.2 6 5.1 10 13.5 31.2 4 8 11.9 18.7 12.1 14 3.1 6 0.8 4 0 4-0.8 4-2.8 6-2.8 4-17.5 20.3-8 10.1-11 19.6-13 21.4-8 15.5-18 38.3-6 16.4-4 15.5-4 24.1-5.5 70.7-10.4 72-6.1 25.4-4.4 14.5-7.5 31.4-3.8 12.6-1.3 10-80.9 0 0-667.7zM1294.9 1334.9l1.1 1.2-1.1 0.9-1.6-0.9z"/>
<path fill="#c9ff36" d="M1174.4 1006.2l0.4 8 1.6 8 6.7 18 9.3 32 5.3 14 4.5 10 4.7 8.3 12 16.8 16 18.9 4.3 6 5.1 10 16.6 38.5 12 19.7 13.3 15.7 1.8 4 0.9 4 0 4-0.8 4-3 6-22.2 26.3-5.9 7.7-11 20-11.1 18.2-10 19.6-16 34.1-6 15.2-4.1 14.8-4.6 26-6.2 78-9.7 68-5.4 23.6-4.9 16.3-7.3 30-4.2 14-1.3 10-80.2 0 0-667.7zM1294.9 1335.4l0.6 0.7-0.6 0.5-0.9-0.5z"/>
<path fill="#cfff30" d="M1173.9 1006.2l0.4 8 1.6 8 7 19.7 8.9 30.3 4.4 12 5.3 12 5.4 9.6 10 14.2 16.9 20.2 4.4 6 4.1 8 14.6 34.9 4 8.2 10.2 16.8 13.4 16 2 4 1 4-0.4 6-2.5 6-4.3 6-23.4 27.7-11.2 20.3-12.8 21.2-8 15.8-18 38.4-6 16.4-4 15.2-4 23.9-5.6 75-10.1 72-4.9 22-4.7 15.9-8 32-3.8 12-1.3 10-79.5 0 0-667.7z"/>
<path fill="#d4ff2b" d="M1173.5 1006.2l0.6 10 1.8 8 6.5 18 9.4 32 9.1 22.3 5.4 9.7 10.6 15.1 20.3 24.9 5 10 16.7 39.6 12 20.1 12 14.2 2.2 4 1.1 4-0.4 6-2.7 6-4.5 6-22 26-3.7 5.9-8.5 16.1-11.5 19-8 15.5-18 38.4-6 15.5-4.3 15.5-4.4 26-6 78-9.6 70-5.4 23.9-3.6 12-8.6 34-3.9 12-1.3 10-78.8 0 0-667.7z"/>
<path fill="#d9ff26" d="M1173 1006.2l0.6 10 1.8 8 5.7 16 9.3 32 5.3 14 5.2 11.8 4.6 8.2 11.4 16.4 16.4 19.6 4.1 6 3.9 8 13.6 33.3 4 8.5 12 19.7 10.7 12.4 2.3 4 1.1 4-0.4 6-2.8 6-26.9 32.6-10.6 19.4-13.4 22.5-8 16-18 38.5-6 16.8-4 15.8-3.9 24.3-5.4 74-9.8 72-4.9 22.9-11.9 44.8-4.7 14.2-1.3 10-78 0 0-667.7z"/>
<path fill="#deff21" d="M1172.6 1006.2l0.6 10 1.6 8 6.1 17.7 9.5 32.3 5.4 14 4.5 10 4.6 8.4 12 17.3 15.4 18.3 4.1 6 4 8 14.5 35.5 4 8.2 11.2 18.2 11.6 14 2.3 6-0.5 6-2.9 6-25.7 30.9-11.7 21.1-12.3 20.6-8 15.8-18 38.4-6 16.1-4 15-4.4 26-5.9 78-9.7 71.2-4.3 20.8-11.6 43.4-5.4 16.5-1.3 10-77.3 0 0-667.7z"/>
<path fill="#e3ff1c" d="M1172.1 1006.2l0.6 10 1.5 8 6.7 20 8.8 30 4.5 12 5.3 12 5.4 9.7 11.3 16.3 15 18 4.3 6 4 8 17.5 42 11.9 19.9 11.6 14 2.4 6 0 4-2.2 6-4.4 6-21.9 26-12.2 22-11.3 18.8-8 15.6-18.5 39.6-6 16-4.8 17.9-3.9 24-5.9 78-9.4 70-5.4 25.7-10.8 40.2-5.4 16-1.2 10-76.6 0 0-667.7z"/>
<path fill="#e8ff17" d="M1171.6 1006.2l0.5 10 2.1 10 5.4 16 8.7 30 5.2 14 4.3 10 5.3 10 11.8 17.5 16 19.4 4 5.6 3.8 7.5 14.2 35 4 8.5 12 19.9 10.4 12.5 2.6 6 0 4-2.3 6-2.8 4-17.9 20.7-5.6 7.3-10.9 20-13.5 22.7-26 54.4-6 16.9-4.1 15.9-3.9 24-5.6 76-9.9 74-4.6 21.9-11.3 42-5.4 16-1.2 10-75.9 0 0-667.7z"/>
<path fill="#edff12" d="M1171.1 1006.2l0.5 10 2 10 5.3 16.2 9.4 31.8 5.2 14 4.5 10 5.5 10 11.4 16.8 15.9 19.2 4.1 6 3.8 8 12.9 32 4.6 10 12 19.9 10 12 2.7 6 0 4-2.3 6-25.7 31.1-11.5 20.9-12.5 21-8 15.8-18.3 39.2-5.9 16-4.2 15.9-4.3 26-5.7 76-9.6 72-5.9 27.9-10 37.5-5.7 16.5-1.1 10-75.2 0 0-667.7z"/>
<path fill="#f2ff0d" d="M1170.6 1006.2l0.7 12 2.3 10 13.9 46 8.8 22 6.3 12 10.8 16 5.5 7.3 10.9 12.7 4.1 6 3.9 8 13 32 4.5 10 11.6 19.5 10.3 12.4 2.7 6 0.1 4-2.5 6-24.9 30-12.1 22-12 20-8.1 16-18.7 40-5.7 16-4.7 17.9-3.9 24-5.8 78-9.8 72-3.1 16-5.7 22.9-6 22.2-6.4 18.8-1.1 10-74.5 0 0-667.7z"/>
<path fill="#f7ff08" d="M1170 1006.2l0.8 12 2.1 10 13.2 44 4.3 12 5.1 12 6.3 12 11.1 16.7 5.5 7.3 10.5 12.2 4.1 5.8 4 8 17.4 42 11.8 19.9 11.2 14 1.5 3.9 0.3 2.1-0.7 4-3.4 6-18.2 21.1-6 8.1-10.2 18.8-12 20-8.2 16-19.6 41.7-5.7 16.3-4.3 16.2-4.2 25.7-5.8 76.9-9.9 73.1-4 20-6 23.9-5.1 18-5.6 16-1.1 6-0.4 6-73.8 0 0-667.7z"/>
<path fill="#fcff03" d="M1169.4 1006.2l0.7 12 2.1 10 13.1 44 8.4 22 7.2 14 10.6 16 5.9 8 11.5 13.5 4 5.9 4 8.4 16.6 40.2 11.7 19.9 11.1 14 1.1 2 0.8 4-0.7 4-2.6 4.8-18.2 21.2-6 8-10.9 20-12 20-8.2 16-18.8 40-5.9 16.1-4.7 17.8-4.2 26-5.9 78-9.6 70-3.5 18.8-6 24.6-5.8 20.5-5.7 16-1.1 6-0.3 6-73.1 0 0-667.7z"/>
<path fill="#fffc00" d="M1168.8 1006.2l0.7 12 2.5 12 13.2 44 4.3 12 4.3 10 6.3 12 11.8 18 5 6.7 11.4 13.3 4 6 3 6 13.7 34 4.6 10 12 19.9 9.7 12 1.6 3.6 0.4 2.4-0.7 4-2.2 4-19.5 22.9-5.2 7.1-10.8 19.9-12 20.1-8.1 16-18.9 40-5.7 16-4.7 17.9-4.3 26-5.9 78-6.4 48.2-3.9 25.8-8 36.6-6 21.5-6.3 17.8-1 6-0.4 6-72.3 0 0-667.7z"/>
<path fill="#fff700" d="M1168.1 1006.2l0.8 12 2.4 12 12.4 42 8.2 22 7.3 14 10.4 16 5.7 8 11.9 14 4.2 6 3.5 7.1 13.3 32.9 4.5 10 11.9 19.9 9.6 12 1.1 2 1 4-0.7 4-2.3 4-18.7 22-5.7 7.7-10 18.5-12.9 21.8-26.1 54-5.9 16-5.2 19.9-4.3 26-3 34-3 44-9.5 68.7-4 21.2-6 25.3-4.2 14.7-6.9 20-1.3 12-71.6 0 0-667.7z"/>
<path fill="#fff200" d="M1167.4 1006.2l0.7 12 2.4 12 13.1 44 8.4 22 7.5 14 10.5 16 5.9 8 11 13 4 5.9 4 8.4 16.9 40.7 11.7 19.9 9.5 12 1.9 3.8 0.4 2.2-0.8 4-2.4 4-17.2 20.2-6 8-12 21.8-10.8 18-8.2 16-18.9 40-5.8 16-5.2 19.9-4.3 26-3.6 40-2.4 38-5.8 44-4.5 28-8.4 40-5.1 17.9-6.8 20-1.3 12-70.8 0 0-667.7z"/>
<path fill="#ffed00" d="M1166.7 1006.2l0.7 12 2.3 12 12.4 42 8 22 8.5 16 11.7 18 16.3 20 4 6 20.2 48 11.7 19.9 10.4 13.8 1.2 4.2-0.7 4-2.5 4-17 20-5.9 8-11.1 20.3-11.7 19.7-7.2 14-20 42-5.7 16-5 19.9-4.3 26-3.8 40-2.1 36-7 52-4.7 28-4.5 21.9-6.1 24-8 24-1.2 6-0.5 8-70.1 0 0-667.7z"/>
<path fill="#ffe800" d="M1165.8 1006.2l0.7 12 2.9 14 12.5 42 8.2 22 7.5 14 11.7 18 5.6 7.6 10.5 12.4 4.1 6 3.4 7 16.9 41 11.6 19.9 10.3 14 1.3 4-0.2 2-1.9 4.1-18.1 21.9-5.9 8-10 18.6-12.7 21.4-26.2 54-5.9 16-5.2 19.9-4.7 28-4.3 44-1.7 32-7 52-4.9 28-5.3 26.4-6 22.7-7.1 20.8-1.1 6-0.5 8-69.3 0 0-667.7z"/>
<path fill="#ffe300" d="M1164.9 1006.2l0.8 12 2.8 14 12.5 42 8.1 22 8.7 16 10.4 16 5.8 8 10.9 12.9 4 5.9 4 8.5 13.2 32.7 3.7 8 11.8 19.9 8.6 12 1.4 4-0.7 3.5-1.4 2.5-22.6 28.3-11.9 21.7-10.8 18-8.2 16-11.1 24.1-7 13.9-6 16-5.7 21.9-4.7 28-4.4 42-1.8 34-6.3 48.2-10.5 55.7-5.6 22-7.9 24-1.1 6-0.4 8-68.5 0 0-667.7z"/>
<path fill="#ffde00" d="M1164 1006.2l0.8 12 2.8 14 12.6 42 7.9 22 7.5 14 12.8 20 16 20 4 6 19.3 46 10.2 17.9 10.7 16 1.4 4-0.9 4-2.5 4-15.7 19.2-4.9 6.8-11.1 20.3-12.8 21.7-25.2 52-5.9 16-5.6 21.9-4.9 30-4.5 42-1.6 32-6 46-11.4 59.9-5.7 22-7.1 22-1.1 6-0.4 8-67.7 0 0-667.7z"/>
<path fill="#ffd900" d="M1163 1006.2l0.9 12 2.9 14 13.1 44 8.2 22 7.6 14 11.5 18 5.7 7.9 10.2 12.1 4.1 6 3.7 7.7 16.7 40.3 10.2 17.9 9.1 14 1.3 4-0.8 4-2.4 4-14.5 18-5.7 8-9.9 18.3-12.9 21.7-26.2 54-5.6 16-5.6 21.9-4.9 30-4.7 42-1.7 34-5.9 44-12.4 63.9-4.7 18-7 22-1 6-0.4 8-66.9 0 0-667.7z"/>
<path fill="#ffd400" d="M1162.1 1006.2l0.8 12 2.9 14 12.6 42 8.5 23.8 7.7 14.2 11.3 18 5.7 8 11.3 13.7 4 6.1 19.4 46.2 7.8 13.9 11 18 1.2 4-0.7 4-2.2 4-14.5 18.3-5.4 7.7-10.6 19.7-13.1 22.3-24.1 50-5.8 16-6 23.9-5 30-4.9 42-1.4 32-5.9 44-12.7 65.9-4.7 18-6.8 22-1 6-0.4 8-66.1 0 0-667.7z"/>
<path fill="#ffcf00" d="M1161.1 1006.2l0.9 12 2.9 14 13.3 44 7.8 22 7.4 14 12.4 20 15.7 20 4 6 3.4 7.1 15.2 36.9 5.2 9.9 12.9 22 2.1 6-0.1 2-1.4 4-19.3 26-10.6 19.4-13.3 22.6-24.9 52-5.7 16-5.9 23.9-5.2 32-5 40-1.6 34-5.6 42-12.8 65.9-4.6 18-6.7 22-0.9 6-0.4 8-65.3 0 0-667.7z"/>
<path fill="#ffc900" d="M1160.1 1006.2l0.9 12 3 14 13.3 44 7.7 22 7.2 14 12.2 20 5.6 8 10.9 13.6 4 6.3 18.6 44.1 16.7 29.9 2 6-0.6 4-2.1 4-17.5 24-11.1 20.4-12.6 21.6-23.8 50-5.8 16-6.3 25.9-5.6 34-4.9 38-1.4 32-5.5 42.1-12.7 65.8-4.5 18-7.1 24-0.9 6-0.4 8-64.4 0 0-667.7z"/>
<path fill="#ffc400" d="M1159.1 1006.2l0.9 12 3.1 14 13.3 44 7.6 22 6.9 13.9 11.9 20.1 5.5 8 10.9 14 3.9 6 18.8 44 15.2 27.9 1.8 4 0.9 4-0.6 4-1.9 4-16.8 24-24.7 44-22.4 48-5.6 16-6.6 27.9-8.6 56-2 18-1.2 28-5.6 42-12.6 65.9-4.4 18-6.9 24-1.3 14-63.6 0 0-667.7z"/>
<path fill="#ffbf00" d="M1158.1 1006.2l1 12 3.1 14 13.9 46 7.7 22 7.1 14.2 11.5 19.8 14.7 20 5 8 18 42 14.7 27.9 1.6 4 0.8 4-0.5 4-1.8 4-14.8 22-25.8 46-22 48-5.3 16-6.5 27.9-9.4 60-1.6 14-1.1 26-5.7 44-12.6 65.9-4.4 18-6.7 24-1.2 14-62.8 0 0-667.7z"/>
<path fill="#ffba00" d="M1157.1 1006.2l1 12 3.1 14 14 46 7.6 22 6.7 14 11.2 20 5.2 8 10.3 14 4.7 8 17.2 40 14.3 27.9 1.5 4 0.7 4-0.6 4-2.6 6-14.2 22-25.4 46-20.5 46-4.7 14-6.9 29.9-9.6 60-1.6 14-1.3 26-6.1 46-12.1 63.9-4.3 18-6.1 22-1.2 8-0.4 8-62 0 0-667.7z"/>
<path fill="#ffb500" d="M1156.1 1006.2l1 12 3.2 14 14 46 7.4 22 7.2 15.5 10 18.6 4.9 7.9 10 14 4.7 8 17.5 40 13.2 25.9 2.6 8-0.3 6-2.5 6-13.6 22-20.2 36-7 14-17.3 40.1-5.1 15.9-6.5 27.9-10.4 64-1.4 12-1.6 26-6 46-11.6 61.9-4.6 20-6 22-1.2 8-0.3 8-61.2 0 0-667.7z"/>
<path fill="#ffb000" d="M1155.1 1006.2l1 12 3.3 14 14.6 48 7.5 22 7.4 16.2 9.3 17.8 14.5 22 4.2 7.5 17 38.5 12.1 23.9 2.4 6 1 4-0.3 6-2.4 6-13.1 22-17.9 32-8.8 17.3-17 40.7-5 15.7-6.3 28.2-10.7 64-1.5 12-1.7 26-6.3 48-11.1 59.9-10.5 42-1.1 8-0.3 8-60.4 0 0-667.7z"/>
<path fill="#ffab00" d="M1154.1 1006.2l1.1 12 3.2 14 15.2 50 6.8 20 6.5 14.9 10 20.3 13.3 20.8 4.6 8 17.9 39.9 11.1 22 2.3 6 1 4-0.3 6-2.3 6-30.7 54-8.9 18.1-16 39.6-4.4 14.3-6.3 28-11.6 67.9-3 34-6.8 52-10.6 57.9-10.2 42-1.1 8-0.3 8-59.6 0 0-667.7z"/>
<path fill="#ffa600" d="M1153.1 1006.2l1.1 12 2.8 12 16.9 56 6.2 18 14.8 32.9 14.1 23.1 4.4 8 17.1 37.9 11 22 2.4 6 0.9 4-0.3 6-3.1 8-28.5 50.4-9.5 19.6-14.9 38-4.4 14-6.3 28-12.2 69.9-4.2 42-5.2 40-4.3 26-7.7 39.9-9.1 38-1 8-0.3 8-58.8 0 0-667.7z"/>
<path fill="#ffa100" d="M1152.1 1006.2l1.1 12 2.8 12 17.6 58 5.4 16 14.6 34 14.2 24 4.1 8 16.5 35.9 10.9 22 2.3 6 0.9 4-0.2 6-3 8-28 50-9.6 20-4.9 12-9.4 26-4.2 14-6.2 28-12.1 67.9-3.8 36-6.7 52-4.3 26-5.7 29.9-10.1 44-1.1 8-0.3 8-57.9 0 0-667.7z"/>
<path fill="#ff9c00" d="M1151.1 1006.2l1.1 12 2.9 12 18.1 60 5.7 16.8 12.9 31.2 17.8 32 17.6 37.9 9.9 20 2.3 6 0.9 4-0.2 6-2.8 8-26.8 48-10.4 22-6.2 16-8.3 24-2.8 10-6.2 28-13 71.9-10.7 88-3.9 24-5.3 27.9-10.3 46-1 8-0.3 8-57.1 0 0-667.7z"/>
<path fill="#ff9600" d="M1150.1 1006.2l1.2 12 3.4 14 19.4 64 8.8 24.5 8.9 21.5 15.1 27.5 27.9 58.4 2.4 6 1.1 6-0.7 6-3.3 8-23.4 41.8-10.7 22.2-7.1 18-10.7 34-6.2 28-6.9 39.9-6.7 34-10.1 82-3.2 22-7.9 41.9-8.5 38-1.1 8-0.5 10-56.3 0 0-667.7z"/>
<path fill="#ff9100" d="M1149.2 1006.2l1.1 12 3.5 14 19.9 66 11.2 31.7 6 14.3 13.9 26 27.8 57.9 2.4 6 1.2 6-0.7 6-3.2 8-22.3 40-11.1 23.1-6.6 16.9-10.3 34-6.6 30-6.5 37.9-7.7 38-13 102-7.5 39.9-8.6 40-1.2 8-0.4 10-55.5 0 0-667.7z"/>
<path fill="#ff8c00" d="M1148.2 1006.2l1.1 12 3.6 14 20 66.9 12 35 6 14 12.5 24.1 27 55.9 2.4 6 1.2 6-0.6 6-3.1 8-21.4 38.5-6.7 13.5-5.3 12-6 16-9.9 34-6 28-6.9 39.9-7.8 38-13.3 102-7.4 39.9-8.4 40-1.1 8-0.5 10-54.6 0 0-667.7z"/>
<path fill="#ff8700" d="M1147.3 1006.2l0.8 10 2.9 12.5 21.3 71.5 11.8 36 4.8 11.6 39.2 80.3 2.4 6 1.3 6-0.5 6-3 8-20 36-7.4 15-6 14-6 16.6-8.4 30.4-6.7 32-6.8 39.7-8 38.2-13.1 100-7 37.9-8.6 42-1.1 8-0.4 10-53.8 0 0-667.7z"/>
<path fill="#ff8200" d="M1146.4 1006.2l0.7 10 2.8 12 21 71.2 12 37.8 6 14.4 36.8 76.5 2.4 6 1.4 6-0.4 6-3 8-17.7 32-7.8 16-5.7 13.1-6.9 18.9-8 30-6.6 32-6.9 39.9-8.5 40-7 49.5-6.2 50.5-15.4 79.9-1.1 8-0.4 10-52.9 0 0-667.7z"/>
<path fill="#ff7d00" d="M1145.5 1006.2l0.7 10 2.8 11.8 21.9 74.8 11.6 37.4 6.4 15.2 35.1 74.7 2.2 6 0.8 4-0.3 6-1.9 6-17.9 32.8-8.1 17.2-5.9 14.1-6 16.9-7.4 29-6.9 34-6.9 39.9-8.7 40.7-6 40-7.4 59.3-15.1 79.9-1.1 8-0.4 10-52 0 0-667.7z"/>
<path fill="#ff7800" d="M1144.6 1006.2l0.7 10 2.3 10 33.3 113.5 6 15.1 35.1 77.3 2 6 0.5 4-0.8 6-2.3 6-15.2 28-13.3 30-7 20-7 27.7-6.8 34.3-6.8 39.9-9.8 46-6.5 43-6.3 51-15.2 81.9-1 8-0.4 10-51.1 0 0-667.7z"/>
<path fill="#ff7300" d="M1143.8 1006.2l0.7 10 2.2 10 33.7 116 4.5 11.6 21.5 48.4 6.5 16.7 6 13.2 2.1 6 0.6 4-0.6 6-2.2 6-13.9 26-14 33.2-6 17.4-6.2 25.4-7.4 38-6.8 39.9-7.7 34-3.8 21.5-6 39.9-6 48.2-14.7 80.3-1.1 16-50.2 0 0-667.7z"/>
<path fill="#ff6e00" d="M1142.9 1006.2l0.8 10 1.6 8 33.6 117.5 6 15.8 20.9 48.6 5.1 15 6.4 15 1.3 6-0.1 4-1.6 6-14 27.4-14 35-5.7 17.6-5.1 22-7.6 40-6.8 39.9-8.1 36-4.7 26-5.7 38-5.2 42-14.4 79.9-1 8-0.4 10-49.2 0 0-667.7z"/>
<path fill="#ff6900" d="M1142.2 1006.2l0.6 10 2.2 9.9 32.8 116.1 7.1 19.1 18.6 44.8 5.7 18 4.9 12 1.5 6 0 4-1.4 6-12.9 26-14.4 37.9-4.9 16.1-5 22-7 38-7.1 41.9-8.1 36-5.8 31.6-4.9 32.4-5.3 42-14.2 79.9-0.9 8-0.4 10-48.3 0 0-667.7z"/>
<path fill="#ff6300" d="M1141.4 1006.2l0.7 10 2.1 10 32.7 117.2 6 16.7 19.1 48 5.1 18 4.5 12 1.1 6-0.3 4-1.8 6-9.9 20-12.6 34-6.4 20-4.8 21-7.5 41-6.9 41.9-8.6 38-6.3 34-4.9 32-5.2 40-13.9 79.9-1.3 18-47.3 0 0-667.7z"/>
<path fill="#ff5e00" d="M1140.6 1006.2l0.7 10 1.7 8.5 32.4 117.5 5.5 16.5 18.9 49.4 5.3 20 3.9 12 0.7 4-0.2 4-0.9 4-9.7 20.9-12 33.9-6 19.2-4 17.6-3.9 20.4-11.3 67.9-8.7 38.8-6.7 35.2-4.7 30-5.3 40-13.7 79.9-1.3 18-46.3 0 0-667.7z"/>
<path fill="#ff5900" d="M1139.8 1006.2l0.7 10 2.1 10 32.1 118 4.2 13 19.3 52.9 8.5 34-0.1 4-0.8 4-8.9 20.3-9.3 27.7-7.4 24-3.3 13.8-4.2 22.2-11.8 71.9-9 40-7 36-4.4 28-5.1 38-13.5 79.9-1.2 10-0.4 10-45.3 0 0-667.7z"/>
<path fill="#ff5400" d="M1139.1 1006.2l0.6 10 1.6 8 32.2 120 5.4 17.1 17.1 48.8 7.8 34 0 4-0.8 4-8.1 19.9-8.4 26.1-7.1 24-3.3 14-4.1 22-11.9 73.9-9 40-7.8 40-9.2 62-13.3 79.9-1.1 10-0.3 10-44.4 0 0-667.7z"/>
<path fill="#ff4f00" d="M1138.3 1006.2l0.7 10 2.5 12 14.7 54 17.2 66 20.9 63.9 6.6 32 0.1 4-0.7 4-6.8 18-8.6 27.6-6.9 24.4-3.1 13.7-3.9 22.3-11.6 73.9-13.7 62-5.5 30-7 48-13.4 81.9-1.1 10-0.3 10-43.4 0 0-667.7z"/>
<path fill="#ff4a00" d="M1137.6 1006.2l0.6 10 2.5 12 14.6 54 17.4 68 19.9 63.9 5.7 30 0 4-1.1 6-5.8 16-8.2 28-6.3 22.8-2.8 13.2-15.5 97.9-14.3 64-6.1 34-19.4 123.9-1.1 10-0.3 10-42.4 0 0-667.7z"/>
<path fill="#ff4500" d="M1136.8 1006.2l0.6 10 2 10 15.4 58 17.2 68 18.4 61.9 2.9 14 2.5 16-0.2 6-0.9 4-4.8 14-7.9 28-8.8 36-15.4 99.9-14.8 66-6.6 36-18.3 117.9-1.2 10-0.5 12-41.4 0 0-667.7z"/>
<path fill="#ff4000" d="M1136.1 1006.2l0.6 10 1.9 10 15.7 60 16.6 67.1 16.8 58.8 3.4 16 2.3 16-0.2 6-0.8 4-4.5 14-7 25.8-8 32.9-4.2 25.3-11.7 79.9-14.5 64-4.3 22-4.2 24-16.7 107.9-1.4 12-0.5 12-40.4 0 0-667.7z"/>
<path fill="#ff3b00" d="M1135.3 1006.2l0.6 10 1.9 10 15.5 60 17.1 70 15.1 55.9 3.7 18 1.9 14-0.1 4-1 6-10.3 38-7.9 34-15.6 105.9-15.6 68-6 32-18.3 117.9-1.5 12-0.4 12-39.4 0 0-667.7z"/>
<path fill="#ff3600" d="M1134.6 1006.2l0.5 10 1.4 8 15.9 62 16.6 69.5 13.8 54.4 4.1 20 1.9 14-0.1 4-1 6-9.7 38-7.8 36-11.4 81.9-4.2 26-14.9 64-7 36-7.7 48.1-9.8 65.8-1.4 12-0.4 12-38.4 0 0-667.7z"/>
<path fill="#ff3000" d="M1133.8 1006.2l0.6 10 1.4 8 24.3 98 19.7 83.9 4.2 20 2.3 16 0 6-0.9 6-9.2 38-7.2 35.7-10.5 78.2-4.3 28-15.9 68-7.7 40-6.8 42-9.6 65.9-1.4 12-0.4 12-37.4 0 0-667.7z"/>
<path fill="#ff2b00" d="M1133 1006.2l0.6 10 1.4 8 27.3 112 16.7 75.9 3.4 18 1.6 12 0 6-0.8 6-8.3 36.1-7.2 37.9-9.8 76-4.5 29.9-16.5 70-8.1 42-6.3 38-9.1 63.9-1.6 14-0.4 12-36.4 0 0-667.7z"/>
<path fill="#ff2600" d="M1132.3 1006.2l0.5 10 1.4 8 27 112 15.3 73.9 3.6 20 1.5 12 0 6-0.9 8-7 32-7 38-6.7 56-7 50.1-3.4 15.8-14.6 60-6 30-6.2 36-10.9 77.9-1.2 12-0.3 10-35.4 0 0-667.7z"/>
<path fill="#ff2100" d="M1131.5 1006.2l0.6 10 1.7 10 27.1 114 13.1 67.9 3.8 22 1.4 12 0.1 6-0.8 8-6.2 30-6.9 40-6.3 56-6.9 49.9-3.2 15.5-15 60.5-6.1 30-6.6 38-10.7 77.9-1.2 20-34.4 0 0-667.7z"/>
<path fill="#ff1c00" d="M1130.7 1006.2l0.6 10 1.3 8 27.1 116 12.3 67.9 3.8 24 1.1 12-0.8 14-5.5 28-6.4 40-5.8 54-6.7 49.9-4.7 22.4-13.6 53.6-8.9 44-5.1 30-6.8 49.9-3.4 28-0.8 16-33.4 0 0-667.7z"/>
<path fill="#ff1700" d="M1129.9 1006.2l0.6 10 1.7 10 26.4 114 11 65.9 3.6 24 1.2 14-0.5 14-4.8 26-5.9 40-5.7 56-6.5 49.4-2 10.8-6 25.2-11.1 42.5-6.3 30-5.5 30-3.1 20-8.2 63.9-1 10-0.4 12-32.4 0 0-667.7z"/>
<path fill="#ff1200" d="M1129.1 1006.2l0.5 10 1.7 10 15.7 66.8 10.9 49.2 9.8 63.9 3.1 24 1.1 14-0.5 16-4 24-5.5 40-5.2 54-6.1 47.9-2 12-3.6 15.7-15 58.3-5.6 26-5.9 32-10.6 79.9-1.1 12-0.4 12-31.4 0 0-667.7z"/>
<path fill="#ff0d00" d="M1128.2 1006.2l0.5 10 1.7 10 16.6 71.3 9.8 44.7 8.7 62 3 25.9 0.9 14 0.1 10-0.6 8-8.2 62-4.9 54-6.4 49.9-2.4 13.5-4 16.8-13.2 49.7-6.1 28-6.1 32-3.1 20-7.9 63.9-1.3 22-30.3 0 0-667.7z"/>
<path fill="#ff0800" d="M1127.2 1006.2l0.5 10 1.7 10 26.3 116 8 62 3.3 39.9 0.2 10-0.6 10-7.6 64-4.4 52-5.6 45.1-2 12-4 17.3-15.2 57.5-5.8 26-6.1 32-2.4 16-7.8 63.9-1.2 12-0.4 12-29.1 0 0-667.7z"/>
<path fill="#ff0300" d="M1126.1 1006.2l0.6 10 1.6 10 21.8 94 4.6 22 7.2 60 2.9 39.9 0.3 12-0.7 12-6.8 64-3.8 48-4.8 40.3-4 23.6-6 24.6-11 39.4-6.4 28-7 36-2.7 18-7.7 63.9-1.3 22-27.9 0 0-667.7z"/>
<path fill="#fd0000" d="M1125 1006.2l0.5 10 2.1 12 22.4 96 3.7 18 6.8 60 2.7 43.9 0.1 10-0.7 12-6.2 62-3.4 45.6-6 49.5-2.2 12.8-5.8 24.3-13.2 47.7-5.9 26-6.3 32-3 20-7.1 57.9-1.6 16-0.4 12-26.5 0 0-667.7z"/>
<path fill="#f90000" d="M1123.8 1006.2l0.6 10 1.7 10 24 102 3.2 16 6.4 60 2.3 39.9 0 16-2 26-4.6 44-3.3 46-5.1 43-4 23.3-6 24.1-11.3 39.5-7.3 32-6.3 32-2.4 16-8.1 65.9-1.4 22-25.2 0 0-667.7z"/>
<path fill="#f50000" d="M1122.6 1006.2l0.9 12 1.9 10 23 96 3.8 18 6.2 58 2.5 41.9 0 18-2.2 30-4.2 40-3.5 48.3-6 48.3-2 11.4-4 16.9-15.3 55-5.9 26-6.5 32-2.7 18-8.6 67.9-1.2 20-23.8 0 0-667.7z"/>
<path fill="#f10000" d="M1121.2 1006.2l0.6 10 1.9 10 24 98 3.8 18 6.4 62 2.1 39.9 0 16-2 28-4.4 42-3.5 48-5.4 43.9-2.3 14-3.4 15-17 61-11.8 56-2.3 14-9.9 75.9-0.9 16-22.1 0 0-667.7z"/>
<path fill="#ed0000" d="M1119.6 1006.2l0.4 8 1.8 10 24.1 96 4.9 22 6.3 62 2 39.9 0.1 14-1.3 20-5.4 54-3 42-6.5 52.7-2 11.3-4 16.5-15.2 53.4-12 56-2.5 14-8.3 61-3.4 20.9-0.9 14-11.6 0-0.3-4-1.8-5.5-2-1.6-4-0.5 0-656.1z"/>
<path fill="#e90000" d="M1117.9 1006.2l0.5 8 1.9 10 22.7 87.3 7.1 30.7 6.2 62 2.1 41.9-0.2 14-1.4 22-5.3 50-2.9 42-3.5 30-3.7 25.9-4.4 20.3-14.4 49.7-6.6 28-9.3 46-9.7 65.6-2 9.6-2 6.3-2 2.2-2-2.7-6-13.5-2-2.1-2-0.9-4-0.4 0-631.9z"/>
<path fill="#e50000" d="M1116.3 1006.2l0.5 8 1.9 10 22.3 82.8 8.5 35.2 6.1 62 1.9 37.9-0.1 18-1.8 26-5 46-3.4 46-6.6 49.9-4.7 22-14 48-4.4 18-11.4 54-9.1 57.3-2 8.2-2 4.3-2-0.4-0.8-1.5-7.2-17.9-2-2.3-2-1-4-0.4 0-610.1z"/>
<path fill="#e10000" d="M1114.6 1006.2l0.5 8 2 10 21.9 78.6 9.5 37.4 1.6 12 4.6 50 1.9 35.9 0.1 20-1.9 28-5.1 46-3.5 46-7 51.9-5 22-16.1 56-12.5 58-8.6 48.9-2 6.4-2 2.1-2-2.5-6-18.1-2-4.4-2-2.5-2-1-4-0.4 0-588.3z"/>
<path fill="#dd0000" d="M1112.9 1006.2l0.6 8 2 10 23.5 81.8 8.8 34.2 1.6 12 4.4 48 2 33.9 0.1 22-1.7 28-5.5 48-3.5 46-6.8 49.9-2.3 12-3.1 12-15.2 52-13.7 62-5.1 27.7-2 8.1-2 4.5-2-0.2-2-4.3-5-17.8-1.7-8-0.9-8-2.4-42.6-2-20.1-2-7-2-1.6 0-490.5z"/>
<path fill="#d90000" d="M1111.2 1006.2l0.6 8 2.1 10 25.1 84.9 8.1 31.1 1.7 12 4.4 50 1.9 35.9 0 20-1.9 28-5.4 46-3.6 46-7.2 51.9-4.6 20-16 54-17.4 77.5-2 6.6-2 2.2-2-2.3-2.3-8-1.3-8-1-12-4.6-112-1.6-63.9-1.7-243.9 1.8-134z"/>
<path fill="#d50000" d="M1109.5 1006.2l0.6 8 2.2 10 24.7 81.1 9.5 34.9 1.6 12 4.4 50 1.9 35.9-0.1 20-1.9 28-5.5 46-3.6 46-7.4 51.9-4.9 20.8-15 49.2-15 61.7-2 6.4-2 3.9-2-1-1.6-7-2.5-26-4.7-96-1.5-61.9 0-48-2.2-193.9 2.6-132z"/>
<path fill="#d10000" d="M1087 1006.2l20.8 0 0.6 8 2.2 10 26.4 84.1 8.8 31.9 1.7 12 4.1 48 2 33.9 0 22-1.8 28-5.9 48-3.6 46-7.3 50.5-4 17.8-16.7 53.6-9.3 35.6-4 11-2 2.3-2-2.2-2-8.7-2-19.4-4.9-76.6-1.6-57.9-0.2-52-2.6-191.9z"/>
<path fill="#cd0000" d="M1089 1006.2l16.9 0 0.6 8 1.7 8 26.8 82.5 8 26.6 2.5 10.9 1.3 10 4.6 53.9 1.5 28-0.1 22-1.8 28-6 48-3.7 46-7.7 51.9-2.6 11.9-4 13.6-18 54.2-4 9.9-2 2.4-2 0.4-2-2-2-6.2-2-13.3-2-19.5-3.4-43.4-1.7-53.9-0.2-52-1.3-56-1.7-135.9 1.8-76z"/>
<path fill="#c90000" d="M1091 1006.2l12.6 0 0.7 8 1.8 8 26.9 79.3 10 32.4 1.8 8.3 1.4 10 4.5 53.9 1.4 24 0 26-1.9 28-6.2 48-3.7 46-7.3 48.5-2 10.1-4 14.1-10 27.4-6 12.8-2 2.7-2 1.5-2 0.5-2-0.1-2-0.8-2-2.6-2-6.5-2-12-2-15.7-1.8-20-2-53.9-0.2-52-1.5-54-2-137.9 2.3-80z"/>
<path fill="#c50000" d="M1098.5 1006.2l1 6 2 6 7.5 18 6 16.2 18 52 10.3 33.8 1.5 8 1.1 10 4.2 51.9 1.3 24-0.1 24-1.9 28-6.3 48-3.9 46-7.8 49.9-4.4 17.7-4 11.1-4 8.8-4 5.8-2 1.4-4 0.8-6-0.2-2-0.7-2-2.3-2-5.2-2-9.4-2.4-21.8-2.3-53.9 0-48-2-58-2-139.9 1.5-50 2.6-44 2.6-19.8 2.7-14.2z"/>
<path fill="#c10000" d="M1097 1030.6l2-0.2 2 0.6 2 1.6 4 6.1 4 8.6 20 54.2 10.6 32.7 1.9 8 1.4 10 5.7 75.9 0 26-1.6 26-6.6 50-3.5 42-3.9 27.2-6 33.3-4 12.8-4 8.2-2 2.6-2 1.4-4 0.7-8 0-4-0.7-2-2.1-2-5.1-2-11.2-0.7-7.2-2.7-49.9-0.1-50-2.2-56-2.4-139.9 1.7-48 2.4-36.6 2-13.7 2-5.6z"/>
<path fill="#bd0000" d="M1097 1045.7l4-0.5 4 1.1 2 1.7 4 6.3 4 8.9 12 30.5 14 40.9 2 8.4 1.2 9.2 5.5 71.9 0.2 26-1.5 28-7.2 54-4.2 47.1-6 34.4-4 18.2-2 5.6-2 3.7-2 2.2-4 1.4-14-0.1-2-0.7-2-2.6-2-7.2-0.7-6.1-3.3-43.6-0.3-52.3-2.6-58-2.5-135.9 1.4-39.7 2-28.8 2-15.6 2-6.3z"/>
<path fill="#b90000" d="M1101 1060.1l6 0.4 2 0.9 2 1.9 4 6.4 6 12.9 8 19.7 11.6 33.9 1.8 8 1.1 8 5.5 71.9 0.2 26-1.6 28-7.4 54-3.1 36-1.5 12-4.6 23.8-4 15-2 4.8-2 2.5-4 1.1-14-0.1-2-0.2-2-1.4-2-4.6-2-11.2-2.8-29.7-0.3-48-2.9-58-2.7-137.9 2.2-44 2.5-22.2 2-6.9 2-2.3z"/>
<path fill="#b50000" d="M1097 1075l4-0.7 8 0.1 4 1.3 2 1.9 6 9.8 10 23.5 8 22.5 2.7 10.8 1.3 10 4 50 1.4 21.9 0.2 14-0.8 24-1.8 22-6.6 44-3.8 40-2.6 16.4-4 13.4-2 3.5-2 1.5-2 0.4-18 0.1-2-0.3-2-1.1-2-3.5-2-8.4-1.3-12-0.5-12-0.1-36-3.3-62-2.9-127.9 1-26 1.7-22 1.4-10.5 2-6.5z"/>
<path fill="#b10000" d="M1097 1087.3l6-0.7 8 0 4 0.6 2 1.2 4 4.8 8 16.3 8 20.8 3.9 13.9 1.3 10 5.6 73.9-0.2 22-1.3 24-2 18-6.4 40-2.9 31.2-2 13.9-2 7.4-2 4.2-2 1.9-2 0.6-20 0.1-2-0.2-2-1.2-2-3.8-1.9-12.1-0.6-42-2.7-36-1.2-26-3-125.9 1.4-30.5 2-17.3 2-6.9z"/>
<path fill="#ad0000" d="M1097 1099.1l4-0.8 16 0.3 4 2 2 2.3 6 10.8 8 19.7 2.6 8.8 1.6 10 5.8 73.9 0 20.3-1.3 25.7-2.7 23.3-6.8 38.7-3.2 28.8-2 9.8-2 4-2 1.3-2 0.4-18 0-4-0.6-2-2.1-1.9-9.6-1.1-34-3-33.7-1.4-24.3-3.2-125.9 0.6-20.1 2-19 2-7.6z"/>
<path fill="#a90000" d="M1099 1110.2l20-0.1 4 1.1 2 1.7 2 2.5 4 7.2 6 14.3 2.1 7.3 1.4 10 5.8 73.9-0.2 20-1.3 24-1.4 14-2.4 15.5-10 48.5-2 4.1-2 1.3-2 0.2-18 0-2-0.5-2-2.6-2-11.4-4-32.8-2-24.7-1.2-29.6-2.5-109.9 1.7-22.5 2-8.2 2-2.7z"/>
<path fill="#a50000" d="M1099 1121.9l22-0.1 4 0.5 2 1 4 4.8 4 7.8 2 5.3 2 8.5 6.3 72.4 0.3 14-0.6 20.4-2 26.2-4 23.2-4 15.5-2 4.8-2 2.6-2 1-20 0.2-4-0.7-2-2.1-2-5.1-2-9.6-2.4-20.4-1.6-28-1.2-36-1.5-77.9 0.7-15.3 1.8-8.7 2.2-3.6z"/>
<path fill="#a10000" d="M1099 1133.8l26 0 4 0.7 2 1.3 2 2.4 2 3.6 2.4 8.4 1.6 10.7 5.5 61.2 0.4 12-0.6 18-1.8 26-3.5 21.3-4 13.8-2 3.3-2 1.4-2 0.4-20 0.1-4-0.6-2-1.8-2-4.7-2-9.8-2.1-19.4-1.9-39.8-1.3-82.1 0.2-12 1.1-9.9 2-3.7z"/>
<path fill="#9d0000" d="M1131 1148.2l2 1 2 3 2 8 6 52.7 1 17.2-0.2 14-2.2 32-2.6 16.6-2 7.3-2 4.8-2 2.5-2 0.9-22 0.2-4-0.6-2-1.9-2-5-1-4.8-2.2-18-1.9-36-0.8-30 0-35.9 0.3-14 1.2-10 0.4-1.7 2-2.2z"/>
<path fill="#990000" d="M1101 1167.8l30-0.2 2 0.6 2 2.4 2 6.8 4 26.3 1.6 16.4 0.5 10-0.1 12-2 29.4-2 13.7-2 7-2 3.9-2 1.7-2 0.6-24 0-2-0.6-2-2-2-5.4-2-13-1.9-29.3-0.9-36 0.8-31.8 2-10.7z"/>
<path fill="#950000" d="M1101 1187.7l2-0.9 2-0.2 26 0.1 2 0.3 2 1.4 2 4.1 2 8.5 2 13.6 1 13.5 0 10-1 17.5-2 19.1-2 8.5-2 3.5-2 1.3-26 0.2-2-0.6-2.4-3.5-1.6-5.8-2-19.6-1.6-30.6 0.7-27.9 0.9-8z"/>
<path fill="#910000" d="M1105 1201.9l28 0.1 2 0.9 2 3 2 7.2 1.2 9 0.7 8-0.2 8-1.7 19.3-2 11.4-2 4.8-2 1.3-26 0.1-2-1-2-3.9-2-10.8-2-21.2-0.2-18 0.6-8 1.6-7.7 2-2.1z"/>
<path fill="#8d0000" d="M1103 1218l2-1.2 2-0.3 24 0 4 0.8 2.1 2.8 1.3 6 0.6 6-2 15.1-2 4-2 1.1-4 0.2-20 0-2-0.2-2-0.9-2-3.6-2-11.7 0-11.4z"/>
</g></g>
<rect x="1167.61" y="1337.9" width="68.29" height="3.4" fill="url(#rg)" fill-opacity="0.3" filter="url(#b1)"/>
<rect class="ax" x="1078.3" y="1012.2" width="630.4" height="654.8"/>
<path class="tc" d="M1183.37 1667v-6.6M1183.37 1012.2v6.6M1288.43 1667v-6.6M1288.43 1012.2v6.6M1393.5 1667v-6.6M1393.5 1012.2v6.6M1498.57 1667v-6.6M1498.57 1012.2v6.6M1603.63 1667v-6.6M1603.63 1012.2v6.6M1078.3 1077.68h6.6M1708.7 1077.68h-6.6M1078.3 1143.16h6.6M1708.7 1143.16h-6.6M1078.3 1208.64h6.6M1708.7 1208.64h-6.6M1078.3 1274.12h6.6M1708.7 1274.12h-6.6M1078.3 1339.6h6.6M1708.7 1339.6h-6.6M1078.3 1405.08h6.6M1708.7 1405.08h-6.6M1078.3 1470.56h6.6M1708.7 1470.56h-6.6M1078.3 1536.04h6.6M1708.7 1536.04h-6.6M1078.3 1601.52h6.6M1708.7 1601.52h-6.6"/>
<text class="d tk" text-anchor="middle" transform="translate(1078.6 1697.9) scale(1 1.05)">0</text>
<text class="d tk" text-anchor="middle" transform="translate(1183.67 1697.9) scale(1 1.05)">100</text>
<text class="d tk" text-anchor="middle" transform="translate(1288.73 1697.9) scale(1 1.05)">200</text>
<text class="d tk" text-anchor="middle" transform="translate(1393.8 1697.9) scale(1 1.05)">300</text>
<text class="d tk" text-anchor="middle" transform="translate(1498.87 1697.9) scale(1 1.05)">400</text>
<text class="d tk" text-anchor="middle" transform="translate(1603.93 1697.9) scale(1 1.05)">500</text>
<text class="d tk" text-anchor="middle" transform="translate(1709 1697.9) scale(1 1.05)">600</text>
<text class="d tk" text-anchor="end" transform="translate(1068.4 1020.7) scale(1 1.05)">1</text>
<text class="d tk" text-anchor="end" transform="translate(1068.4 1086.18) scale(1 1.05)">0.8</text>
<text class="d tk" text-anchor="end" transform="translate(1068.4 1151.66) scale(1 1.05)">0.6</text>
<text class="d tk" text-anchor="end" transform="translate(1068.4 1217.14) scale(1 1.05)">0.4</text>
<text class="d tk" text-anchor="end" transform="translate(1068.4 1282.62) scale(1 1.05)">0.2</text>
<text class="d tk" text-anchor="end" transform="translate(1068.4 1348.1) scale(1 1.05)">0</text>
<text class="d tk" text-anchor="end" transform="translate(1068.4 1413.58) scale(1 1.05)"><tspan class="mn" dy="-1.7">−</tspan><tspan dy="1.7">0.2</tspan></text>
<text class="d tk" text-anchor="end" transform="translate(1068.4 1479.06) scale(1 1.05)"><tspan class="mn" dy="-1.7">−</tspan><tspan dy="1.7">0.4</tspan></text>
<text class="d tk" text-anchor="end" transform="translate(1068.4 1544.54) scale(1 1.05)"><tspan class="mn" dy="-1.7">−</tspan><tspan dy="1.7">0.6</tspan></text>
<text class="d tk" text-anchor="end" transform="translate(1068.4 1610.02) scale(1 1.05)"><tspan class="mn" dy="-1.7">−</tspan><tspan dy="1.7">0.8</tspan></text>
<text class="d tk" text-anchor="end" transform="translate(1068.4 1675.5) scale(1 1.05)"><tspan class="mn" dy="-1.7">−</tspan><tspan dy="1.7">1</tspan></text>
<text class="d lb" text-anchor="middle" transform="translate(1392.9 1738.8) scale(1 1.1)">E [keV]</text>
<text class="d lb" transform="translate(990.5 1378.4) rotate(-90) scale(1 1.1)">v<tspan class="sb" dx="1.2 1.7" dy="14.2">||</tspan><tspan dx="4.5 3.6" dy="-14.2">/v</tspan></text>
<text class="d ti" text-anchor="middle" transform="translate(1394.1 1001.8) scale(0.99 1.1)">n(H)=5%</text>
<text class="t" transform="translate(1081.3 988.1) scale(1 0.98)" font-size="70">(d)</text>
<rect x="1749.5" y="1010.9" width="46.4" height="657.1" fill="url(#jet)"/>
<rect x="1749.9" y="1011.3" width="45.6" height="656.3" fill="none" stroke="#000" stroke-opacity=".32" stroke-width="1.3"/>
<path d="M1795.9 1093.04h-7.6M1795.9 1175.18h-7.6M1795.9 1257.31h-7.6M1795.9 1339.45h-7.6M1795.9 1421.59h-7.6M1795.9 1503.73h-7.6M1795.9 1585.86h-7.6" fill="none" stroke="#000" stroke-opacity=".5" stroke-width="1.6"/>
<text class="d cb" transform="translate(1804.3 1021.3) scale(1 1.07)">10<tspan class="ex" dx="1.2" dy="-8">16</tspan></text>
<text class="d cb" transform="translate(1804.3 1103.44) scale(1 1.07)">10<tspan class="ex" dx="1.2" dy="-8">15</tspan></text>
<text class="d cb" transform="translate(1804.3 1185.58) scale(1 1.07)">10<tspan class="ex" dx="1.2" dy="-8">14</tspan></text>
<text class="d cb" transform="translate(1804.3 1267.71) scale(1 1.07)">10<tspan class="ex" dx="1.2" dy="-8">13</tspan></text>
<text class="d cb" transform="translate(1804.3 1349.85) scale(1 1.07)">10<tspan class="ex" dx="1.2" dy="-8">12</tspan></text>
<text class="d cb" transform="translate(1804.3 1431.99) scale(1 1.07)">10<tspan class="ex" dx="1.2" dy="-8">11</tspan></text>
<text class="d cb" transform="translate(1804.3 1514.13) scale(1 1.07)">10<tspan class="ex" dx="1.2" dy="-8">10</tspan></text>
<text class="d cb" transform="translate(1804.3 1596.26) scale(1 1.07)">10<tspan class="ex" dx="1.2" dy="-8">9</tspan></text>
<text class="d cb" transform="translate(1804.3 1678.4) scale(1 1.07)">10<tspan class="ex" dx="1.2" dy="-8">8</tspan></text>
<text class="d cu" transform="translate(1701.6 986.2) scale(1 1.1)" dx="0 -0.3 4.6 2.8 -1.1">[1/(m<tspan class="su" dx="3" dy="-8.2">3</tspan><tspan dx="3.6 3 0 1 3.6 -0.8" dy="8.2">·keV)]</tspan></text>
<ellipse cx="1078.3" cy="1443" rx="1.2" ry="11.5" fill="#333" fill-opacity=".5"/>
<ellipse cx="1708.7" cy="1443" rx="1.2" ry="11.5" fill="#333" fill-opacity=".5"/>
<ellipse cx="1749.9" cy="1443" rx="1.2" ry="11.5" fill="#333" fill-opacity=".5"/>
<ellipse cx="1795.5" cy="1443" rx="1.2" ry="11.5" fill="#333" fill-opacity=".5"/>
</g>
</svg>
</body></html>
